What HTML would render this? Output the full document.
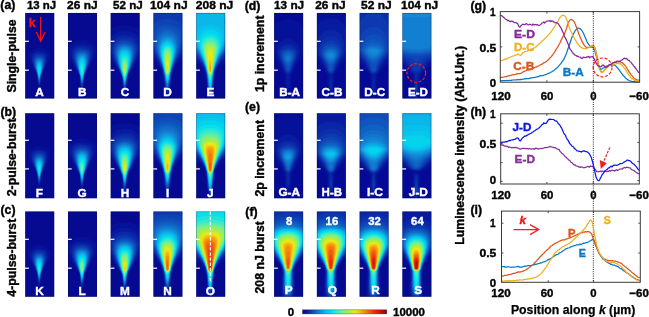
<!DOCTYPE html>
<html><head><meta charset="utf-8"><title>Figure</title><style>html,body{margin:0;padding:0;background:#fff}svg{display:block}</style></head><body>
<svg width="649" height="317" viewBox="0 0 649 317" font-family="'Liberation Sans', sans-serif" font-weight="bold">
<defs><filter id="bl" x="-10%" y="-10%" width="120%" height="120%" color-interpolation-filters="sRGB"><feGaussianBlur stdDeviation="0.7"/></filter>
<clipPath id="c1"><rect x="25.2" y="12.9" width="29.0" height="85.6"/></clipPath><clipPath id="c2"><rect x="68.0" y="12.9" width="29.0" height="85.6"/></clipPath><clipPath id="c3"><rect x="110.7" y="12.9" width="29.0" height="85.6"/></clipPath><clipPath id="c4"><rect x="153.4" y="12.9" width="29.0" height="85.6"/></clipPath><clipPath id="c5"><rect x="196.2" y="12.9" width="29.0" height="85.6"/></clipPath><clipPath id="c6"><rect x="25.2" y="113.3" width="29.0" height="84.9"/></clipPath><clipPath id="c7"><rect x="68.0" y="113.3" width="29.0" height="84.9"/></clipPath><clipPath id="c8"><rect x="110.7" y="113.3" width="29.0" height="84.9"/></clipPath><clipPath id="c9"><rect x="153.4" y="113.3" width="29.0" height="84.9"/></clipPath><clipPath id="c10"><rect x="196.2" y="113.3" width="29.0" height="84.9"/></clipPath><clipPath id="c11"><rect x="25.2" y="211.4" width="29.0" height="85.3"/></clipPath><clipPath id="c12"><rect x="68.0" y="211.4" width="29.0" height="85.3"/></clipPath><clipPath id="c13"><rect x="110.7" y="211.4" width="29.0" height="85.3"/></clipPath><clipPath id="c14"><rect x="153.4" y="211.4" width="29.0" height="85.3"/></clipPath><clipPath id="c15"><rect x="196.2" y="211.4" width="29.0" height="85.3"/></clipPath><clipPath id="c16"><rect x="274.1" y="12.9" width="29.0" height="85.6"/></clipPath><clipPath id="c17"><rect x="316.9" y="12.9" width="29.0" height="85.6"/></clipPath><clipPath id="c18"><rect x="359.6" y="12.9" width="29.0" height="85.6"/></clipPath><clipPath id="c19"><rect x="402.4" y="12.9" width="29.0" height="85.6"/></clipPath><clipPath id="c20"><rect x="274.1" y="113.3" width="29.0" height="84.9"/></clipPath><clipPath id="c21"><rect x="316.9" y="113.3" width="29.0" height="84.9"/></clipPath><clipPath id="c22"><rect x="359.6" y="113.3" width="29.0" height="84.9"/></clipPath><clipPath id="c23"><rect x="402.4" y="113.3" width="29.0" height="84.9"/></clipPath><clipPath id="c24"><rect x="274.1" y="211.4" width="29.0" height="85.3"/></clipPath><clipPath id="c25"><rect x="316.9" y="211.4" width="29.0" height="85.3"/></clipPath><clipPath id="c26"><rect x="359.6" y="211.4" width="29.0" height="85.3"/></clipPath><clipPath id="c27"><rect x="402.4" y="211.4" width="29.0" height="85.3"/></clipPath>
<linearGradient id="cb" x1="0" x2="1" y1="0" y2="0"><stop offset="0.000" stop-color="#080876"/><stop offset="0.050" stop-color="#08189e"/><stop offset="0.100" stop-color="#0c3bb1"/><stop offset="0.150" stop-color="#105fc3"/><stop offset="0.200" stop-color="#1383d5"/><stop offset="0.250" stop-color="#0dabe5"/><stop offset="0.300" stop-color="#06cbed"/><stop offset="0.350" stop-color="#09e2ea"/><stop offset="0.400" stop-color="#33e9ce"/><stop offset="0.450" stop-color="#64eea0"/><stop offset="0.500" stop-color="#8def70"/><stop offset="0.550" stop-color="#adee41"/><stop offset="0.600" stop-color="#d7ec24"/><stop offset="0.650" stop-color="#f2d912"/><stop offset="0.700" stop-color="#f7ac0e"/><stop offset="0.750" stop-color="#f48010"/><stop offset="0.800" stop-color="#f05613"/><stop offset="0.850" stop-color="#eb2e14"/><stop offset="0.900" stop-color="#d81811"/><stop offset="0.950" stop-color="#b00c0e"/><stop offset="1.000" stop-color="#7a050a"/></linearGradient>
</defs>
<rect width="649" height="317" fill="#fff"/>
<g clip-path="url(#c1)"><g filter="url(#bl)">
<rect x="22.2" y="9.9" width="35.0" height="91.7" fill="#060a91"/>
<path fill="#06119a" fill-rule="evenodd" d="M39.2,90.2L38.5,88.9L37.6,84.9L37.2,78.6L36.2,73.9L32.5,66.9L29.8,60.9L28.9,57.9L28.5,54.9L28.6,53.9L29.2,52.2L31.2,50.3L36.2,48.1L39.2,47.7L42.2,48.1L47.2,50.3L49.2,52.2L49.8,53.9L49.9,54.9L49.5,57.9L48.6,60.9L45.9,66.9L42.2,73.9L41.2,78.6L40.8,84.9L39.9,88.9Z"/>
<path fill="#081ba0" fill-rule="evenodd" d="M39.2,87.4L37.7,82.9L37.2,75.8L36.2,72.8L31.9,62.9L30.9,57.9L31.2,54.9L32.4,52.9L35.2,51.4L39.2,50.9L43.2,51.4L46.0,52.9L47.2,54.9L47.5,57.9L46.5,62.9L42.2,72.8L41.2,75.8L40.7,82.9Z"/>
<path fill="#0a25a5" fill-rule="evenodd" d="M39.2,85.7L37.9,81.9L37.2,75.1L32.9,63.9L32.4,61.9L32.0,58.9L32.5,55.9L33.8,53.9L36.2,52.6L39.2,52.3L42.2,52.6L44.6,53.9L45.9,55.9L46.4,58.9L46.0,61.9L45.5,63.9L41.2,75.1L40.5,81.9Z"/>
<path fill="#0b2faa" fill-rule="evenodd" d="M39.2,84.8L38.0,80.9L37.2,74.5L33.7,64.9L32.8,59.9L33.4,56.9L34.6,54.9L36.2,53.9L39.2,53.4L42.2,53.9L43.8,54.9L45.0,56.9L45.6,59.9L44.7,64.9L41.2,74.5L40.4,80.9Z"/>
<path fill="#0c39b0" fill-rule="evenodd" d="M39.2,84.0L38.2,80.9L37.2,74.1L34.6,66.9L33.4,60.9L33.9,57.9L35.2,55.9L37.2,54.7L39.2,54.4L41.2,54.7L43.2,55.9L44.5,57.9L45.0,60.9L43.8,66.9L41.2,74.1L40.2,80.9Z"/>
<path fill="#0d43b5" fill-rule="evenodd" d="M39.2,83.3L38.4,80.9L37.2,73.7L34.7,65.9L33.9,60.9L34.3,58.9L35.2,57.3L37.2,55.8L39.2,55.4L41.2,55.8L43.2,57.3L44.1,58.9L44.5,60.9L43.7,65.9L41.2,73.7L40.0,80.9Z"/>
<path fill="#0e4dba" fill-rule="evenodd" d="M39.2,82.7L38.4,79.9L37.2,73.3L34.9,65.9L34.4,61.9L34.6,59.9L35.7,57.9L37.2,56.8L39.2,56.4L41.2,56.8L42.7,57.9L43.8,59.9L44.0,61.9L43.5,65.9L41.2,73.3L40.0,79.9Z"/>
<path fill="#0f57bf" fill-rule="evenodd" d="M39.2,82.1L37.2,72.9L35.4,66.9L34.8,61.9L35.1,59.9L36.2,58.3L37.2,57.6L39.2,57.2L41.2,57.6L42.2,58.3L43.3,59.9L43.6,61.9L43.0,66.9L41.2,72.9Z"/>
<path fill="#1061c4" fill-rule="evenodd" d="M39.2,81.5L37.3,72.9L35.6,66.9L35.1,62.9L35.3,60.9L36.2,59.2L37.2,58.3L39.2,57.9L41.2,58.3L42.2,59.2L43.1,60.9L43.3,62.9L42.8,66.9L41.1,72.9Z"/>
<path fill="#116bc9" fill-rule="evenodd" d="M39.2,81.0L35.8,66.9L35.5,62.9L35.8,60.9L36.3,59.9L37.2,59.1L39.2,58.5L41.2,59.1L42.1,59.9L42.6,60.9L42.9,62.9L42.6,66.9Z"/>
<path fill="#1275ce" fill-rule="evenodd" d="M39.2,80.4L36.0,66.9L35.8,63.9L36.3,60.9L37.2,59.8L39.2,59.2L41.2,59.8L42.1,60.9L42.6,63.9L42.4,66.9Z"/>
<path fill="#137fd3" fill-rule="evenodd" d="M39.2,79.8L36.4,67.9L36.0,64.9L36.2,62.5L36.9,60.9L38.2,59.9L39.2,59.8L40.2,59.9L41.5,60.9L42.2,62.5L42.4,64.9L42.0,67.9Z"/>
<path fill="#1489d7" fill-rule="evenodd" d="M39.2,79.3L36.5,67.9L36.3,64.9L36.5,62.9L37.2,61.3L38.2,60.5L39.2,60.4L40.2,60.5L41.2,61.3L41.9,62.9L42.1,64.9L41.9,67.9Z"/>
<path fill="#1294dc" fill-rule="evenodd" d="M39.2,78.8L37.1,69.9L36.5,65.9L36.7,63.9L37.2,62.1L38.2,61.2L39.2,61.0L40.2,61.2L41.2,62.1L41.7,63.9L41.9,65.9L41.3,69.9Z"/>
<path fill="#10a0e0" fill-rule="evenodd" d="M39.2,78.4L37.0,68.9L36.7,65.9L37.3,62.9L38.2,61.8L39.2,61.6L40.2,61.8L41.1,62.9L41.7,65.9L41.4,68.9Z"/>
<path fill="#0dabe5" fill-rule="evenodd" d="M39.2,78.0L38.1,73.9L36.9,66.9L37.3,63.9L38.2,62.5L39.2,62.2L40.2,62.5L41.1,63.9L41.5,66.9L40.3,73.9Z"/>
<path fill="#0bb7e9" fill-rule="evenodd" d="M39.2,77.6L38.2,73.8L37.1,66.9L37.2,65.6L37.8,63.9L38.2,63.3L39.2,62.9L40.2,63.3L40.6,63.9L41.2,65.6L41.3,66.9L40.2,73.8Z"/>
<path fill="#09c0ec" fill-rule="evenodd" d="M39.2,77.2L38.1,72.9L37.3,66.9L37.5,65.9L38.2,64.1L39.2,63.6L40.2,64.1L40.9,65.9L41.1,66.9L40.3,72.9Z"/>
<path fill="#07c7ed" fill-rule="evenodd" d="M39.2,76.8L38.2,72.8L37.6,67.9L37.8,65.9L38.1,64.9L39.2,64.3L40.3,64.9L40.6,65.9L40.8,67.9L40.2,72.8Z"/>
<path fill="#06cbed" fill-rule="evenodd" d="M39.2,76.3L38.2,72.1L37.8,67.9L38.2,65.6L39.2,65.0L40.2,65.6L40.6,67.9L40.2,72.1Z"/>
<path fill="#04d3ee" fill-rule="evenodd" d="M39.2,76.3L38.2,72.1L37.8,67.9L38.2,65.6L39.2,65.0L40.2,65.6L40.6,67.9L40.2,72.1Z"/>
<path fill="#04e1ed" fill-rule="evenodd" d="M39.2,74.9L38.4,68.9L38.4,67.9L39.2,66.6L40.0,67.9L40.0,68.9Z"/>
</g></g>
<rect x="25.6" y="13.2" width="28.3" height="84.9" fill="none" stroke="#00103a" stroke-opacity="0.4" stroke-width="0.7"/>
<rect x="24.9" y="40.7" width="4" height="1.2" fill="#fff"/>
<rect x="24.9" y="69.6" width="4" height="1.2" fill="#fff"/>
<g clip-path="url(#c2)"><g filter="url(#bl)">
<rect x="65.0" y="9.9" width="35.0" height="91.7" fill="#060a91"/>
<path fill="#06119a" fill-rule="evenodd" d="M82.0,92.9L81.4,91.9L80.5,88.9L80.0,82.3L79.0,75.5L69.7,57.9L68.2,53.9L67.7,50.9L68.2,46.9L68.7,45.9L70.0,44.5L72.0,43.3L77.0,41.1L79.0,40.5L82.0,40.3L85.0,40.5L87.0,41.1L92.0,43.3L94.0,44.5L95.2,45.9L95.7,46.9L96.2,50.9L95.7,53.9L94.2,57.9L85.0,75.5L84.0,82.3L83.4,88.9L82.5,91.9Z"/>
<path fill="#081ba0" fill-rule="evenodd" d="M82.0,90.4L81.3,88.9L80.6,85.9L80.0,77.9L79.0,74.4L72.2,59.9L70.7,54.9L70.5,52.9L70.7,50.9L71.4,48.9L73.0,46.7L75.0,45.5L77.0,44.8L82.0,44.3L87.0,44.8L89.0,45.5L91.0,46.7L92.5,48.9L93.2,50.9L93.4,52.9L93.2,54.9L91.7,59.9L85.0,74.4L84.0,77.9L83.3,85.9L82.6,88.9Z"/>
<path fill="#0a25a5" fill-rule="evenodd" d="M82.0,88.7L80.6,83.9L80.0,76.8L79.0,73.7L73.5,60.9L72.3,56.9L72.0,53.9L72.6,50.9L75.0,47.8L78.0,46.4L82.0,46.0L86.0,46.4L89.0,47.8L91.3,50.9L91.9,53.9L91.6,56.9L90.4,60.9L85.0,73.7L84.0,76.8L83.3,83.9Z"/>
<path fill="#0b2faa" fill-rule="evenodd" d="M82.0,87.3L80.6,82.9L80.0,76.2L74.5,61.9L73.4,57.9L73.0,54.9L73.6,51.9L74.2,50.9L76.0,49.1L79.0,47.7L82.0,47.4L85.0,47.7L88.0,49.1L89.7,50.9L90.3,51.9L90.9,54.9L90.5,57.9L89.4,61.9L84.0,76.2L83.3,82.9Z"/>
<path fill="#0c39b0" fill-rule="evenodd" d="M82.0,86.2L80.8,82.9L80.0,75.7L75.3,62.9L74.2,58.9L73.8,55.9L74.3,52.9L76.0,50.7L79.0,49.1L82.0,48.7L85.0,49.1L88.0,50.7L89.6,52.9L90.1,55.9L89.7,58.9L88.6,62.9L84.0,75.7L83.1,82.9Z"/>
<path fill="#0d43b5" fill-rule="evenodd" d="M82.0,85.4L80.8,81.9L80.0,75.3L76.6,65.9L75.4,61.9L74.8,58.9L74.5,55.9L74.9,53.9L75.3,52.9L77.0,51.2L79.0,50.2L82.0,49.8L85.0,50.2L87.0,51.2L88.6,52.9L89.0,53.9L89.4,55.9L89.1,58.9L88.5,61.9L87.3,65.9L84.0,75.3L83.1,81.9Z"/>
<path fill="#0e4dba" fill-rule="evenodd" d="M82.0,84.7L81.0,81.6L80.0,74.9L77.5,67.9L75.8,61.9L75.1,56.9L75.7,53.9L77.0,52.2L79.0,51.1L82.0,50.7L85.0,51.1L87.0,52.2L88.2,53.9L88.8,56.9L88.1,61.9L86.4,67.9L84.0,74.9L83.0,81.6Z"/>
<path fill="#0f57bf" fill-rule="evenodd" d="M82.0,84.1L81.0,80.9L80.0,74.6L76.6,63.9L75.7,57.9L76.0,54.9L77.0,53.3L79.0,52.0L82.0,51.4L85.0,52.0L87.0,53.3L87.9,54.9L88.2,57.9L87.3,63.9L84.0,74.6L82.9,80.9Z"/>
<path fill="#1061c4" fill-rule="evenodd" d="M82.0,83.5L81.1,80.9L80.0,74.3L77.3,65.9L76.5,61.9L76.2,58.9L76.4,55.9L77.4,53.9L79.0,52.7L82.0,52.2L85.0,52.7L86.5,53.9L87.5,55.9L87.7,58.9L87.4,61.9L86.6,65.9L84.0,74.3L82.8,80.9Z"/>
<path fill="#116bc9" fill-rule="evenodd" d="M82.0,83.0L81.3,80.9L80.0,73.9L77.5,65.9L76.8,61.9L76.6,58.9L77.0,55.9L78.0,54.3L80.0,53.1L82.0,52.9L84.0,53.1L86.0,54.3L86.9,55.9L87.3,58.9L87.1,61.9L86.4,65.9L84.0,73.9L82.6,80.9Z"/>
<path fill="#1275ce" fill-rule="evenodd" d="M82.0,82.5L80.0,73.9L77.8,65.9L77.0,59.9L77.3,56.9L78.0,55.4L79.0,54.4L79.8,53.9L82.0,53.5L84.1,53.9L85.0,54.4L86.0,55.4L86.6,56.9L86.9,59.9L86.1,65.9L83.9,73.9Z"/>
<path fill="#137fd3" fill-rule="evenodd" d="M82.0,82.0L78.2,66.9L77.3,60.9L77.6,57.9L78.4,55.9L80.0,54.6L82.0,54.2L84.0,54.6L85.5,55.9L86.3,57.9L86.6,60.9L85.7,66.9Z"/>
<path fill="#1489d7" fill-rule="evenodd" d="M82.0,81.5L78.4,66.9L77.7,60.9L78.0,58.4L79.0,56.2L80.0,55.4L82.0,54.9L84.0,55.4L85.0,56.2L86.0,58.4L86.2,60.9L85.5,66.9Z"/>
<path fill="#1294dc" fill-rule="evenodd" d="M82.0,81.0L78.5,66.9L78.0,61.9L78.3,58.9L79.0,57.3L80.0,56.2L82.0,55.7L84.0,56.2L85.0,57.3L85.6,58.9L85.9,61.9L85.4,66.9Z"/>
<path fill="#10a0e0" fill-rule="evenodd" d="M82.0,80.5L78.7,66.9L78.3,61.9L78.5,59.9L79.3,57.9L80.4,56.9L82.0,56.4L83.5,56.9L84.6,57.9L85.4,59.9L85.6,61.9L85.2,66.9Z"/>
<path fill="#0dabe5" fill-rule="evenodd" d="M82.0,80.0L79.1,67.9L78.6,62.9L78.7,60.9L79.4,58.9L80.2,57.9L81.0,57.4L82.0,57.2L83.0,57.4L83.7,57.9L84.5,58.9L85.2,60.9L85.3,62.9L84.8,67.9Z"/>
<path fill="#0bb7e9" fill-rule="evenodd" d="M82.0,79.5L79.4,68.9L78.8,63.9L79.0,61.7L79.5,59.9L80.0,59.0L81.0,58.2L82.0,58.0L83.0,58.2L84.0,59.0L84.4,59.9L85.0,61.7L85.1,63.9L84.5,68.9Z"/>
<path fill="#09c0ec" fill-rule="evenodd" d="M82.0,79.0L79.9,70.9L79.1,64.9L79.3,61.9L80.0,60.0L81.0,59.1L82.0,58.8L83.0,59.1L84.0,60.0L84.6,61.9L84.8,64.9L84.0,70.9Z"/>
<path fill="#07c7ed" fill-rule="evenodd" d="M82.0,78.6L81.0,75.2L79.9,69.9L79.3,64.9L80.0,61.1L81.0,59.9L82.0,59.7L83.0,59.9L84.0,61.1L84.6,64.9L84.0,69.9L83.0,75.2Z"/>
<path fill="#06cbed" fill-rule="evenodd" d="M82.0,78.2L81.0,74.8L79.8,68.9L79.5,65.9L80.0,62.4L81.0,60.8L82.0,60.5L83.0,60.8L84.0,62.4L84.4,65.9L84.1,68.9L83.0,74.8Z"/>
<path fill="#04d3ee" fill-rule="evenodd" d="M82.0,78.1L81.0,74.8L79.8,68.9L79.6,65.9L80.0,62.5L81.0,60.9L82.0,60.5L83.0,60.9L84.0,62.5L84.3,65.9L84.1,68.9L83.0,74.8Z"/>
<path fill="#04e1ed" fill-rule="evenodd" d="M82.0,77.3L81.0,73.8L80.0,66.9L80.5,63.9L81.0,62.9L82.0,62.4L83.0,62.9L83.4,63.9L83.9,66.9L83.0,73.8Z"/>
<path fill="#1ee5dc" fill-rule="evenodd" d="M82.0,76.3L81.0,72.6L80.5,67.9L81.0,65.0L82.0,64.3L83.0,65.0L83.4,67.9L83.0,72.6Z"/>
<path fill="#38eacb" fill-rule="evenodd" d="M82.0,74.9L81.0,68.9L81.1,67.9L82.0,66.3L82.8,67.9L82.9,68.9Z"/>
</g></g>
<rect x="68.3" y="13.2" width="28.3" height="84.9" fill="none" stroke="#00103a" stroke-opacity="0.4" stroke-width="0.7"/>
<rect x="67.7" y="40.7" width="4" height="1.2" fill="#fff"/>
<rect x="67.7" y="69.6" width="4" height="1.2" fill="#fff"/>
<g clip-path="url(#c3)"><g filter="url(#bl)">
<rect x="107.7" y="9.9" width="35.0" height="91.7" fill="#060a91"/>
<path fill="#06119a" fill-rule="evenodd" d="M124.7,97.4L123.7,95.3L123.1,92.9L122.7,87.6L122.1,83.9L121.7,77.6L120.7,75.0L111.1,58.9L108.0,52.9L107.7,52.2L107.7,44.9L107.7,31.2L107.9,30.9L110.7,28.4L114.7,26.7L119.7,25.6L124.7,25.4L129.7,25.6L133.7,26.4L137.7,27.9L140.7,30.0L142.7,33.0L142.7,43.9L142.7,49.8L141.4,52.9L138.3,58.9L128.7,75.0L127.7,77.6L127.3,83.9L126.7,87.6L126.3,92.9L125.7,95.3Z"/>
<path fill="#081ba0" fill-rule="evenodd" d="M124.7,94.5L123.3,89.9L122.7,83.4L121.7,76.3L111.1,54.9L109.4,49.9L108.9,45.9L109.9,39.9L110.8,37.9L112.7,35.5L114.7,33.9L117.7,32.3L120.7,31.5L124.7,31.2L128.7,31.5L131.7,32.3L134.7,33.9L136.7,35.5L138.6,37.9L139.5,39.9L140.5,45.9L140.0,49.9L138.3,54.9L127.7,76.3L126.7,83.4L126.1,89.9Z"/>
<path fill="#0a25a5" fill-rule="evenodd" d="M124.7,92.6L123.5,88.9L122.7,81.0L121.7,75.6L113.0,56.9L111.4,51.9L110.8,46.9L111.1,44.9L112.7,40.9L113.7,39.3L115.0,37.9L116.7,36.7L119.7,35.5L124.7,34.9L129.7,35.5L132.7,36.7L134.4,37.9L135.7,39.3L136.7,40.9L138.3,44.9L138.6,46.9L138.0,51.9L136.4,56.9L127.7,75.6L126.7,81.0L125.9,88.9Z"/>
<path fill="#0b2faa" fill-rule="evenodd" d="M124.7,91.2L123.6,87.9L122.7,79.0L121.7,75.1L117.0,64.9L114.2,57.9L112.4,51.9L112.1,47.9L112.4,45.9L113.3,43.9L115.4,40.9L116.7,39.6L118.7,38.4L120.7,37.7L124.7,37.3L128.7,37.7L130.7,38.4L132.7,39.6L134.0,40.9L136.1,43.9L137.0,45.9L137.3,47.9L137.0,51.9L135.2,57.9L132.4,64.9L127.7,75.1L126.7,79.0L125.8,87.9Z"/>
<path fill="#0c39b0" fill-rule="evenodd" d="M124.7,90.1L123.5,85.9L122.7,77.9L121.7,74.7L118.2,66.9L115.1,58.9L113.7,53.9L113.2,49.9L113.2,47.9L113.8,45.9L115.0,43.9L116.7,42.1L119.7,40.1L121.7,39.5L124.7,39.2L127.7,39.5L129.7,40.1L132.7,42.1L134.4,43.9L135.6,45.9L136.2,47.9L136.2,49.9L135.7,53.9L134.3,58.9L131.2,66.9L127.7,74.7L126.7,77.9L125.9,85.9Z"/>
<path fill="#0d43b5" fill-rule="evenodd" d="M124.7,89.1L123.5,84.9L122.7,77.5L121.7,74.3L118.1,65.9L115.3,57.9L114.3,53.9L114.0,50.9L114.1,48.9L114.5,46.9L115.7,44.9L116.7,43.9L118.7,42.4L120.7,41.5L122.7,41.0L124.7,40.9L126.7,41.0L128.7,41.5L130.7,42.4L132.7,43.9L133.7,44.9L134.9,46.9L135.3,48.9L135.4,50.9L135.1,53.9L134.1,57.9L131.3,65.9L127.7,74.3L126.7,77.5L125.9,84.9Z"/>
<path fill="#0e4dba" fill-rule="evenodd" d="M124.7,88.2L123.5,83.9L122.7,77.0L116.4,59.9L115.3,55.9L114.7,51.9L115.2,47.9L116.2,45.9L117.2,44.9L118.7,43.8L120.7,42.9L124.7,42.3L128.7,42.9L130.7,43.8L132.2,44.9L133.2,45.9L134.2,47.9L134.7,51.9L134.1,55.9L133.0,59.9L126.7,77.0L125.9,83.9Z"/>
<path fill="#0f57bf" fill-rule="evenodd" d="M124.7,87.4L123.6,83.9L122.7,76.7L117.0,60.9L115.7,55.9L115.4,51.9L116.1,47.9L117.7,45.7L120.7,44.0L124.7,43.4L128.7,44.0L131.7,45.7L133.3,47.9L134.0,51.9L133.7,55.9L132.4,60.9L126.7,76.7L125.8,83.9Z"/>
<path fill="#1061c4" fill-rule="evenodd" d="M124.7,86.6L123.7,83.5L122.7,76.3L119.2,66.9L117.4,60.9L116.2,55.9L115.9,52.9L116.6,48.9L117.7,46.9L118.8,45.9L120.7,44.9L122.7,44.4L124.7,44.2L126.7,44.4L128.7,44.9L130.6,45.9L131.7,46.9L132.8,48.9L133.5,52.9L133.2,55.9L132.0,60.9L130.2,66.9L126.7,76.3L125.7,83.5Z"/>
<path fill="#116bc9" fill-rule="evenodd" d="M124.7,85.9L123.7,82.8L122.7,76.0L119.4,66.9L117.4,59.9L116.4,53.9L117.0,49.9L117.7,48.3L118.7,47.0L119.7,46.3L121.7,45.4L124.7,45.1L127.7,45.4L129.7,46.3L130.7,47.0L131.7,48.3L132.4,49.9L133.0,53.9L132.0,59.9L130.0,66.9L126.7,76.0L125.7,82.8Z"/>
<path fill="#1275ce" fill-rule="evenodd" d="M124.7,85.3L123.7,82.1L122.7,75.7L119.9,67.9L118.2,61.9L117.1,56.9L116.9,53.9L117.3,50.9L118.9,47.9L120.2,46.9L121.7,46.2L124.7,45.8L127.7,46.2L129.2,46.9L130.5,47.9L132.1,50.9L132.5,53.9L132.3,56.9L131.2,61.9L129.5,67.9L126.7,75.7L125.7,82.1Z"/>
<path fill="#137fd3" fill-rule="evenodd" d="M124.7,84.7L123.7,81.5L122.7,75.5L120.1,67.9L118.5,61.9L117.3,54.9L117.7,51.7L119.1,48.9L120.1,47.9L121.7,47.0L124.7,46.5L127.7,47.0L129.3,47.9L130.3,48.9L131.7,51.7L132.1,54.9L130.9,61.9L129.3,67.9L126.7,75.5L125.7,81.5Z"/>
<path fill="#1489d7" fill-rule="evenodd" d="M124.7,84.1L123.7,80.8L122.7,75.2L119.2,63.9L118.1,58.9L117.8,54.9L118.2,51.9L119.7,49.2L121.7,47.8L124.7,47.3L127.7,47.8L129.7,49.2L131.2,51.9L131.6,54.9L131.3,58.9L130.2,63.9L126.7,75.2L125.7,80.8Z"/>
<path fill="#1294dc" fill-rule="evenodd" d="M124.7,83.6L123.7,80.2L122.7,74.9L119.6,64.9L118.6,59.9L118.1,55.9L118.5,52.9L119.7,50.3L121.7,48.6L124.7,48.0L127.7,48.6L129.7,50.3L130.9,52.9L131.3,55.9L130.8,59.9L129.8,64.9L126.7,74.9L125.7,80.2Z"/>
<path fill="#10a0e0" fill-rule="evenodd" d="M124.7,83.1L122.8,74.9L120.0,65.9L118.8,59.9L118.5,55.9L119.0,52.9L120.1,50.9L121.7,49.5L122.7,49.0L124.7,48.8L126.7,49.0L127.7,49.5L129.3,50.9L130.4,52.9L130.9,55.9L130.6,59.9L129.4,65.9L126.6,74.9Z"/>
<path fill="#0dabe5" fill-rule="evenodd" d="M124.7,82.6L122.8,74.9L120.2,65.9L119.2,60.9L118.9,56.9L119.2,53.9L119.7,52.5L120.7,51.1L122.7,49.8L124.7,49.5L126.7,49.8L128.7,51.1L129.7,52.5L130.2,53.9L130.5,56.9L130.2,60.9L129.2,65.9L126.6,74.9Z"/>
<path fill="#0bb7e9" fill-rule="evenodd" d="M124.7,82.2L120.3,65.9L119.5,60.9L119.2,56.9L119.7,53.9L120.7,52.0L122.7,50.5L124.7,50.2L126.7,50.5L128.7,52.0L129.7,53.9L130.2,56.9L129.9,60.9L129.1,65.9Z"/>
<path fill="#09c0ec" fill-rule="evenodd" d="M124.7,81.7L120.5,65.9L119.5,57.9L119.8,54.9L120.7,52.9L121.7,51.9L122.7,51.3L124.7,50.9L126.7,51.3L127.7,51.9L128.7,52.9L129.6,54.9L129.9,57.9L128.9,65.9Z"/>
<path fill="#07c7ed" fill-rule="evenodd" d="M124.7,81.2L120.8,66.9L119.8,58.9L120.1,55.9L120.7,53.9L121.7,52.7L122.7,52.0L124.7,51.6L126.7,52.0L127.7,52.7L128.7,53.9L129.3,55.9L129.6,58.9L128.6,66.9Z"/>
<path fill="#06cbed" fill-rule="evenodd" d="M124.7,80.8L121.0,66.9L120.1,58.9L120.5,55.9L121.4,53.9L122.7,52.7L124.7,52.3L126.7,52.7L128.0,53.9L128.9,55.9L129.3,58.9L128.4,66.9Z"/>
<path fill="#04d3ee" fill-rule="evenodd" d="M124.7,80.7L121.0,66.9L120.2,58.9L120.5,55.9L121.4,53.9L122.7,52.8L124.7,52.3L126.7,52.8L128.0,53.9L128.9,55.9L129.2,58.9L128.4,66.9Z"/>
<path fill="#04e1ed" fill-rule="evenodd" d="M124.7,79.7L121.4,67.9L120.7,60.9L121.0,57.9L121.7,55.6L122.7,54.4L124.7,53.8L126.7,54.4L127.7,55.6L128.4,57.9L128.7,60.9L128.0,67.9Z"/>
<path fill="#1ee5dc" fill-rule="evenodd" d="M124.7,78.7L122.6,71.9L121.7,67.9L121.3,61.9L121.6,58.9L122.3,56.9L123.7,55.6L124.7,55.4L125.7,55.6L127.1,56.9L127.8,58.9L128.1,61.9L127.7,67.9L126.8,71.9Z"/>
<path fill="#38eacb" fill-rule="evenodd" d="M124.7,77.8L122.8,71.9L121.7,64.9L121.8,61.9L122.5,58.9L123.7,57.4L124.7,57.1L125.7,57.4L126.9,58.9L127.6,61.9L127.7,64.9L126.6,71.9Z"/>
<path fill="#55edaf" fill-rule="evenodd" d="M124.7,76.9L123.0,71.9L122.1,65.9L122.7,61.1L123.7,59.4L124.7,59.1L125.7,59.4L126.7,61.1L127.3,65.9L126.4,71.9Z"/>
<path fill="#73ef91" fill-rule="evenodd" d="M124.7,75.9L123.7,73.9L123.2,71.9L122.5,66.9L122.7,64.2L123.1,62.9L123.7,61.6L124.7,61.1L125.7,61.6L126.3,62.9L126.7,64.2L126.9,66.9L126.2,71.9L125.7,73.9Z"/>
<path fill="#8aef74" fill-rule="evenodd" d="M124.7,75.0L123.6,72.9L122.9,66.9L123.7,63.7L124.7,63.1L125.7,63.7L126.5,66.9L125.8,72.9Z"/>
<path fill="#9def58" fill-rule="evenodd" d="M124.7,74.1L123.7,72.3L123.3,67.9L123.7,65.5L124.7,64.8L125.7,65.5L126.1,67.9L125.7,72.3Z"/>
<path fill="#b1ee3d" fill-rule="evenodd" d="M124.7,73.2L124.1,71.9L123.8,68.9L123.9,67.9L124.7,66.5L125.5,67.9L125.6,68.9L125.3,71.9Z"/>
</g></g>
<rect x="111.0" y="13.2" width="28.3" height="84.9" fill="none" stroke="#00103a" stroke-opacity="0.4" stroke-width="0.7"/>
<rect x="110.4" y="40.7" width="4" height="1.2" fill="#fff"/>
<rect x="110.4" y="69.6" width="4" height="1.2" fill="#fff"/>
<g clip-path="url(#c4)"><g filter="url(#bl)">
<rect x="150.4" y="9.9" width="35.0" height="91.7" fill="#060a91"/>
<path fill="#06119a" fill-rule="evenodd" d="M167.4,97.2L166.2,95.9L164.9,91.9L163.8,86.9L162.4,76.5L161.4,71.4L160.4,68.7L158.4,65.3L155.4,61.9L152.4,59.8L150.4,59.2L150.4,9.9L185.4,9.8L185.4,59.1L182.4,59.8L179.4,61.9L176.4,65.3L174.4,68.7L173.4,71.4L172.4,76.5L171.1,86.9L170.0,91.9L168.7,95.9Z"/>
<path fill="#081ba0" fill-rule="evenodd" d="M167.4,94.7L166.2,92.9L165.0,88.9L162.4,71.9L161.4,68.7L159.4,64.5L156.4,59.9L153.4,56.2L150.4,53.5L150.4,9.9L185.4,9.9L185.4,52.8L182.4,55.2L178.4,59.9L175.4,64.5L173.4,68.7L172.4,71.9L169.9,88.9L168.7,92.9Z"/>
<path fill="#0a25a5" fill-rule="evenodd" d="M167.4,93.0L166.4,91.7L165.8,89.9L164.9,85.9L163.4,74.6L162.4,70.1L161.4,67.3L159.4,63.1L156.4,57.9L153.4,53.5L150.4,49.9L150.4,9.9L185.4,9.9L185.4,48.8L182.4,52.2L178.4,57.9L175.4,63.1L173.4,67.3L172.4,70.1L171.4,74.6L170.0,85.9L169.1,89.9L168.4,91.7Z"/>
<path fill="#0b2faa" fill-rule="evenodd" d="M167.4,91.8L166.4,90.4L165.9,88.9L165.0,83.9L163.4,73.1L162.4,69.0L161.4,66.3L157.4,58.1L150.4,46.5L150.4,9.9L185.4,9.9L185.4,45.1L182.4,49.5L178.4,56.3L175.4,61.9L173.4,66.3L172.4,69.0L171.4,73.1L169.9,83.9L169.0,88.9L168.4,90.4Z"/>
<path fill="#0c39b0" fill-rule="evenodd" d="M167.4,90.8L166.4,89.3L166.0,87.9L164.0,74.9L162.4,68.2L159.4,60.8L150.4,42.4L150.4,9.9L185.4,9.9L185.4,40.5L175.4,60.8L172.4,68.2L170.9,74.9L168.9,87.9L168.4,89.3Z"/>
<path fill="#0d43b5" fill-rule="evenodd" d="M167.4,89.9L166.4,88.3L166.1,86.9L164.4,75.9L162.4,67.4L160.4,62.2L153.9,46.9L151.0,36.9L150.5,33.9L150.4,31.9L150.4,29.6L151.4,26.9L153.0,24.9L155.4,22.6L157.4,21.2L160.4,19.8L163.4,19.0L167.4,18.6L170.4,18.8L173.4,19.5L176.4,20.7L178.5,21.9L181.4,24.4L183.4,26.9L184.3,28.9L184.6,30.9L183.9,36.9L181.0,46.9L174.4,62.2L172.4,67.4L170.5,75.9L168.8,86.9L168.4,88.3Z"/>
<path fill="#0e4dba" fill-rule="evenodd" d="M167.4,89.1L166.4,87.3L166.1,85.9L164.4,74.8L162.4,66.8L156.9,52.9L154.9,46.9L153.8,40.9L153.5,36.9L153.9,33.9L154.4,31.7L155.4,29.8L157.1,27.9L159.4,26.3L161.4,25.4L164.4,24.5L167.4,24.2L170.4,24.5L173.4,25.4L175.4,26.3L177.8,27.9L179.4,29.8L180.4,31.7L181.0,33.9L181.4,36.9L181.1,40.9L180.0,46.9L178.0,52.9L172.4,66.8L170.4,74.8L168.8,85.9L168.4,87.3Z"/>
<path fill="#0f57bf" fill-rule="evenodd" d="M167.4,88.3L166.4,86.4L166.1,84.9L164.6,74.9L163.4,69.6L161.4,63.2L157.8,53.9L156.0,47.9L155.3,40.9L155.4,37.9L155.9,35.9L156.7,33.9L158.4,31.3L160.4,29.6L162.4,28.6L165.4,27.7L167.4,27.6L169.4,27.7L172.4,28.6L174.4,29.6L176.4,31.3L178.2,33.9L179.0,35.9L179.5,37.9L179.6,40.9L178.9,47.9L177.1,53.9L173.4,63.2L171.4,69.6L170.3,74.9L168.8,84.9L168.4,86.4Z"/>
<path fill="#1061c4" fill-rule="evenodd" d="M167.4,87.5L166.4,85.5L166.1,83.9L164.7,74.9L163.4,69.0L157.2,49.9L156.6,46.9L156.4,43.9L156.7,39.9L157.1,37.9L158.0,35.9L159.4,33.9L162.4,31.4L164.4,30.6L167.4,30.1L170.4,30.6L172.4,31.4L175.5,33.9L176.9,35.9L177.8,37.9L178.2,39.9L178.5,43.9L178.3,46.9L177.7,49.9L171.4,69.0L170.2,74.9L168.8,83.9L168.4,85.5Z"/>
<path fill="#116bc9" fill-rule="evenodd" d="M167.4,86.8L166.3,83.9L164.8,74.9L163.4,68.5L158.7,53.9L157.7,49.9L157.2,45.9L158.0,39.9L159.4,36.7L161.4,34.5L163.4,33.3L165.4,32.5L167.4,32.3L169.4,32.5L171.4,33.3L173.4,34.5L175.4,36.7L176.9,39.9L177.7,45.9L177.2,49.9L176.2,53.9L171.4,68.5L170.1,74.9L168.6,83.9Z"/>
<path fill="#1275ce" fill-rule="evenodd" d="M167.4,86.0L166.3,82.9L165.0,74.9L163.4,68.0L158.8,52.9L157.9,46.9L158.1,43.9L158.8,40.9L160.4,37.7L161.4,36.6L163.4,35.1L165.4,34.4L167.4,34.1L169.4,34.4L171.4,35.1L173.4,36.6L174.4,37.7L176.1,40.9L176.8,43.9L177.0,46.9L176.1,52.9L171.4,68.0L169.9,74.9L168.6,82.9Z"/>
<path fill="#137fd3" fill-rule="evenodd" d="M167.4,85.3L166.4,83.0L165.1,74.9L163.4,67.5L159.2,52.9L158.5,46.9L159.2,42.9L159.9,40.9L161.1,38.9L163.4,36.8L165.4,35.9L167.4,35.6L169.4,35.9L171.4,36.8L173.8,38.9L175.0,40.9L175.7,42.9L176.4,46.9L175.7,52.9L171.4,67.5L169.8,74.9L168.4,83.0Z"/>
<path fill="#1489d7" fill-rule="evenodd" d="M167.4,84.6L166.4,82.3L165.4,75.9L163.4,67.0L160.0,54.9L159.2,50.9L159.0,47.9L159.6,43.9L161.4,40.1L162.6,38.9L164.4,37.6L167.4,36.9L170.4,37.6L172.3,38.9L173.4,40.1L175.3,43.9L175.9,47.9L175.7,50.9L174.9,54.9L171.4,67.0L169.5,75.9L168.4,82.3Z"/>
<path fill="#1294dc" fill-rule="evenodd" d="M167.4,84.0L166.4,81.6L165.4,75.5L163.4,66.6L160.2,54.9L159.7,51.9L159.5,47.9L159.7,45.9L160.4,43.9L162.4,40.4L164.4,38.9L167.4,38.1L170.4,38.9L172.4,40.4L174.5,43.9L175.2,45.9L175.4,47.9L175.2,51.9L174.7,54.9L171.4,66.6L169.4,75.5L168.4,81.6Z"/>
<path fill="#10a0e0" fill-rule="evenodd" d="M167.4,83.3L166.4,80.9L165.5,74.9L163.4,66.1L160.7,55.9L160.0,51.9L159.9,48.9L160.0,46.9L160.6,44.9L162.4,41.8L164.4,40.0L165.4,39.5L167.4,39.1L169.4,39.5L170.4,40.0L172.4,41.8L174.3,44.9L174.9,46.9L175.0,48.9L174.9,51.9L174.2,55.9L171.4,66.1L169.4,74.9L168.4,80.9Z"/>
<path fill="#0dabe5" fill-rule="evenodd" d="M167.4,82.7L166.4,80.2L165.5,74.9L161.0,55.9L160.3,49.9L160.8,45.9L162.4,43.0L164.4,41.1L165.4,40.5L167.4,40.1L169.4,40.5L170.4,41.1L172.4,43.0L174.1,45.9L174.6,49.9L173.9,55.9L169.4,74.9L168.4,80.2Z"/>
<path fill="#0bb7e9" fill-rule="evenodd" d="M167.4,82.1L166.4,79.6L165.6,74.9L165.0,72.9L163.4,65.1L161.2,55.9L160.6,50.9L161.0,46.9L162.4,44.0L164.4,42.1L165.4,41.5L167.4,41.0L169.4,41.5L170.4,42.1L172.4,44.0L173.9,46.9L174.3,50.9L173.7,55.9L171.4,65.1L169.9,72.9L169.3,74.9L168.4,79.6Z"/>
<path fill="#09c0ec" fill-rule="evenodd" d="M167.4,81.5L166.4,78.9L161.8,57.9L161.1,53.9L160.9,50.9L161.2,47.9L162.5,44.9L164.4,42.9L165.4,42.4L167.4,41.9L169.4,42.4L170.4,42.9L172.4,44.9L173.7,47.9L174.0,50.9L173.8,53.9L173.1,57.9L168.4,78.9Z"/>
<path fill="#07c7ed" fill-rule="evenodd" d="M167.4,81.0L166.4,78.3L165.8,74.9L164.9,71.9L161.8,56.9L161.2,51.9L161.6,47.9L162.4,45.9L164.4,43.7L165.4,43.1L167.4,42.6L169.4,43.1L170.4,43.7L172.4,45.9L173.3,47.9L173.7,51.9L173.1,56.9L170.0,71.9L169.1,74.9L168.4,78.3Z"/>
<path fill="#06cbed" fill-rule="evenodd" d="M167.4,80.4L165.0,71.9L162.0,56.9L161.5,51.9L162.0,47.9L163.0,45.9L164.4,44.4L165.4,43.8L167.4,43.3L169.4,43.8L170.4,44.4L171.9,45.9L172.9,47.9L173.4,51.9L172.9,56.9L169.9,71.9Z"/>
<path fill="#04d3ee" fill-rule="evenodd" d="M167.4,80.4L165.0,71.9L162.0,56.9L161.5,51.9L162.1,47.9L163.1,45.9L164.4,44.4L165.4,43.8L167.4,43.4L169.4,43.8L170.4,44.4L171.8,45.9L172.8,47.9L173.4,51.9L172.9,56.9L169.9,71.9Z"/>
<path fill="#04e1ed" fill-rule="evenodd" d="M167.4,79.2L165.1,71.9L162.4,56.9L162.1,52.9L162.4,49.6L163.4,47.0L165.4,45.2L167.4,44.6L169.4,45.2L171.4,47.0L172.4,49.6L172.8,52.9L172.5,56.9L169.8,71.9Z"/>
<path fill="#1ee5dc" fill-rule="evenodd" d="M167.4,78.0L165.3,71.9L163.0,58.9L162.6,53.9L162.8,50.9L164.0,47.9L165.4,46.4L167.4,45.8L169.4,46.4L170.9,47.9L172.1,50.9L172.3,53.9L171.9,58.9L169.6,71.9Z"/>
<path fill="#38eacb" fill-rule="evenodd" d="M167.4,76.8L165.4,71.9L163.4,58.9L163.0,54.9L163.2,51.9L164.3,48.9L165.4,47.6L167.4,46.8L169.4,47.6L170.6,48.9L171.7,51.9L171.9,54.9L171.5,58.9L169.5,71.9Z"/>
<path fill="#55edaf" fill-rule="evenodd" d="M167.4,75.7L166.4,74.2L165.6,71.9L163.5,55.9L163.8,52.9L164.4,50.7L165.4,49.2L166.4,48.5L167.4,48.3L168.4,48.5L169.4,49.2L170.4,50.7L171.1,52.9L171.4,55.9L169.3,71.9L168.4,74.2Z"/>
<path fill="#73ef91" fill-rule="evenodd" d="M167.4,74.8L166.4,73.7L165.8,71.9L164.5,61.9L164.1,56.9L164.3,53.9L165.0,51.9L166.4,50.2L167.4,49.9L168.4,50.2L169.9,51.9L170.6,53.9L170.8,56.9L170.4,61.9L169.1,71.9L168.4,73.7Z"/>
<path fill="#8aef74" fill-rule="evenodd" d="M167.4,74.3L166.4,73.3L166.0,71.9L165.1,64.9L164.6,57.9L164.9,54.9L165.4,53.2L166.4,51.9L167.4,51.6L168.4,51.9L169.4,53.2L170.0,54.9L170.3,57.9L169.8,64.9L168.9,71.9L168.4,73.3Z"/>
<path fill="#9def58" fill-rule="evenodd" d="M167.4,73.8L166.4,72.8L166.1,71.9L165.4,65.9L165.2,59.9L165.5,55.9L166.4,53.8L167.4,53.3L168.4,53.8L169.4,55.9L169.7,59.9L169.5,65.9L168.8,71.9L168.4,72.8Z"/>
<path fill="#b1ee3d" fill-rule="evenodd" d="M167.4,73.4L166.3,71.9L165.6,61.9L166.2,56.9L166.4,56.0L167.4,55.2L168.4,56.0L168.7,56.9L169.3,61.9L168.6,71.9Z"/>
<path fill="#caed2d" fill-rule="evenodd" d="M167.4,73.0L166.6,71.9L166.4,71.3L166.1,64.9L166.4,59.3L167.4,57.7L168.4,59.3L168.8,64.9L168.4,71.3L168.3,71.9Z"/>
<path fill="#e3ec1c" fill-rule="evenodd" d="M167.4,72.5L167.0,71.9L166.8,70.9L166.4,66.9L166.4,64.3L167.4,60.8L168.4,64.3L168.5,66.9L168.1,70.9L167.9,71.9Z"/>
<path fill="#f1de13" fill-rule="evenodd" d="M167.4,72.0L166.9,67.9L167.4,64.1L168.0,67.9Z"/>
</g></g>
<rect x="153.8" y="13.2" width="28.3" height="84.9" fill="none" stroke="#00103a" stroke-opacity="0.4" stroke-width="0.7"/>
<rect x="153.1" y="40.7" width="4" height="1.2" fill="#fff"/>
<rect x="153.1" y="69.6" width="4" height="1.2" fill="#fff"/>
<g clip-path="url(#c5)"><g filter="url(#bl)">
<rect x="193.2" y="9.9" width="35.0" height="91.7" fill="#060a91"/>
<path fill="#06119a" fill-rule="evenodd" d="M210.2,100.9L210.0,98.9L208.8,97.9L207.7,94.9L206.6,88.9L205.2,76.1L204.2,71.2L203.2,68.8L201.2,66.1L199.2,64.6L197.2,63.9L193.2,63.7L193.0,9.9L228.2,9.7L228.2,63.7L223.2,63.9L221.2,64.6L219.2,66.1L217.2,68.8L216.2,71.2L215.2,76.1L213.8,88.9L212.7,94.9L211.6,97.9L210.4,98.9Z"/>
<path fill="#081ba0" fill-rule="evenodd" d="M210.2,97.4L208.9,95.9L207.6,90.9L206.2,78.1L205.2,71.9L204.2,68.9L202.2,65.4L199.2,61.9L196.2,60.1L193.2,59.4L193.0,9.9L228.2,9.7L228.2,59.3L224.2,60.1L221.2,61.9L218.2,65.4L216.2,68.9L215.2,71.9L214.2,78.1L212.8,90.9L211.5,95.9Z"/>
<path fill="#0a25a5" fill-rule="evenodd" d="M210.2,96.3L209.1,94.9L207.8,89.9L206.2,74.9L205.2,70.4L204.2,67.8L202.2,64.2L199.2,60.4L196.2,57.9L193.2,56.7L193.0,9.9L228.2,9.7L228.2,56.4L225.2,57.4L222.2,59.4L219.2,62.7L216.2,67.8L215.2,70.4L214.2,74.9L212.6,89.9L211.3,94.9Z"/>
<path fill="#0b2faa" fill-rule="evenodd" d="M210.2,95.3L209.2,93.9L208.3,90.9L207.6,86.9L207.2,81.2L206.2,73.4L205.2,69.5L204.2,67.0L202.2,63.3L199.2,59.2L196.2,56.4L193.2,54.6L193.1,9.9L228.2,9.8L228.2,54.3L225.2,55.7L222.2,58.1L219.2,61.7L216.2,67.0L215.2,69.5L214.2,73.4L213.2,81.2L212.8,86.9L212.1,90.9L211.2,93.9Z"/>
<path fill="#0c39b0" fill-rule="evenodd" d="M210.2,94.4L209.2,93.0L208.4,89.9L206.6,74.9L205.2,68.7L203.2,64.2L200.2,59.4L197.2,56.0L193.2,53.0L193.1,9.9L228.2,9.8L228.2,52.5L225.2,54.3L222.2,57.0L219.2,60.9L216.2,66.3L215.2,68.7L214.2,72.4L213.2,79.0L212.6,86.9L211.8,90.9L211.2,93.0Z"/>
<path fill="#0d43b5" fill-rule="evenodd" d="M210.2,93.6L209.2,92.2L208.5,89.9L207.2,77.3L206.2,71.5L205.2,68.2L203.2,63.6L200.2,58.6L197.2,54.9L193.2,51.6L193.1,9.9L228.2,9.8L228.2,51.0L225.2,53.0L222.2,56.0L219.2,60.1L216.2,65.7L214.2,71.5L213.6,74.9L211.9,89.9L211.2,92.2Z"/>
<path fill="#0e4dba" fill-rule="evenodd" d="M210.2,92.9L209.2,91.5L208.5,88.9L207.2,75.9L206.2,70.8L205.2,67.6L203.2,63.0L200.2,57.8L197.2,53.9L193.2,50.3L193.1,9.9L228.2,9.8L228.2,49.7L225.2,51.9L222.2,55.1L219.2,59.4L216.2,65.1L214.2,70.8L213.2,75.9L211.7,89.9L211.2,91.5Z"/>
<path fill="#0f57bf" fill-rule="evenodd" d="M210.2,92.4L209.2,90.9L208.7,88.9L207.2,74.9L206.2,70.3L204.2,64.6L202.2,60.5L199.2,55.6L196.2,51.9L193.2,49.1L193.1,9.9L228.2,9.8L228.2,48.4L225.2,50.9L222.2,54.3L219.2,58.7L216.2,64.6L214.2,70.3L213.2,74.9L211.7,88.9L211.2,90.9Z"/>
<path fill="#1061c4" fill-rule="evenodd" d="M210.2,91.9L209.2,90.3L208.6,87.9L207.2,74.3L206.2,69.8L204.2,64.1L202.2,59.9L199.2,54.9L196.2,50.9L193.2,48.0L193.1,9.9L228.2,9.8L228.2,47.2L225.2,49.9L222.2,53.5L219.2,58.1L216.2,64.1L214.2,69.8L213.2,74.3L211.8,87.9L211.2,90.3Z"/>
<path fill="#116bc9" fill-rule="evenodd" d="M210.2,91.4L209.2,89.7L208.8,87.9L207.2,73.7L206.2,69.3L204.2,63.6L202.2,59.3L199.2,54.1L196.2,50.0L193.2,46.8L193.1,9.9L228.2,9.8L228.2,45.9L225.2,48.9L222.2,52.7L219.2,57.5L216.2,63.6L214.2,69.3L213.2,73.7L211.6,87.9L211.2,89.7Z"/>
<path fill="#1275ce" fill-rule="evenodd" d="M210.2,90.9L209.2,89.1L208.9,87.9L207.5,74.9L206.2,68.9L205.2,65.8L203.2,60.9L200.2,55.1L197.2,50.4L193.2,45.5L193.1,9.9L228.2,9.8L228.2,44.5L224.2,49.1L221.2,53.4L218.2,58.8L216.2,63.2L214.2,68.9L213.2,73.3L211.5,87.9L211.2,89.1Z"/>
<path fill="#137fd3" fill-rule="evenodd" d="M210.2,90.5L209.1,87.9L207.6,74.9L206.2,68.6L205.2,65.4L203.2,60.4L200.2,54.4L197.2,49.6L193.2,44.2L193.1,9.9L228.2,9.8L228.2,43.1L225.2,46.7L221.2,52.7L218.2,58.3L216.2,62.7L214.2,68.6L213.2,72.9L212.2,79.3L211.3,87.9Z"/>
<path fill="#1489d7" fill-rule="evenodd" d="M210.2,90.0L209.2,87.9L207.7,74.9L206.2,68.2L205.2,65.0L203.2,59.9L200.2,53.8L195.2,45.5L193.2,42.7L193.2,9.9L228.2,9.9L228.2,41.6L226.2,44.0L221.2,52.0L218.2,57.7L216.2,62.3L214.2,68.2L213.2,72.5L212.2,78.4L211.4,86.9L211.2,88.0Z"/>
<path fill="#1294dc" fill-rule="evenodd" d="M210.2,89.6L209.2,87.3L207.8,74.9L206.2,67.8L205.2,64.6L203.2,59.4L200.2,53.1L195.2,44.1L193.2,41.1L193.2,9.9L228.2,9.9L228.2,39.9L225.2,44.1L220.2,53.1L217.2,59.4L215.2,64.6L214.2,67.8L212.6,74.9L211.2,87.3Z"/>
<path fill="#10a0e0" fill-rule="evenodd" d="M210.2,89.1L209.2,86.5L207.9,74.9L205.2,64.2L201.2,54.5L195.2,42.4L193.2,39.1L193.2,9.9L228.2,9.9L228.2,37.8L225.2,42.4L220.2,52.5L217.2,59.0L215.2,64.2L212.5,74.9L211.2,86.5Z"/>
<path fill="#0dabe5" fill-rule="evenodd" d="M210.2,88.7L209.2,85.5L208.0,74.9L205.2,63.8L202.2,56.1L193.2,36.4L193.2,9.9L228.2,9.9L228.2,34.7L224.5,41.9L222.6,46.9L217.2,58.5L215.2,63.8L212.4,74.9L211.2,85.5Z"/>
<path fill="#0bb7e9" fill-rule="evenodd" d="M210.2,88.2L209.2,84.5L208.1,74.9L205.2,63.4L202.2,55.6L198.3,46.9L193.3,30.9L193.2,27.9L194.2,26.2L196.4,23.9L196.7,22.9L193.4,9.9L227.0,9.9L223.7,22.9L224.0,23.9L226.2,26.2L227.2,27.9L227.3,28.9L227.1,30.9L222.1,46.9L218.2,55.6L215.2,63.4L212.3,74.9L211.2,84.5Z"/>
<path fill="#09c0ec" fill-rule="evenodd" d="M210.2,87.7L209.2,83.4L208.2,75.0L206.2,66.5L204.2,60.2L198.8,46.9L197.1,39.9L196.6,35.9L197.0,30.9L198.2,28.9L199.2,28.0L201.2,26.9L204.2,25.8L207.2,25.1L210.2,24.9L213.2,25.1L216.2,25.8L219.2,26.9L221.2,28.0L222.2,28.9L223.4,30.9L223.8,35.9L223.3,39.9L221.6,46.9L216.2,60.2L214.2,66.5L212.2,75.0L211.2,83.4Z"/>
<path fill="#07c7ed" fill-rule="evenodd" d="M210.2,87.1L209.2,82.2L208.3,74.9L206.2,66.2L204.2,59.7L199.3,46.9L198.2,40.9L198.0,37.9L198.2,35.9L198.8,33.9L199.7,31.9L201.2,30.3L203.2,29.1L205.2,28.4L210.2,27.8L215.2,28.4L217.2,29.1L219.2,30.3L220.7,31.9L221.6,33.9L222.2,35.9L222.4,37.9L222.2,40.9L221.1,46.9L216.2,59.7L214.2,66.2L212.1,74.9L211.2,82.2Z"/>
<path fill="#06cbed" fill-rule="evenodd" d="M210.2,86.4L208.3,74.9L207.2,69.9L205.2,62.3L199.7,46.9L198.9,39.9L199.1,37.9L199.7,35.9L201.0,33.9L202.2,32.5L205.2,30.7L207.2,30.1L210.2,29.8L213.2,30.1L215.2,30.7L218.2,32.5L219.4,33.9L220.7,35.9L221.3,37.9L221.5,39.9L220.7,46.9L215.2,62.3L213.2,69.9L212.1,74.9Z"/>
<path fill="#04d3ee" fill-rule="evenodd" d="M210.2,86.4L208.3,74.9L206.2,65.8L204.2,59.3L199.7,46.9L199.0,39.9L199.2,37.9L199.8,35.9L202.2,32.7L205.2,30.8L207.2,30.2L210.2,30.0L213.2,30.2L215.2,30.8L218.2,32.7L220.6,35.9L221.2,37.9L221.4,39.9L220.7,46.9L216.2,59.3L214.2,65.8L212.1,74.9Z"/>
<path fill="#04e1ed" fill-rule="evenodd" d="M210.2,84.4L208.5,74.9L207.9,72.9L206.2,65.0L201.0,48.9L200.3,44.9L200.8,39.9L202.2,36.9L203.2,35.9L205.2,34.6L208.2,33.6L210.2,33.5L212.2,33.6L215.2,34.6L217.2,35.9L218.2,36.9L219.6,39.9L220.1,44.9L219.4,48.9L214.2,65.0L212.5,72.9L211.9,74.9Z"/>
<path fill="#1ee5dc" fill-rule="evenodd" d="M210.2,82.1L206.4,64.9L201.6,48.9L201.2,45.9L201.4,43.9L202.2,40.9L203.2,38.9L204.2,37.8L206.2,36.6L208.2,35.9L210.2,35.7L212.2,35.9L214.2,36.6L216.2,37.8L217.2,38.9L218.2,40.9L219.0,43.9L219.2,45.9L218.8,48.9L214.0,64.9Z"/>
<path fill="#38eacb" fill-rule="evenodd" d="M210.2,80.2L208.1,72.9L206.6,64.9L203.0,51.9L202.0,46.9L202.2,44.9L202.8,42.9L204.5,39.9L205.6,38.9L207.2,38.1L210.2,37.5L213.2,38.1L214.8,38.9L215.9,39.9L217.6,42.9L218.2,44.9L218.4,46.9L217.4,51.9L213.8,64.9L212.3,72.9Z"/>
<path fill="#55edaf" fill-rule="evenodd" d="M210.2,78.4L208.2,72.5L206.6,63.9L203.6,51.9L202.9,47.9L203.4,44.9L205.2,41.9L207.2,40.2L210.2,39.5L213.2,40.2L215.2,41.9L217.0,44.9L217.5,47.9L216.8,51.9L213.8,63.9L212.2,72.5Z"/>
<path fill="#73ef91" fill-rule="evenodd" d="M210.2,76.8L208.2,71.9L206.9,63.9L204.3,51.9L203.9,47.9L204.2,46.1L204.8,44.9L206.2,43.2L208.2,42.0L210.2,41.7L212.2,42.0L214.2,43.2L215.6,44.9L216.2,46.1L216.5,47.9L216.1,51.9L213.5,63.9L212.2,71.9Z"/>
<path fill="#8aef74" fill-rule="evenodd" d="M210.2,75.6L209.2,74.2L208.4,71.9L205.2,53.9L204.8,48.9L205.1,46.9L206.2,45.1L208.2,43.8L210.2,43.4L212.2,43.8L214.2,45.1L215.3,46.9L215.6,48.9L215.2,53.9L212.0,71.9L211.2,74.2Z"/>
<path fill="#9def58" fill-rule="evenodd" d="M210.2,74.8L209.2,73.8L208.5,71.9L206.1,55.9L205.7,50.9L205.7,48.9L206.4,46.9L208.2,45.3L210.2,44.9L212.2,45.3L214.0,46.9L214.7,48.9L214.7,50.9L214.3,55.9L211.9,71.9L211.2,73.8Z"/>
<path fill="#b1ee3d" fill-rule="evenodd" d="M210.2,74.3L209.2,73.3L208.7,71.9L206.8,56.9L206.5,51.9L206.7,49.9L207.3,47.9L208.3,46.9L210.2,46.4L212.1,46.9L213.1,47.9L213.7,49.9L213.9,51.9L213.6,56.9L211.7,71.9L211.2,73.3Z"/>
<path fill="#caed2d" fill-rule="evenodd" d="M211.2,72.9L210.2,73.8L209.2,72.9L208.9,71.9L208.2,66.9L207.3,55.9L207.3,52.9L208.0,49.9L209.2,48.3L210.2,48.1L211.2,48.3L212.2,49.4L212.7,50.9L213.1,53.9L212.2,66.9Z"/>
<path fill="#e3ec1c" fill-rule="evenodd" d="M210.2,73.5L209.2,72.4L209.0,71.9L208.4,65.9L208.0,56.9L208.5,52.9L209.2,51.3L210.2,50.7L211.2,51.3L211.9,52.9L212.4,56.9L212.0,65.9L211.4,71.9L211.2,72.4Z"/>
<path fill="#f1de13" fill-rule="evenodd" d="M210.2,73.1L209.2,71.9L208.7,65.9L209.0,56.9L209.2,55.7L210.2,54.5L211.2,55.7L211.4,56.9L211.7,65.9L211.2,71.9Z"/>
<path fill="#f4c310" fill-rule="evenodd" d="M210.2,72.7L209.6,71.9L209.2,70.1L209.0,66.9L209.2,63.5L210.2,59.6L211.2,63.5L211.4,66.9L211.2,70.1L210.8,71.9Z"/>
<path fill="#f7a80e" fill-rule="evenodd" d="M210.2,72.1L209.4,67.9L209.6,65.9L210.2,64.1L210.8,65.9L211.0,67.9Z"/>
<path fill="#f58d10" fill-rule="evenodd" d="M210.2,70.5L210.0,67.9L210.2,66.6L210.4,67.9Z"/>
</g></g>
<rect x="196.5" y="13.2" width="28.3" height="84.9" fill="none" stroke="#00103a" stroke-opacity="0.4" stroke-width="0.7"/>
<rect x="195.9" y="40.7" width="4" height="1.2" fill="#fff"/>
<rect x="195.9" y="69.6" width="4" height="1.2" fill="#fff"/>
<g clip-path="url(#c6)"><g filter="url(#bl)">
<rect x="22.2" y="110.3" width="35.0" height="91.7" fill="#060a91"/>
<path fill="#06119a" fill-rule="evenodd" d="M39.2,189.1L38.4,187.3L37.6,184.3L37.2,177.7L36.2,172.7L31.8,164.3L29.5,159.3L28.7,156.3L28.3,153.3L28.7,151.3L29.2,150.6L31.2,148.8L35.2,146.7L37.2,146.2L39.2,146.1L41.2,146.2L43.2,146.7L47.2,148.8L49.2,150.6L49.7,151.3L50.1,153.3L49.7,156.3L48.9,159.3L46.6,164.3L42.2,172.7L41.2,177.7L40.8,184.3L40.0,187.3Z"/>
<path fill="#081ba0" fill-rule="evenodd" d="M39.2,186.3L37.6,181.3L37.2,174.7L36.2,171.7L31.7,161.3L30.9,158.3L30.7,156.3L31.0,153.3L32.4,151.3L35.2,149.9L39.2,149.4L43.2,149.9L46.0,151.3L47.4,153.3L47.7,156.3L47.5,158.3L46.7,161.3L42.2,171.7L41.2,174.7L40.8,181.3Z"/>
<path fill="#0a25a5" fill-rule="evenodd" d="M39.2,184.7L38.0,181.3L37.2,173.9L32.7,162.3L32.0,159.3L31.8,157.3L32.3,154.3L33.7,152.3L36.2,151.1L39.2,150.7L42.2,151.1L44.7,152.3L46.1,154.3L46.6,157.3L46.4,159.3L45.7,162.3L41.2,173.9L40.4,181.3Z"/>
<path fill="#0b2faa" fill-rule="evenodd" d="M39.2,183.7L38.0,180.3L37.2,173.3L33.8,164.3L32.8,160.3L32.6,158.3L33.2,155.3L34.5,153.3L36.2,152.3L39.2,151.8L42.2,152.3L43.9,153.3L45.2,155.3L45.8,158.3L45.6,160.3L44.6,164.3L41.2,173.3L40.4,180.3Z"/>
<path fill="#0c39b0" fill-rule="evenodd" d="M39.2,183.0L38.1,179.3L37.2,172.9L34.5,165.3L33.7,162.3L33.2,159.3L33.7,156.3L35.0,154.3L37.2,153.0L39.2,152.8L41.2,153.0L43.4,154.3L44.7,156.3L45.2,159.3L44.7,162.3L43.9,165.3L41.2,172.9L40.3,179.3Z"/>
<path fill="#0d43b5" fill-rule="evenodd" d="M39.2,182.3L38.2,179.3L37.2,172.5L34.5,164.3L33.7,159.3L34.1,157.3L35.2,155.4L37.2,154.0L39.2,153.7L41.2,154.0L43.2,155.4L44.3,157.3L44.7,159.3L43.9,164.3L41.2,172.5L40.2,179.3Z"/>
<path fill="#0e4dba" fill-rule="evenodd" d="M39.2,181.7L38.4,179.3L37.2,172.2L34.7,164.3L34.2,160.3L34.4,158.3L35.4,156.3L37.2,155.0L39.2,154.6L41.2,155.0L43.0,156.3L44.0,158.3L44.2,160.3L43.7,164.3L41.2,172.2L40.0,179.3Z"/>
<path fill="#0f57bf" fill-rule="evenodd" d="M39.2,181.1L38.6,179.3L37.2,171.8L35.0,164.3L34.6,160.3L34.9,158.3L36.2,156.5L37.2,155.8L39.2,155.5L41.2,155.8L42.2,156.5L43.5,158.3L43.8,160.3L43.4,164.3L41.2,171.8L39.8,179.3Z"/>
<path fill="#1061c4" fill-rule="evenodd" d="M39.2,180.6L37.2,171.5L35.4,165.3L34.9,161.3L35.2,159.0L36.2,157.3L37.2,156.6L39.2,156.2L41.2,156.6L42.2,157.3L43.2,159.0L43.5,161.3L43.0,165.3L41.2,171.5Z"/>
<path fill="#116bc9" fill-rule="evenodd" d="M39.2,180.1L35.6,165.3L35.2,161.3L35.6,159.3L36.2,158.1L37.2,157.3L39.2,156.8L41.2,157.3L42.2,158.1L42.8,159.3L43.2,161.3L42.8,165.3Z"/>
<path fill="#1275ce" fill-rule="evenodd" d="M39.2,179.6L36.0,166.3L35.5,162.3L35.7,160.3L36.2,159.0L37.2,157.9L39.2,157.4L41.2,157.9L42.2,159.0L42.7,160.3L42.9,162.3L42.4,166.3Z"/>
<path fill="#137fd3" fill-rule="evenodd" d="M39.2,179.0L36.2,166.3L35.8,163.3L35.9,161.3L36.6,159.3L37.7,158.3L39.2,158.0L40.7,158.3L41.8,159.3L42.5,161.3L42.6,163.3L42.2,166.3Z"/>
<path fill="#1489d7" fill-rule="evenodd" d="M39.2,178.5L36.3,166.3L36.0,163.3L36.2,161.3L37.2,159.3L38.2,158.7L39.2,158.5L40.2,158.7L41.2,159.3L42.2,161.3L42.4,163.3L42.1,166.3Z"/>
<path fill="#1294dc" fill-rule="evenodd" d="M39.2,178.0L36.9,168.3L36.3,164.3L36.4,162.3L37.0,160.3L38.2,159.2L39.2,159.1L40.2,159.2L41.4,160.3L42.0,162.3L42.1,164.3L41.5,168.3Z"/>
<path fill="#10a0e0" fill-rule="evenodd" d="M39.2,177.6L37.0,168.3L36.5,164.3L36.7,162.3L37.2,160.7L38.2,159.8L39.2,159.6L40.2,159.8L41.2,160.7L41.7,162.3L41.9,164.3L41.4,168.3Z"/>
<path fill="#0dabe5" fill-rule="evenodd" d="M39.2,177.2L37.2,168.3L36.7,164.3L37.4,161.3L38.2,160.4L39.2,160.2L40.2,160.4L41.0,161.3L41.7,164.3L41.2,168.3Z"/>
<path fill="#0bb7e9" fill-rule="evenodd" d="M39.2,176.8L38.1,172.3L36.9,165.3L37.4,162.3L38.2,161.1L39.2,160.8L40.2,161.1L41.0,162.3L41.5,165.3L40.3,172.3Z"/>
<path fill="#09c0ec" fill-rule="evenodd" d="M39.2,176.4L38.1,172.3L37.1,165.3L37.2,163.8L37.8,162.3L38.2,161.8L39.2,161.4L40.2,161.8L40.6,162.3L41.2,163.8L41.3,165.3L40.3,172.3Z"/>
<path fill="#07c7ed" fill-rule="evenodd" d="M39.2,176.0L38.0,171.3L37.3,165.3L37.4,164.3L38.2,162.5L39.2,162.1L40.2,162.5L41.0,164.3L41.1,165.3L40.4,171.3Z"/>
<path fill="#06cbed" fill-rule="evenodd" d="M39.2,175.7L38.2,171.7L37.5,166.3L37.7,164.3L38.1,163.3L39.2,162.7L40.3,163.3L40.7,164.3L40.9,166.3L40.2,171.7Z"/>
<path fill="#04d3ee" fill-rule="evenodd" d="M39.2,175.6L38.1,171.3L37.5,166.3L37.7,164.3L38.1,163.3L39.2,162.7L40.3,163.3L40.7,164.3L40.9,166.3L40.3,171.3Z"/>
<path fill="#04e1ed" fill-rule="evenodd" d="M39.2,174.7L38.2,170.3L37.9,166.3L38.2,164.8L39.2,164.1L40.2,164.8L40.5,166.3L40.2,170.3Z"/>
<path fill="#1ee5dc" fill-rule="evenodd" d="M39.2,173.3L38.6,168.3L38.7,166.3L39.2,165.6L39.7,166.3L39.8,168.3Z"/>
</g></g>
<rect x="25.6" y="113.6" width="28.3" height="84.2" fill="none" stroke="#00103a" stroke-opacity="0.4" stroke-width="0.7"/>
<rect x="24.9" y="139.7" width="4" height="1.2" fill="#fff"/>
<rect x="24.9" y="168.3" width="4" height="1.2" fill="#fff"/>
<g clip-path="url(#c7)"><g filter="url(#bl)">
<rect x="65.0" y="110.3" width="35.0" height="91.7" fill="#060a91"/>
<path fill="#06119a" fill-rule="evenodd" d="M82.0,191.9L81.1,190.3L80.5,188.3L80.0,181.5L79.0,174.2L69.3,156.3L67.8,152.3L67.3,149.3L67.4,147.3L67.8,145.3L68.3,144.3L70.0,142.7L77.0,138.9L79.0,138.4L82.0,138.1L85.0,138.4L87.0,138.9L94.0,142.7L95.6,144.3L96.1,145.3L96.5,147.3L96.6,149.3L96.1,152.3L94.6,156.3L85.0,174.2L84.0,181.5L83.4,188.3L82.8,190.3Z"/>
<path fill="#081ba0" fill-rule="evenodd" d="M82.0,189.4L80.6,185.3L80.0,177.1L79.0,173.2L72.3,159.3L70.5,154.3L70.1,151.3L70.3,149.3L70.9,147.3L71.4,146.3L73.0,144.7L75.0,143.6L77.0,143.0L82.0,142.6L87.0,143.0L89.0,143.6L91.0,144.7L92.5,146.3L93.0,147.3L93.6,149.3L93.8,151.3L93.4,154.3L91.6,159.3L85.0,173.2L84.0,177.1L83.3,185.3Z"/>
<path fill="#0a25a5" fill-rule="evenodd" d="M82.0,187.8L80.4,182.3L80.0,175.7L79.0,172.6L73.5,160.3L72.2,156.3L71.5,152.3L72.2,149.3L73.3,147.3L74.2,146.3L77.0,144.8L79.0,144.4L82.0,144.2L85.0,144.4L87.0,144.8L89.7,146.3L90.6,147.3L91.7,149.3L92.4,152.3L91.7,156.3L90.4,160.3L85.0,172.6L84.0,175.7L83.5,182.3Z"/>
<path fill="#0b2faa" fill-rule="evenodd" d="M82.0,186.5L80.7,182.3L80.0,175.1L74.4,161.3L73.2,157.3L72.5,153.3L73.1,150.3L74.0,148.9L75.5,147.3L78.0,146.0L82.0,145.5L86.0,146.0L88.4,147.3L90.0,148.9L90.8,150.3L91.4,153.3L90.7,157.3L89.5,161.3L84.0,175.1L83.2,182.3Z"/>
<path fill="#0c39b0" fill-rule="evenodd" d="M82.0,185.3L80.7,181.3L80.0,174.6L74.6,160.3L73.4,154.3L73.8,151.3L75.0,149.5L76.0,148.5L79.0,147.0L82.0,146.6L85.0,147.0L88.0,148.5L89.0,149.5L90.1,151.3L90.5,154.3L89.3,160.3L84.0,174.6L83.2,181.3Z"/>
<path fill="#0d43b5" fill-rule="evenodd" d="M82.0,184.4L80.9,181.3L80.0,174.2L75.3,161.3L74.3,157.3L74.0,154.3L74.3,152.3L74.7,151.3L76.0,149.8L77.0,149.0L79.0,148.1L82.0,147.7L85.0,148.1L87.0,149.0L88.0,149.8L89.2,151.3L89.6,152.3L89.9,154.3L89.6,157.3L88.6,161.3L84.0,174.2L83.0,181.3Z"/>
<path fill="#0e4dba" fill-rule="evenodd" d="M82.0,183.8L81.0,180.8L80.0,173.9L75.6,161.3L74.6,155.3L75.1,152.3L76.6,150.3L79.0,149.0L82.0,148.6L85.0,149.0L87.3,150.3L88.8,152.3L89.3,155.3L88.3,161.3L84.0,173.9L83.0,180.8Z"/>
<path fill="#0f57bf" fill-rule="evenodd" d="M82.0,183.2L81.0,180.1L80.0,173.5L76.2,162.3L75.3,158.3L75.2,155.3L75.4,153.3L76.0,152.1L77.0,151.0L79.0,149.8L82.0,149.4L85.0,149.8L87.0,151.0L88.0,152.1L88.5,153.3L88.7,155.3L88.6,158.3L87.7,162.3L84.0,173.5L83.0,180.1Z"/>
<path fill="#1061c4" fill-rule="evenodd" d="M82.0,182.7L81.0,179.3L80.0,173.2L76.5,162.3L75.6,156.3L76.0,153.7L77.0,151.9L79.0,150.6L82.0,150.1L85.0,150.6L87.0,151.9L88.0,153.7L88.3,156.3L87.4,162.3L84.0,173.2L83.0,179.3Z"/>
<path fill="#116bc9" fill-rule="evenodd" d="M82.0,182.1L81.1,179.3L80.0,173.0L77.2,164.3L76.3,160.3L76.0,157.3L76.3,154.3L77.5,152.3L79.0,151.3L82.0,150.7L85.0,151.3L86.4,152.3L87.6,154.3L87.9,157.3L87.6,160.3L86.7,164.3L84.0,173.0L82.8,179.3Z"/>
<path fill="#1275ce" fill-rule="evenodd" d="M82.0,181.7L81.2,179.3L80.0,172.7L77.4,164.3L76.6,160.3L76.4,157.3L76.9,154.3L78.0,152.7L80.0,151.5L82.0,151.3L84.0,151.5L86.0,152.7L87.0,154.3L87.5,157.3L87.3,160.3L86.5,164.3L84.0,172.7L82.7,179.3Z"/>
<path fill="#137fd3" fill-rule="evenodd" d="M82.0,181.2L80.2,173.3L77.6,164.3L76.8,158.3L77.1,155.3L78.0,153.5L80.0,152.2L82.0,151.9L84.0,152.2L86.0,153.5L86.8,155.3L87.1,158.3L86.3,164.3L83.7,173.3Z"/>
<path fill="#1489d7" fill-rule="evenodd" d="M82.0,180.7L80.3,173.3L77.8,164.3L77.1,158.3L77.3,156.3L78.1,154.3L79.0,153.4L80.0,152.8L82.0,152.5L84.0,152.8L85.0,153.4L85.8,154.3L86.6,156.3L86.8,158.3L86.1,164.3L83.6,173.3Z"/>
<path fill="#1294dc" fill-rule="evenodd" d="M82.0,180.3L78.2,165.3L77.4,159.3L77.8,156.3L78.8,154.3L80.0,153.5L82.0,153.1L84.0,153.5L85.1,154.3L86.1,156.3L86.5,159.3L85.7,165.3Z"/>
<path fill="#10a0e0" fill-rule="evenodd" d="M82.0,179.8L78.5,166.3L77.7,160.3L77.9,157.3L78.8,155.3L80.0,154.2L82.0,153.7L84.0,154.2L85.1,155.3L86.0,157.3L86.2,160.3L85.4,166.3Z"/>
<path fill="#0dabe5" fill-rule="evenodd" d="M82.0,179.4L78.7,166.3L78.0,160.3L78.1,158.3L79.0,156.0L80.0,154.9L82.0,154.3L84.0,154.9L85.0,156.0L85.8,158.3L85.9,160.3L85.2,166.3Z"/>
<path fill="#0bb7e9" fill-rule="evenodd" d="M82.0,178.9L78.8,166.3L78.2,161.3L78.3,159.3L79.0,157.0L80.0,155.7L81.0,155.2L82.0,155.0L83.0,155.2L84.0,155.7L85.0,157.0L85.6,159.3L85.7,161.3L85.1,166.3Z"/>
<path fill="#09c0ec" fill-rule="evenodd" d="M82.0,178.5L78.9,166.3L78.5,161.3L78.7,159.3L79.4,157.3L80.2,156.3L82.0,155.7L83.7,156.3L84.5,157.3L85.2,159.3L85.4,161.3L85.0,166.3Z"/>
<path fill="#07c7ed" fill-rule="evenodd" d="M82.0,178.0L79.3,167.3L78.7,162.3L78.8,160.3L79.4,158.3L80.0,157.3L81.0,156.6L82.0,156.4L83.0,156.6L83.9,157.3L84.5,158.3L85.1,160.3L85.2,162.3L84.6,167.3Z"/>
<path fill="#06cbed" fill-rule="evenodd" d="M82.0,177.6L79.8,169.3L78.9,163.3L79.1,160.3L79.9,158.3L81.0,157.3L82.0,157.1L83.0,157.3L84.0,158.3L84.8,160.3L85.0,163.3L84.1,169.3Z"/>
<path fill="#04d3ee" fill-rule="evenodd" d="M82.0,177.6L79.8,169.3L79.0,163.3L79.2,160.3L79.9,158.3L81.0,157.4L82.0,157.1L83.0,157.4L84.0,158.3L84.7,160.3L84.9,163.3L84.1,169.3Z"/>
<path fill="#04e1ed" fill-rule="evenodd" d="M82.0,176.7L80.1,169.3L79.4,164.3L80.0,160.3L81.0,158.9L82.0,158.7L83.0,158.9L84.0,160.3L84.5,164.3L83.8,169.3Z"/>
<path fill="#1ee5dc" fill-rule="evenodd" d="M82.0,175.9L80.7,171.3L79.8,165.3L80.0,163.0L80.6,161.3L81.0,160.6L82.0,160.2L83.0,160.6L83.3,161.3L84.0,163.0L84.1,165.3L83.2,171.3Z"/>
<path fill="#38eacb" fill-rule="evenodd" d="M82.0,175.0L81.0,171.9L80.2,166.3L80.6,163.3L81.0,162.5L82.0,161.9L83.0,162.5L83.3,163.3L83.7,166.3L83.0,171.9Z"/>
<path fill="#55edaf" fill-rule="evenodd" d="M82.0,173.9L81.0,170.7L80.7,166.3L81.0,164.4L82.0,163.6L83.0,164.4L83.2,166.3L83.0,170.7Z"/>
<path fill="#73ef91" fill-rule="evenodd" d="M82.0,172.6L81.2,168.3L81.4,166.3L82.0,165.3L82.5,166.3L82.7,168.3Z"/>
</g></g>
<rect x="68.3" y="113.6" width="28.3" height="84.2" fill="none" stroke="#00103a" stroke-opacity="0.4" stroke-width="0.7"/>
<rect x="67.7" y="139.7" width="4" height="1.2" fill="#fff"/>
<rect x="67.7" y="168.3" width="4" height="1.2" fill="#fff"/>
<g clip-path="url(#c8)"><g filter="url(#bl)">
<rect x="107.7" y="110.3" width="35.0" height="91.7" fill="#060a91"/>
<path fill="#06119a" fill-rule="evenodd" d="M124.7,196.2L123.7,194.3L123.0,191.3L122.0,182.3L121.7,176.2L119.7,172.0L110.2,156.3L107.7,151.4L107.7,143.3L107.7,128.8L110.7,126.4L114.7,124.8L119.7,123.8L124.7,123.5L129.7,123.8L134.7,124.8L138.7,126.4L141.2,128.3L142.7,130.2L142.7,142.3L142.7,149.2L142.3,150.3L139.2,156.3L129.7,172.0L127.7,176.2L127.4,182.3L126.4,191.3L125.7,194.3Z"/>
<path fill="#081ba0" fill-rule="evenodd" d="M124.7,193.4L123.3,189.3L121.7,175.0L111.1,154.3L109.0,148.3L108.4,144.3L109.1,139.3L109.7,137.3L110.8,135.3L112.7,133.2L114.7,131.6L117.7,130.1L120.7,129.4L124.7,129.1L128.7,129.4L131.7,130.1L134.7,131.6L136.7,133.2L138.6,135.3L139.7,137.3L140.3,139.3L141.0,144.3L140.4,148.3L138.3,154.3L127.7,175.0L126.1,189.3Z"/>
<path fill="#0a25a5" fill-rule="evenodd" d="M124.7,191.5L123.8,189.3L123.4,187.3L122.7,180.0L121.7,174.3L116.2,163.3L112.2,154.3L111.0,150.3L110.3,145.3L110.6,143.3L112.0,139.3L113.3,137.3L114.7,135.8L116.7,134.5L118.7,133.6L121.7,132.9L124.7,132.7L127.7,132.9L130.7,133.6L132.7,134.5L134.7,135.8L136.1,137.3L137.4,139.3L138.8,143.3L139.1,145.3L138.4,150.3L137.2,154.3L133.2,163.3L127.7,174.3L126.7,180.0L126.0,187.3L125.6,189.3Z"/>
<path fill="#0b2faa" fill-rule="evenodd" d="M124.7,190.1L123.5,186.3L122.7,178.1L121.7,173.9L117.2,164.3L113.4,155.3L112.0,150.3L111.6,146.3L111.9,144.3L112.7,142.4L114.6,139.3L115.7,138.1L117.7,136.7L119.7,135.8L121.7,135.3L124.7,135.1L127.7,135.3L129.7,135.8L131.7,136.7L133.7,138.1L134.8,139.3L136.7,142.4L137.5,144.3L137.8,146.3L137.4,150.3L136.0,155.3L132.2,164.3L127.7,173.9L126.7,178.1L125.9,186.3Z"/>
<path fill="#0c39b0" fill-rule="evenodd" d="M124.7,189.1L123.7,186.3L123.4,184.3L122.7,176.9L121.7,173.5L117.1,163.3L114.1,155.3L113.0,151.3L112.7,147.3L112.9,145.3L113.7,143.4L116.7,139.7L119.7,137.8L121.7,137.3L124.7,137.0L127.7,137.3L129.7,137.8L132.7,139.7L135.7,143.4L136.5,145.3L136.7,147.3L136.4,151.3L135.3,155.3L132.3,163.3L127.7,173.5L126.7,176.9L126.0,184.3L125.7,186.3Z"/>
<path fill="#0d43b5" fill-rule="evenodd" d="M124.7,188.1L123.4,183.3L122.7,176.3L121.7,173.1L118.2,165.3L115.2,157.3L113.9,152.3L113.5,148.3L113.7,146.3L114.4,144.3L116.7,141.6L118.7,140.1L120.7,139.2L124.7,138.6L128.7,139.2L130.7,140.1L132.7,141.6L135.0,144.3L135.7,146.3L135.9,148.3L135.5,152.3L134.2,157.3L131.2,165.3L127.7,173.1L126.7,176.3L126.0,183.3Z"/>
<path fill="#0e4dba" fill-rule="evenodd" d="M124.7,187.2L123.5,183.3L122.7,175.9L116.0,158.3L114.6,153.3L114.2,149.3L114.4,147.3L115.0,145.3L116.7,143.0L118.7,141.6L120.7,140.7L124.7,140.1L128.7,140.7L130.7,141.6L132.7,143.0L134.4,145.3L135.0,147.3L135.2,149.3L134.8,153.3L133.4,158.3L126.7,175.9L125.9,183.3Z"/>
<path fill="#0f57bf" fill-rule="evenodd" d="M124.7,186.4L123.5,182.3L122.7,175.5L119.1,166.3L116.3,158.3L115.3,154.3L114.9,150.3L115.5,146.3L116.7,144.3L117.7,143.4L120.7,141.8L124.7,141.2L128.7,141.8L131.7,143.4L132.7,144.3L133.9,146.3L134.5,150.3L134.1,154.3L133.1,158.3L130.3,166.3L126.7,175.5L125.9,182.3Z"/>
<path fill="#1061c4" fill-rule="evenodd" d="M124.7,185.6L123.7,182.5L122.7,175.1L119.3,166.3L117.3,160.3L115.9,155.3L115.4,151.3L115.9,147.3L116.7,145.6L117.7,144.5L120.7,142.7L124.7,142.1L128.7,142.7L131.7,144.5L132.7,145.6L133.5,147.3L134.0,151.3L133.5,155.3L132.1,160.3L130.1,166.3L126.7,175.1L125.7,182.5Z"/>
<path fill="#116bc9" fill-rule="evenodd" d="M124.7,184.9L123.7,181.9L122.7,174.8L119.1,165.3L117.0,158.3L116.1,154.3L115.9,151.3L116.7,147.3L117.9,145.3L120.7,143.6L122.7,143.1L124.7,142.9L126.7,143.1L128.7,143.6L131.5,145.3L132.7,147.3L133.5,151.3L133.3,154.3L132.4,158.3L130.3,165.3L126.7,174.8L125.7,181.9Z"/>
<path fill="#1275ce" fill-rule="evenodd" d="M124.7,184.2L123.7,181.2L122.7,174.6L119.3,165.3L117.3,158.3L116.4,152.3L117.0,148.3L117.7,146.8L118.7,145.6L119.7,144.8L121.7,144.0L124.7,143.6L127.7,144.0L129.7,144.8L130.7,145.6L131.7,146.8L132.4,148.3L133.0,152.3L132.1,158.3L130.1,165.3L126.7,174.6L125.7,181.2Z"/>
<path fill="#137fd3" fill-rule="evenodd" d="M124.7,183.7L123.7,180.6L122.7,174.3L120.1,167.3L118.1,160.3L117.0,155.3L116.8,152.3L117.3,149.3L118.2,147.3L119.0,146.3L120.3,145.3L121.7,144.7L124.7,144.3L127.7,144.7L129.1,145.3L130.4,146.3L131.2,147.3L132.1,149.3L132.6,152.3L132.4,155.3L131.3,160.3L129.3,167.3L126.7,174.3L125.7,180.6Z"/>
<path fill="#1489d7" fill-rule="evenodd" d="M124.7,183.1L123.7,179.9L122.8,174.3L120.3,167.3L118.3,160.3L117.5,156.3L117.2,153.3L117.5,150.3L119.0,147.3L120.0,146.3L121.7,145.4L124.7,145.0L127.7,145.4L129.4,146.3L130.4,147.3L131.9,150.3L132.2,153.3L131.9,156.3L131.1,160.3L129.1,167.3L126.6,174.3L125.7,179.9Z"/>
<path fill="#1294dc" fill-rule="evenodd" d="M124.7,182.6L123.7,179.3L122.8,174.3L119.2,163.3L117.9,157.3L117.6,153.3L118.1,150.3L118.7,148.8L119.7,147.5L121.7,146.1L124.7,145.6L127.7,146.1L129.7,147.5L130.7,148.8L131.3,150.3L131.8,153.3L131.5,157.3L130.2,163.3L126.6,174.3L125.7,179.3Z"/>
<path fill="#10a0e0" fill-rule="evenodd" d="M124.7,182.2L123.8,179.3L122.9,174.3L119.4,163.3L118.4,158.3L117.9,154.3L118.3,151.3L119.7,148.4L121.7,146.9L124.7,146.3L127.7,146.9L129.7,148.4L131.1,151.3L131.5,154.3L131.0,158.3L130.0,163.3L126.5,174.3L125.6,179.3Z"/>
<path fill="#0dabe5" fill-rule="evenodd" d="M124.7,181.7L123.0,174.3L119.8,164.3L118.6,158.3L118.3,154.3L118.7,151.4L119.7,149.3L121.7,147.6L124.7,146.9L127.7,147.6L129.7,149.3L130.7,151.4L131.1,154.3L130.8,158.3L129.6,164.3L126.4,174.3Z"/>
<path fill="#0bb7e9" fill-rule="evenodd" d="M124.7,181.2L123.1,174.3L120.2,165.3L119.0,159.3L118.6,155.3L118.9,152.3L119.7,150.3L120.5,149.3L122.7,147.9L124.7,147.6L126.7,147.9L128.9,149.3L129.7,150.3L130.5,152.3L130.8,155.3L130.4,159.3L129.2,165.3L126.3,174.3Z"/>
<path fill="#09c0ec" fill-rule="evenodd" d="M124.7,180.8L123.1,174.3L120.3,165.3L119.2,159.3L118.9,155.3L119.3,152.3L120.7,149.9L122.7,148.6L124.7,148.3L126.7,148.6L128.7,149.9L130.1,152.3L130.5,155.3L130.2,159.3L129.1,165.3L126.3,174.3Z"/>
<path fill="#07c7ed" fill-rule="evenodd" d="M124.7,180.3L123.2,174.3L120.5,165.3L119.6,160.3L119.2,156.3L119.5,153.3L120.7,150.7L122.7,149.3L124.7,148.9L126.7,149.3L128.7,150.7L129.9,153.3L130.2,156.3L129.8,160.3L128.9,165.3L126.2,174.3Z"/>
<path fill="#06cbed" fill-rule="evenodd" d="M124.7,179.9L120.6,165.3L119.8,160.3L119.5,156.3L119.9,153.3L120.7,151.5L121.7,150.5L122.7,149.9L124.7,149.5L126.7,149.9L127.7,150.5L128.7,151.5L129.5,153.3L129.9,156.3L129.6,160.3L128.8,165.3Z"/>
<path fill="#04d3ee" fill-rule="evenodd" d="M124.7,179.9L120.6,165.3L119.8,160.3L119.5,156.3L119.9,153.3L120.7,151.6L121.7,150.5L122.7,150.0L124.7,149.6L126.7,150.0L127.7,150.5L128.7,151.6L129.5,153.3L129.9,156.3L129.6,160.3L128.8,165.3Z"/>
<path fill="#04e1ed" fill-rule="evenodd" d="M124.7,178.9L121.1,166.3L120.3,161.3L120.1,157.3L120.5,154.3L121.5,152.3L122.7,151.3L124.7,150.9L126.7,151.3L127.9,152.3L128.9,154.3L129.3,157.3L129.1,161.3L128.3,166.3Z"/>
<path fill="#1ee5dc" fill-rule="evenodd" d="M124.7,177.9L122.3,170.3L121.3,166.3L120.6,159.3L120.8,156.3L121.7,153.8L122.7,152.8L124.7,152.2L126.7,152.8L127.7,153.8L128.6,156.3L128.8,159.3L128.1,166.3L127.1,170.3Z"/>
<path fill="#38eacb" fill-rule="evenodd" d="M124.7,177.0L122.7,171.2L121.8,167.3L121.3,164.3L121.1,160.3L121.4,157.3L122.1,155.3L122.8,154.3L123.7,153.7L124.7,153.6L125.7,153.7L126.6,154.3L127.3,155.3L128.0,157.3L128.3,160.3L128.1,164.3L127.6,167.3L126.7,171.2Z"/>
<path fill="#55edaf" fill-rule="evenodd" d="M124.7,176.1L122.6,170.3L121.7,165.3L121.6,162.3L121.7,159.4L122.2,157.3L122.7,156.2L123.7,155.3L124.7,155.1L125.7,155.3L126.7,156.2L127.2,157.3L127.7,159.4L127.8,162.3L127.7,165.3L126.8,170.3Z"/>
<path fill="#73ef91" fill-rule="evenodd" d="M124.7,175.2L122.8,170.3L121.9,164.3L122.1,161.3L122.7,158.4L123.7,157.0L124.7,156.7L125.7,157.0L126.7,158.4L127.3,161.3L127.5,164.3L126.6,170.3Z"/>
<path fill="#8aef74" fill-rule="evenodd" d="M124.7,174.3L123.7,172.6L123.0,170.3L122.3,164.3L122.9,160.3L123.7,158.9L124.7,158.5L125.7,158.9L126.5,160.3L127.1,164.3L126.4,170.3L125.7,172.6Z"/>
<path fill="#9def58" fill-rule="evenodd" d="M124.7,173.5L123.4,171.3L122.6,165.3L122.8,163.3L123.5,161.3L123.7,160.8L124.7,160.3L125.7,160.8L125.9,161.3L126.6,163.3L126.8,165.3L126.0,171.3Z"/>
<path fill="#b1ee3d" fill-rule="evenodd" d="M124.7,172.9L123.6,171.3L123.0,166.3L123.2,164.3L123.7,162.7L124.7,162.1L125.7,162.7L126.2,164.3L126.4,166.3L125.8,171.3Z"/>
<path fill="#caed2d" fill-rule="evenodd" d="M124.7,172.3L123.7,170.8L123.4,166.3L123.7,164.3L124.7,163.6L125.7,164.3L126.0,166.3L125.7,170.8Z"/>
<path fill="#e3ec1c" fill-rule="evenodd" d="M124.7,171.6L124.0,170.3L123.8,167.3L123.9,166.3L124.7,165.1L125.5,166.3L125.6,167.3L125.4,170.3Z"/>
</g></g>
<rect x="111.0" y="113.6" width="28.3" height="84.2" fill="none" stroke="#00103a" stroke-opacity="0.4" stroke-width="0.7"/>
<rect x="110.4" y="139.7" width="4" height="1.2" fill="#fff"/>
<rect x="110.4" y="168.3" width="4" height="1.2" fill="#fff"/>
<g clip-path="url(#c9)"><g filter="url(#bl)">
<rect x="150.4" y="110.3" width="35.0" height="91.7" fill="#060a91"/>
<path fill="#06119a" fill-rule="evenodd" d="M167.4,195.9L166.4,195.2L165.9,194.3L165.0,191.3L163.9,185.3L162.4,173.2L161.4,169.1L160.4,166.9L158.4,163.7L155.4,160.4L153.4,159.1L150.4,158.3L150.4,110.3L185.4,110.2L185.4,158.3L182.4,158.7L179.4,160.4L176.4,163.7L174.4,166.9L173.4,169.1L172.4,173.2L171.0,185.3L169.9,191.3L169.0,194.3L168.4,195.2Z"/>
<path fill="#081ba0" fill-rule="evenodd" d="M167.4,193.4L166.4,192.4L165.2,188.3L163.9,180.3L163.4,175.2L162.4,170.0L161.4,167.1L159.4,163.1L156.4,158.6L153.4,155.1L150.4,152.6L150.4,110.3L185.4,110.3L185.4,152.0L182.4,154.1L179.4,157.3L176.4,161.5L173.4,167.1L172.4,170.0L171.4,175.2L171.0,180.3L169.7,188.3L168.4,192.4Z"/>
<path fill="#0a25a5" fill-rule="evenodd" d="M167.4,191.7L166.4,190.7L165.7,188.3L164.9,184.3L163.4,172.7L162.4,168.6L161.4,166.0L159.4,161.9L156.4,156.9L153.4,152.7L150.4,149.3L150.4,110.3L185.4,110.3L185.4,148.3L182.4,151.5L179.4,155.4L176.4,160.1L173.4,166.0L172.4,168.6L171.4,172.7L170.0,184.3L169.2,188.3L168.4,190.7Z"/>
<path fill="#0b2faa" fill-rule="evenodd" d="M167.4,190.5L166.4,189.4L165.8,187.3L163.4,171.5L161.4,165.1L159.4,160.9L156.4,155.5L150.4,146.6L150.4,110.3L185.4,110.3L185.4,145.3L182.4,149.3L178.4,155.5L175.4,160.9L173.4,165.1L171.4,171.5L169.1,187.3L168.4,189.4Z"/>
<path fill="#0c39b0" fill-rule="evenodd" d="M167.4,189.5L166.4,188.3L165.9,186.3L164.2,174.3L162.4,167.0L158.4,158.0L150.4,143.7L150.4,110.3L185.4,110.3L185.4,142.0L176.4,158.0L172.4,167.0L170.7,174.3L169.0,186.3L168.4,188.3Z"/>
<path fill="#0d43b5" fill-rule="evenodd" d="M167.4,188.6L166.4,187.3L165.9,185.3L164.4,174.3L162.4,166.4L160.4,161.4L153.1,146.3L150.4,140.1L150.4,115.4L153.4,113.8L157.8,112.3L159.4,111.3L159.3,110.3L175.6,110.3L175.5,111.3L177.1,112.3L181.4,113.8L185.4,116.0L185.4,138.1L181.8,146.3L175.4,159.2L172.4,166.4L170.5,174.3L169.0,185.3L168.4,187.3Z"/>
<path fill="#0e4dba" fill-rule="evenodd" d="M167.4,187.8L166.4,186.4L166.0,184.3L164.4,173.4L163.4,169.1L161.4,163.1L153.7,145.3L150.4,134.8L150.4,130.3L150.4,125.5L152.0,123.3L154.4,121.1L157.4,119.4L160.4,118.4L163.4,117.8L167.4,117.6L171.4,117.8L174.4,118.4L177.4,119.4L179.4,120.4L181.4,121.9L183.7,124.3L184.8,126.3L185.3,129.3L184.6,134.3L181.2,145.3L173.4,163.1L171.4,169.1L170.4,173.4L168.9,184.3L168.4,186.4Z"/>
<path fill="#0f57bf" fill-rule="evenodd" d="M167.4,187.0L166.4,185.4L166.2,184.3L164.5,173.3L162.4,165.3L156.7,151.3L154.5,145.3L152.9,137.3L152.5,133.3L152.8,130.3L153.5,128.3L154.8,126.3L156.4,124.8L158.4,123.6L161.4,122.4L164.4,121.8L167.4,121.6L170.4,121.8L173.4,122.4L176.4,123.6L178.4,124.8L180.1,126.3L181.4,128.3L182.1,130.3L182.4,133.3L182.0,137.3L180.4,145.3L178.2,151.3L172.4,165.3L170.4,173.3L168.7,184.3L168.4,185.4Z"/>
<path fill="#1061c4" fill-rule="evenodd" d="M167.4,186.2L166.4,184.5L166.2,183.3L164.6,173.3L163.4,168.1L161.4,162.0L157.9,153.3L155.5,146.3L154.9,143.3L154.3,136.3L154.6,133.3L155.1,131.3L156.2,129.3L157.4,127.9L159.4,126.4L161.4,125.5L164.4,124.8L167.4,124.6L170.4,124.8L173.4,125.5L175.4,126.4L177.4,127.9L178.7,129.3L179.8,131.3L180.3,133.3L180.6,136.3L180.0,143.3L179.4,146.3L177.0,153.3L173.4,162.0L171.4,168.1L170.3,173.3L168.7,183.3L168.4,184.5Z"/>
<path fill="#116bc9" fill-rule="evenodd" d="M167.4,185.5L166.4,183.3L164.8,173.3L163.4,167.7L161.4,161.5L157.9,152.3L156.3,147.3L155.8,144.3L155.6,139.3L156.2,134.3L157.0,132.3L158.4,130.2L160.4,128.6L162.4,127.7L164.4,127.2L167.4,126.9L170.4,127.2L172.4,127.7L174.4,128.6L176.4,130.2L177.9,132.3L178.7,134.3L179.3,139.3L179.1,144.3L178.6,147.3L177.0,152.3L173.4,161.5L171.4,167.7L170.1,173.3L168.5,183.3Z"/>
<path fill="#1275ce" fill-rule="evenodd" d="M167.4,184.7L166.4,182.9L164.9,173.3L163.4,167.2L157.9,151.3L156.6,146.3L156.4,143.3L156.6,139.3L157.1,136.3L157.9,134.3L159.2,132.3L160.4,131.1L162.4,129.9L164.4,129.2L167.4,128.9L170.4,129.2L172.4,129.9L174.4,131.1L175.7,132.3L177.0,134.3L177.8,136.3L178.3,139.3L178.5,143.3L178.3,146.3L177.0,151.3L171.4,167.2L170.0,173.3L168.4,182.9Z"/>
<path fill="#137fd3" fill-rule="evenodd" d="M167.4,184.0L166.4,182.1L165.2,174.3L163.4,166.9L158.0,150.3L157.1,146.3L157.0,144.3L157.8,138.3L158.5,136.3L159.6,134.3L161.4,132.5L163.4,131.4L165.4,130.9L167.4,130.7L169.4,130.9L171.4,131.4L173.4,132.5L175.3,134.3L176.4,136.3L177.1,138.3L177.9,144.3L177.8,146.3L176.9,150.3L171.4,166.9L169.7,174.3L168.4,182.1Z"/>
<path fill="#1489d7" fill-rule="evenodd" d="M167.4,183.3L166.4,181.4L165.3,174.3L163.4,166.5L158.8,152.3L157.9,148.3L157.6,145.3L157.8,142.3L158.5,139.3L159.3,137.3L160.4,135.5L161.6,134.3L163.4,133.2L165.4,132.5L167.4,132.3L169.4,132.5L171.4,133.2L173.3,134.3L174.4,135.5L175.6,137.3L176.4,139.3L177.1,142.3L177.3,145.3L177.0,148.3L176.1,152.3L171.4,166.5L169.6,174.3L168.4,181.4Z"/>
<path fill="#1294dc" fill-rule="evenodd" d="M167.4,182.7L166.4,180.7L165.4,174.3L163.4,166.1L158.9,151.3L158.0,145.3L158.4,142.5L159.4,139.3L161.3,136.3L162.4,135.3L164.4,134.3L167.4,133.8L170.4,134.3L172.4,135.3L173.6,136.3L175.5,139.3L176.4,142.5L176.9,145.3L176.0,151.3L171.4,166.1L169.5,174.3L168.4,180.7Z"/>
<path fill="#10a0e0" fill-rule="evenodd" d="M167.4,182.0L166.4,180.0L165.5,174.3L163.4,165.8L159.7,153.3L158.8,149.3L158.5,146.3L159.1,142.3L160.4,139.3L161.4,137.8L162.4,136.8L164.4,135.6L167.4,135.1L170.4,135.6L172.4,136.8L173.4,137.8L174.5,139.3L175.8,142.3L176.4,146.3L176.1,149.3L175.2,153.3L171.4,165.8L169.4,174.3L168.4,180.0Z"/>
<path fill="#0dabe5" fill-rule="evenodd" d="M167.4,181.4L166.4,179.4L165.4,173.5L164.7,171.3L163.4,165.4L159.9,153.3L159.1,149.3L158.9,146.3L159.4,143.2L161.4,139.3L162.4,138.1L164.4,136.8L167.4,136.3L170.4,136.8L172.4,138.1L173.4,139.3L175.4,143.2L176.0,146.3L175.8,149.3L175.0,153.3L171.4,165.4L170.2,171.3L169.4,173.5L168.4,179.4Z"/>
<path fill="#0bb7e9" fill-rule="evenodd" d="M167.4,180.8L166.4,178.8L165.5,173.3L160.1,153.3L159.3,147.3L159.4,145.3L160.0,143.3L161.7,140.3L162.6,139.3L164.4,138.0L167.4,137.3L170.4,138.0L172.3,139.3L173.2,140.3L174.9,143.3L175.5,145.3L175.6,147.3L174.8,153.3L169.4,173.3L168.4,178.8Z"/>
<path fill="#09c0ec" fill-rule="evenodd" d="M167.4,180.2L166.4,178.1L165.6,173.3L164.8,171.3L163.4,164.7L160.6,154.3L159.8,150.3L159.6,147.3L159.8,145.3L160.4,143.5L162.4,140.5L164.4,139.0L167.4,138.3L170.4,139.0L172.4,140.5L174.4,143.5L175.1,145.3L175.3,147.3L175.1,150.3L174.3,154.3L171.4,164.7L170.1,171.3L169.3,173.3L168.4,178.1Z"/>
<path fill="#07c7ed" fill-rule="evenodd" d="M167.4,179.7L166.4,177.5L165.7,173.3L164.9,171.3L163.4,164.4L161.0,155.3L160.2,151.3L160.0,148.3L160.3,145.3L161.8,142.3L164.4,139.9L165.4,139.5L167.4,139.2L169.4,139.5L170.4,139.9L173.1,142.3L174.6,145.3L174.9,148.3L174.7,151.3L173.9,155.3L171.4,164.4L170.0,171.3L169.2,173.3L168.4,177.5Z"/>
<path fill="#06cbed" fill-rule="evenodd" d="M167.4,179.1L166.4,176.8L165.8,173.3L165.0,171.3L163.4,164.0L161.2,155.3L160.5,151.3L160.3,148.3L160.7,145.3L161.4,143.6L162.4,142.3L164.4,140.8L167.4,140.1L170.4,140.8L172.4,142.3L173.4,143.6L174.2,145.3L174.6,148.3L174.4,151.3L173.7,155.3L171.4,164.0L169.9,171.3L169.1,173.3L168.4,176.8Z"/>
<path fill="#04d3ee" fill-rule="evenodd" d="M167.4,179.1L166.4,176.7L165.8,173.3L165.0,171.3L163.4,164.0L161.2,155.3L160.5,151.3L160.3,148.3L160.7,145.3L161.4,143.7L162.4,142.4L164.4,140.8L167.4,140.1L170.4,140.8L172.4,142.4L173.4,143.7L174.2,145.3L174.6,148.3L174.4,151.3L173.7,155.3L171.4,164.0L169.9,171.3L169.1,173.3L168.4,176.7Z"/>
<path fill="#04e1ed" fill-rule="evenodd" d="M167.4,177.9L165.1,171.3L161.4,154.3L160.9,149.3L161.3,146.3L162.4,144.0L164.4,142.3L165.4,141.9L167.4,141.6L169.4,141.9L170.4,142.3L172.4,144.0L173.6,146.3L174.0,149.3L173.5,154.3L169.8,171.3Z"/>
<path fill="#1ee5dc" fill-rule="evenodd" d="M167.4,176.6L165.2,171.3L162.1,156.3L161.4,150.3L161.8,147.3L162.6,145.3L164.4,143.5L165.4,143.1L167.4,142.8L169.4,143.1L170.4,143.5L172.3,145.3L173.1,147.3L173.5,150.3L172.8,156.3L169.7,171.3Z"/>
<path fill="#38eacb" fill-rule="evenodd" d="M167.4,175.5L165.4,171.3L162.4,156.3L162.0,151.3L162.4,147.4L163.4,145.6L165.4,144.1L167.4,143.8L169.4,144.1L171.4,145.6L172.4,147.4L172.9,151.3L172.5,156.3L169.5,171.3Z"/>
<path fill="#55edaf" fill-rule="evenodd" d="M167.4,174.3L166.4,173.2L165.4,171.0L162.8,156.3L162.5,152.3L162.8,149.3L163.5,147.3L164.4,146.1L165.4,145.5L167.4,145.0L169.4,145.5L170.4,146.1L171.4,147.3L172.1,149.3L172.4,152.3L172.1,156.3L169.4,171.0L168.4,173.2Z"/>
<path fill="#73ef91" fill-rule="evenodd" d="M167.4,173.5L166.4,172.8L165.4,170.4L163.4,157.9L163.1,153.3L163.4,150.3L164.4,148.0L165.4,147.1L167.4,146.5L169.4,147.1L170.4,148.0L171.5,150.3L171.8,153.3L171.4,157.9L169.4,170.4L168.4,172.8Z"/>
<path fill="#8aef74" fill-rule="evenodd" d="M168.4,172.4L167.4,173.0L166.4,172.4L165.9,171.3L164.7,164.3L163.7,155.3L163.8,152.3L164.4,150.2L165.4,148.8L166.4,148.2L167.4,148.0L168.4,148.2L169.4,148.8L170.4,150.2L171.1,152.3L171.3,154.3L170.9,159.3L169.3,170.3Z"/>
<path fill="#9def58" fill-rule="evenodd" d="M167.4,172.7L166.4,172.0L165.8,170.3L164.4,159.8L164.2,155.3L164.4,152.9L165.1,151.3L166.4,149.9L167.4,149.7L168.4,149.9L169.8,151.3L170.4,152.9L170.7,155.3L170.4,159.8L169.1,170.3L168.4,172.0Z"/>
<path fill="#b1ee3d" fill-rule="evenodd" d="M167.4,172.3L166.4,171.7L166.0,170.3L165.3,165.3L164.8,157.3L165.0,154.3L165.4,152.8L166.4,151.6L167.4,151.4L168.4,151.6L169.4,152.8L169.9,154.3L170.1,157.3L169.6,165.3L168.9,170.3L168.4,171.7Z"/>
<path fill="#caed2d" fill-rule="evenodd" d="M168.4,171.4L167.4,172.0L166.4,171.3L165.4,164.3L165.4,156.1L166.4,153.6L167.4,153.2L168.4,153.6L168.8,154.3L169.6,157.3L169.4,164.8Z"/>
<path fill="#e3ec1c" fill-rule="evenodd" d="M167.4,171.7L166.8,171.3L166.3,170.3L165.7,163.3L166.2,157.3L166.4,156.3L167.4,155.5L168.4,156.3L168.7,157.3L169.2,163.3L168.6,170.3L168.1,171.3Z"/>
<path fill="#f1de13" fill-rule="evenodd" d="M167.4,171.4L166.4,170.0L166.1,165.3L166.4,160.2L167.4,158.5L168.4,160.2L168.8,165.3L168.4,170.0Z"/>
<path fill="#f4c310" fill-rule="evenodd" d="M167.4,170.9L167.0,170.3L166.4,166.3L166.4,164.2L167.4,161.7L168.4,164.2L168.5,166.3L167.9,170.3Z"/>
<path fill="#f7a80e" fill-rule="evenodd" d="M167.4,170.3L167.0,166.3L167.4,164.3L167.9,166.3Z"/>
</g></g>
<rect x="153.8" y="113.6" width="28.3" height="84.2" fill="none" stroke="#00103a" stroke-opacity="0.4" stroke-width="0.7"/>
<rect x="153.1" y="139.7" width="4" height="1.2" fill="#fff"/>
<rect x="153.1" y="168.3" width="4" height="1.2" fill="#fff"/>
<g clip-path="url(#c10)"><g filter="url(#bl)">
<rect x="193.2" y="110.3" width="35.0" height="91.7" fill="#060a91"/>
<path fill="#06119a" fill-rule="evenodd" d="M210.2,201.3L210.0,201.3L210.0,198.3L209.5,197.3L208.6,196.3L207.7,193.3L206.6,186.3L206.2,179.1L205.2,171.1L204.2,168.2L202.2,165.1L200.2,163.2L198.2,162.5L193.2,162.4L193.0,110.3L228.2,110.1L228.4,128.3L228.2,162.4L222.2,162.5L220.2,163.2L218.2,165.1L216.2,168.2L215.2,171.1L214.2,179.1L213.8,186.3L212.7,193.3L211.8,196.3L210.9,197.3L210.4,198.3L210.4,201.3Z"/>
<path fill="#081ba0" fill-rule="evenodd" d="M211.2,195.5L210.2,196.1L209.2,195.5L208.4,193.3L207.4,188.3L206.2,173.8L205.2,169.2L204.2,166.9L202.2,163.5L199.2,160.0L198.2,159.3L196.2,158.3L193.2,158.0L193.0,129.3L193.2,110.1L228.4,110.3L228.2,158.0L224.2,158.3L222.2,159.3L219.2,162.1L216.2,166.9L215.2,169.2L214.2,173.8L212.8,189.3L211.7,194.3Z"/>
<path fill="#0a25a5" fill-rule="evenodd" d="M210.2,195.0L209.2,194.2L208.9,193.3L207.7,188.3L206.2,172.0L205.2,168.3L202.2,162.5L199.2,158.7L196.2,156.1L193.2,155.0L193.0,110.3L228.2,110.1L228.2,154.9L225.2,155.6L222.2,157.7L219.2,161.1L216.2,166.0L215.2,168.3L214.2,172.0L212.5,189.3L211.2,194.2Z"/>
<path fill="#0b2faa" fill-rule="evenodd" d="M210.2,194.0L209.2,193.1L208.0,188.3L206.5,173.3L206.2,171.0L205.2,167.7L202.2,161.8L199.2,157.7L196.2,154.7L193.2,152.9L193.1,110.3L228.2,110.2L228.2,152.6L225.2,154.0L223.2,155.6L221.2,157.7L218.2,161.8L215.2,167.7L214.2,171.0L213.9,173.3L212.4,188.3L211.2,193.1Z"/>
<path fill="#0c39b0" fill-rule="evenodd" d="M210.2,193.1L209.2,192.1L208.4,189.3L207.8,185.3L206.8,174.3L206.2,170.3L205.2,167.2L203.2,163.0L200.2,158.2L196.2,153.6L193.2,151.3L193.1,110.3L228.2,110.2L228.2,150.9L225.2,152.7L221.2,156.9L218.2,161.2L215.2,167.2L214.2,170.3L213.6,174.3L212.6,185.3L212.0,189.3L211.2,192.1Z"/>
<path fill="#0d43b5" fill-rule="evenodd" d="M211.2,191.3L210.2,192.3L209.2,191.3L208.8,190.3L208.0,185.3L206.9,173.3L206.2,169.8L204.2,164.5L202.2,160.7L199.2,156.2L196.2,152.6L193.2,150.1L193.2,110.2L228.3,110.3L228.2,149.4L225.2,151.7L221.2,156.2L218.2,160.7L215.2,166.8L214.2,169.8L213.2,175.3L212.4,185.3L211.8,189.3Z"/>
<path fill="#0e4dba" fill-rule="evenodd" d="M210.2,191.7L209.2,190.7L208.6,188.3L207.2,174.1L206.2,169.3L205.2,166.4L203.2,162.1L200.2,157.0L196.2,151.8L193.2,148.9L193.1,110.3L228.2,110.2L228.2,148.2L225.2,150.7L221.2,155.6L218.2,160.2L215.2,166.4L214.2,169.3L213.2,174.1L211.8,188.3L211.2,190.7Z"/>
<path fill="#0f57bf" fill-rule="evenodd" d="M210.2,191.1L209.2,190.1L208.7,188.3L207.2,173.3L206.2,169.0L205.2,166.1L203.2,161.7L200.2,156.5L197.2,152.2L193.2,147.9L193.1,110.3L228.2,110.2L228.2,147.1L225.2,149.9L221.2,155.0L218.2,159.8L215.2,166.1L214.2,169.0L213.2,173.3L211.7,188.3L211.2,190.1Z"/>
<path fill="#1061c4" fill-rule="evenodd" d="M210.2,190.6L209.2,189.5L208.6,187.3L207.3,173.3L206.2,168.6L205.2,165.8L203.2,161.3L200.2,156.0L196.2,150.3L193.2,147.0L193.1,110.3L228.2,110.2L228.2,146.1L224.2,150.3L221.2,154.4L218.2,159.4L215.2,165.8L214.2,168.6L213.1,173.3L211.8,187.3L211.2,189.5Z"/>
<path fill="#116bc9" fill-rule="evenodd" d="M210.2,190.1L209.2,189.0L208.8,187.3L207.3,173.3L206.2,168.3L205.2,165.5L203.2,161.0L200.2,155.5L197.2,151.0L193.2,146.1L193.1,110.3L228.2,110.2L228.2,145.1L224.2,149.6L221.2,153.9L218.2,159.0L215.2,165.5L214.2,168.3L213.1,173.3L211.6,187.3L211.2,189.0Z"/>
<path fill="#1275ce" fill-rule="evenodd" d="M210.2,189.6L209.2,188.5L208.9,187.3L207.4,173.3L206.2,168.0L205.2,165.2L203.2,160.6L200.2,155.1L197.2,150.4L193.2,145.2L193.1,110.3L228.2,110.2L228.2,144.0L224.2,149.0L221.2,153.5L218.2,158.7L215.2,165.2L214.2,168.0L213.0,173.3L211.5,187.3L211.2,188.5Z"/>
<path fill="#137fd3" fill-rule="evenodd" d="M210.2,189.2L209.2,187.9L209.0,187.3L207.5,173.3L206.2,167.8L205.2,164.9L203.2,160.3L200.2,154.7L197.2,149.8L193.2,144.2L193.1,110.3L228.2,110.2L228.2,143.0L224.2,148.3L221.2,153.0L218.2,158.3L215.2,164.9L214.2,167.8L212.9,173.3L211.4,187.3L211.2,187.9Z"/>
<path fill="#1489d7" fill-rule="evenodd" d="M210.2,188.7L209.2,187.3L207.6,173.3L206.2,167.5L205.2,164.7L203.2,160.0L200.2,154.3L193.2,143.3L193.2,110.3L228.2,110.3L228.2,141.9L223.2,149.3L220.2,154.3L217.2,160.0L215.2,164.7L214.2,167.5L212.8,173.3L211.2,187.3Z"/>
<path fill="#1294dc" fill-rule="evenodd" d="M210.2,188.3L209.2,186.9L207.6,173.3L206.2,167.3L205.2,164.4L203.2,159.7L200.2,153.9L193.2,142.2L193.2,110.3L228.2,110.3L228.2,140.8L220.2,153.9L217.2,159.7L215.2,164.4L214.2,167.3L212.8,173.3L211.2,186.9Z"/>
<path fill="#10a0e0" fill-rule="evenodd" d="M210.2,187.8L209.2,186.3L207.7,173.3L206.2,167.1L205.2,164.2L201.2,155.4L193.2,141.1L193.2,110.3L228.2,110.3L228.2,139.6L220.2,153.5L217.2,159.4L215.2,164.2L214.2,167.1L212.7,173.3L211.2,186.3Z"/>
<path fill="#0dabe5" fill-rule="evenodd" d="M210.2,187.4L209.2,185.6L207.8,173.3L206.2,166.8L205.2,163.9L201.2,155.0L193.2,139.9L193.2,110.3L228.2,110.3L228.2,138.3L219.2,155.0L215.2,163.9L214.2,166.8L212.6,173.3L211.2,185.6Z"/>
<path fill="#0bb7e9" fill-rule="evenodd" d="M210.2,186.9L209.2,184.8L207.9,173.3L206.2,166.6L205.2,163.7L202.2,156.7L196.8,146.3L193.2,138.6L193.2,110.3L228.2,110.3L228.2,136.7L218.2,156.7L215.2,163.7L214.2,166.6L212.5,173.3L211.2,184.8Z"/>
<path fill="#09c0ec" fill-rule="evenodd" d="M210.2,186.4L209.2,183.9L207.9,173.3L205.2,163.5L202.2,156.4L196.7,145.3L193.2,137.0L193.2,118.5L196.2,116.6L200.2,115.0L204.2,114.2L208.2,113.8L215.2,114.0L220.2,115.0L225.2,117.1L228.2,119.5L228.2,134.7L223.7,145.3L218.2,156.4L215.2,163.5L212.5,173.3L211.2,183.9Z"/>
<path fill="#07c7ed" fill-rule="evenodd" d="M210.2,185.8L209.2,182.9L208.2,174.3L206.2,166.2L203.2,158.3L197.0,145.3L193.2,134.6L193.2,123.9L193.7,123.3L196.2,120.9L199.2,119.2L203.2,118.1L207.2,117.7L215.2,117.8L218.2,118.3L221.2,119.2L223.2,120.2L225.2,121.7L227.2,123.9L228.2,125.7L228.2,130.9L226.7,136.3L223.4,145.3L217.2,158.3L214.2,166.3L212.2,174.3L211.2,182.9Z"/>
<path fill="#06cbed" fill-rule="evenodd" d="M210.2,185.1L209.2,181.8L208.3,174.3L206.3,166.3L203.2,158.0L197.0,144.3L194.5,136.3L193.6,130.3L193.8,128.3L194.6,126.3L197.2,123.6L199.2,122.4L202.2,121.3L205.2,120.6L208.2,120.4L213.2,120.5L216.2,120.8L219.2,121.6L221.2,122.4L223.2,123.6L225.2,125.5L226.3,127.3L226.7,129.3L226.6,132.3L226.1,135.3L223.4,144.3L217.2,158.0L214.1,166.3L212.1,174.3L211.2,181.8Z"/>
<path fill="#04d3ee" fill-rule="evenodd" d="M210.2,185.1L209.2,181.7L208.3,174.3L206.3,166.3L203.2,158.0L197.0,144.3L194.6,136.3L193.8,130.3L194.0,128.3L194.8,126.3L197.2,123.8L199.2,122.6L202.2,121.5L205.2,120.8L208.2,120.6L215.2,120.8L218.2,121.5L221.2,122.6L223.2,123.8L225.2,125.7L226.2,127.5L226.6,130.3L225.8,136.3L223.4,144.3L217.2,158.0L214.1,166.3L212.1,174.3L211.2,181.7Z"/>
<path fill="#04e1ed" fill-rule="evenodd" d="M210.2,183.2L209.2,179.5L208.5,174.3L206.4,166.3L204.4,160.3L198.0,145.3L196.6,139.3L196.1,135.3L196.4,132.3L197.0,130.3L198.2,128.4L199.2,127.5L201.2,126.3L203.2,125.6L208.2,124.9L215.2,125.1L218.2,125.9L220.2,126.8L222.1,128.3L223.2,129.9L224.0,132.3L224.2,134.3L224.0,138.3L222.7,144.3L214.9,163.3L211.9,174.3L211.2,179.5Z"/>
<path fill="#1ee5dc" fill-rule="evenodd" d="M210.2,180.8L209.2,178.0L208.4,173.3L205.6,163.3L198.6,145.3L197.6,138.3L197.6,136.3L198.2,133.8L199.2,131.9L200.6,130.3L202.2,129.2L204.2,128.4L209.2,127.8L215.2,128.2L217.2,128.7L219.2,129.8L220.8,131.3L222.0,133.3L222.6,135.3L222.8,137.3L222.4,142.3L221.8,145.3L214.8,163.3L212.0,173.3L211.2,178.0Z"/>
<path fill="#38eacb" fill-rule="evenodd" d="M210.2,178.9L209.2,176.6L208.6,173.3L207.8,171.3L205.5,162.3L199.2,145.6L198.7,140.3L198.7,138.3L199.2,136.0L200.0,134.3L201.2,132.8L204.2,131.0L206.2,130.4L209.2,130.1L214.2,130.4L216.2,131.0L218.2,132.0L219.6,133.3L220.9,135.3L221.5,137.3L221.7,139.3L221.2,145.6L214.9,162.3L212.6,171.3L211.8,173.3L211.2,176.6Z"/>
<path fill="#55edaf" fill-rule="evenodd" d="M210.2,177.1L209.2,175.2L208.8,173.3L208.2,172.2L205.7,162.3L200.3,147.3L199.6,143.3L200.2,138.3L201.1,136.3L201.9,135.3L203.2,134.2L205.2,133.3L209.2,132.7L214.2,133.0L216.2,133.7L218.2,135.0L219.3,136.3L220.2,138.3L220.8,143.3L220.1,147.3L214.7,162.3L212.2,172.2L211.6,173.3L211.2,175.2Z"/>
<path fill="#73ef91" fill-rule="evenodd" d="M210.2,175.5L209.2,174.1L208.2,171.8L205.9,162.3L200.9,147.3L200.5,144.3L200.7,142.3L201.5,139.3L203.2,136.9L204.2,136.2L206.2,135.3L210.2,134.9L214.2,135.3L216.2,136.2L217.2,136.9L218.9,139.3L219.7,142.3L219.9,144.3L219.5,147.3L214.5,162.3L212.2,171.8L211.2,174.1Z"/>
<path fill="#8aef74" fill-rule="evenodd" d="M211.2,173.3L210.2,174.3L209.2,173.3L208.2,171.5L206.1,162.3L202.0,149.3L201.3,145.3L201.8,142.3L203.4,139.3L204.5,138.3L206.2,137.4L209.2,136.9L213.2,137.1L215.2,137.8L216.2,138.5L217.2,139.6L218.2,141.3L219.1,144.3L219.1,146.3L218.4,149.3L214.3,162.3L212.3,171.3Z"/>
<path fill="#9def58" fill-rule="evenodd" d="M210.2,173.5L209.2,173.0L208.2,171.1L206.5,163.3L203.0,151.3L202.0,146.3L202.5,143.3L204.2,140.8L205.2,139.9L207.2,139.0L210.2,138.7L213.2,139.0L215.2,139.9L216.2,140.8L217.9,143.3L218.4,146.3L217.4,151.3L213.9,163.3L212.2,171.1L211.2,173.0Z"/>
<path fill="#b1ee3d" fill-rule="evenodd" d="M211.2,172.7L210.2,173.1L209.2,172.7L208.4,171.3L206.5,162.3L203.8,152.3L202.8,147.3L203.1,144.3L204.2,142.6L206.2,141.1L209.2,140.4L212.2,140.5L215.2,141.7L216.2,142.6L217.2,144.2L217.7,146.3L217.1,150.3L213.9,162.3L212.2,170.6Z"/>
<path fill="#caed2d" fill-rule="evenodd" d="M211.2,172.4L210.2,172.8L209.2,172.4L208.3,170.3L206.8,162.3L204.2,152.3L203.5,147.3L203.8,145.3L205.1,143.3L207.2,142.1L209.2,141.8L212.2,141.9L214.2,142.5L216.2,144.3L216.9,146.3L216.8,148.3L216.2,152.3L213.6,162.3L212.1,170.3Z"/>
<path fill="#e3ec1c" fill-rule="evenodd" d="M210.2,172.5L209.2,172.1L208.4,170.3L206.8,161.3L204.7,152.3L204.2,147.3L204.8,145.3L206.2,143.9L208.2,143.1L210.2,143.0L212.2,143.1L214.2,143.9L215.6,145.3L216.2,147.3L215.7,152.3L213.6,161.3L212.0,170.3L211.2,172.1Z"/>
<path fill="#f1de13" fill-rule="evenodd" d="M211.2,171.8L210.2,172.2L209.2,171.8L208.6,170.3L205.1,150.3L205.1,147.3L205.5,146.3L206.2,145.3L207.2,144.6L209.2,144.2L212.2,144.3L214.2,145.3L214.9,146.3L215.4,148.3L215.0,153.3L211.8,170.3Z"/>
<path fill="#f4c310" fill-rule="evenodd" d="M211.2,171.5L210.2,171.9L209.2,171.5L208.8,170.3L205.9,152.3L205.9,149.3L206.2,147.3L207.2,146.1L209.2,145.4L211.2,145.4L213.2,146.1L214.2,147.3L214.5,149.3L214.2,154.9L211.6,170.3Z"/>
<path fill="#f7a80e" fill-rule="evenodd" d="M210.2,171.7L209.2,171.2L208.9,170.3L206.6,152.3L206.8,150.3L207.3,148.3L208.2,147.3L210.2,146.9L212.2,147.3L213.1,148.3L213.6,150.3L213.8,152.3L211.5,170.3L211.2,171.2Z"/>
<path fill="#f58d10" fill-rule="evenodd" d="M210.2,171.4L209.2,170.7L209.1,170.3L207.5,154.3L207.6,152.3L208.2,150.3L209.2,149.4L210.2,149.3L211.2,149.4L212.2,150.3L212.8,152.3L212.9,154.3L211.3,170.3L211.2,170.7Z"/>
<path fill="#f37311" fill-rule="evenodd" d="M210.2,171.0L209.4,170.3L209.2,169.8L208.6,157.3L208.7,155.3L209.2,153.3L210.2,152.8L211.2,153.3L211.7,155.3L211.8,157.3L211.2,169.8L211.0,170.3Z"/>
<path fill="#f15a12" fill-rule="evenodd" d="M210.2,170.5L209.2,167.3L209.2,165.3L209.2,164.2L210.2,161.7L211.2,164.2L211.2,165.3L211.2,167.3Z"/>
</g></g>
<rect x="196.5" y="113.6" width="28.3" height="84.2" fill="none" stroke="#00103a" stroke-opacity="0.4" stroke-width="0.7"/>
<rect x="195.9" y="139.7" width="4" height="1.2" fill="#fff"/>
<rect x="195.9" y="168.3" width="4" height="1.2" fill="#fff"/>
<g clip-path="url(#c11)"><g filter="url(#bl)">
<rect x="22.2" y="208.4" width="35.0" height="91.7" fill="#060a91"/>
<path fill="#06119a" fill-rule="evenodd" d="M39.2,288.4L38.3,286.4L37.6,283.4L37.2,277.0L36.2,272.1L29.8,259.4L28.5,255.4L28.2,252.4L28.7,250.4L29.4,249.4L31.2,247.9L35.2,245.7L39.2,245.1L43.2,245.7L47.2,247.9L49.0,249.4L49.7,250.4L50.2,252.4L49.9,255.4L48.6,259.4L42.2,272.1L41.2,277.0L40.8,283.4L40.1,286.4Z"/>
<path fill="#081ba0" fill-rule="evenodd" d="M39.2,285.7L37.8,281.4L37.2,274.0L36.2,271.1L33.5,265.4L31.5,260.4L30.7,257.4L30.5,255.4L30.9,252.4L32.3,250.4L35.2,249.0L39.2,248.6L43.2,249.0L46.1,250.4L47.5,252.4L47.9,255.4L47.7,257.4L46.9,260.4L44.9,265.4L42.2,271.1L41.2,274.0L40.6,281.4Z"/>
<path fill="#0a25a5" fill-rule="evenodd" d="M39.2,284.0L37.9,280.4L37.2,273.2L32.6,261.4L31.8,258.4L31.7,256.4L32.2,253.4L32.7,252.4L33.6,251.4L36.2,250.2L39.2,249.9L42.2,250.2L44.8,251.4L45.7,252.4L46.2,253.4L46.7,256.4L46.6,258.4L45.8,261.4L41.2,273.2L40.5,280.4Z"/>
<path fill="#0b2faa" fill-rule="evenodd" d="M39.2,283.1L38.0,279.4L37.2,272.7L33.7,263.4L32.6,259.4L32.5,257.4L33.0,254.4L34.2,252.5L36.2,251.3L39.2,250.9L42.2,251.3L44.2,252.5L45.4,254.4L45.9,257.4L45.8,259.4L44.7,263.4L41.2,272.7L40.4,279.4Z"/>
<path fill="#0c39b0" fill-rule="evenodd" d="M39.2,282.3L38.0,278.4L37.2,272.3L34.0,263.4L33.1,258.4L33.6,255.4L34.8,253.4L36.2,252.4L39.2,251.8L42.2,252.4L43.6,253.4L44.8,255.4L45.3,258.4L44.4,263.4L41.2,272.3L40.4,278.4Z"/>
<path fill="#0d43b5" fill-rule="evenodd" d="M39.2,281.7L38.4,279.4L37.2,271.9L34.3,263.4L33.7,260.4L33.6,258.4L33.9,256.4L35.2,254.3L37.2,253.0L39.2,252.7L41.2,253.0L43.2,254.3L44.5,256.4L44.8,258.4L44.7,260.4L44.1,263.4L41.2,271.9L40.0,279.4Z"/>
<path fill="#0e4dba" fill-rule="evenodd" d="M39.2,281.1L38.4,278.4L37.2,271.6L34.6,263.4L34.0,259.4L34.2,257.4L35.2,255.4L37.2,253.9L39.2,253.6L41.2,253.9L43.2,255.4L44.2,257.4L44.4,259.4L43.8,263.4L41.2,271.6L40.0,278.4Z"/>
<path fill="#0f57bf" fill-rule="evenodd" d="M39.2,280.5L38.5,278.4L37.2,271.2L34.8,263.4L34.4,259.4L34.8,257.4L36.2,255.4L37.2,254.8L39.2,254.4L41.2,254.8L42.2,255.4L43.6,257.4L44.0,259.4L43.6,263.4L41.2,271.2L39.9,278.4Z"/>
<path fill="#1061c4" fill-rule="evenodd" d="M39.2,280.0L37.3,271.4L35.5,265.4L34.7,260.4L34.9,258.4L36.0,256.4L37.2,255.5L39.2,255.1L41.2,255.5L42.4,256.4L43.5,258.4L43.7,260.4L42.9,265.4L41.1,271.4Z"/>
<path fill="#116bc9" fill-rule="evenodd" d="M39.2,279.5L37.4,271.4L35.7,265.4L35.0,260.4L35.4,258.4L36.2,256.9L37.2,256.2L39.2,255.7L41.2,256.2L42.2,256.9L43.0,258.4L43.4,260.4L42.7,265.4L41.0,271.4Z"/>
<path fill="#1275ce" fill-rule="evenodd" d="M39.2,279.0L35.8,265.4L35.4,261.4L35.5,259.4L36.2,257.7L37.2,256.8L39.2,256.3L41.2,256.8L42.2,257.7L42.9,259.4L43.0,261.4L42.6,265.4Z"/>
<path fill="#137fd3" fill-rule="evenodd" d="M39.2,278.4L36.0,265.4L35.6,261.4L35.9,259.4L36.3,258.4L37.2,257.4L39.2,256.8L41.2,257.4L42.1,258.4L42.5,259.4L42.8,261.4L42.4,265.4Z"/>
<path fill="#1489d7" fill-rule="evenodd" d="M39.2,277.9L36.2,265.4L35.9,262.4L36.2,259.5L36.9,258.4L38.2,257.5L39.2,257.4L40.2,257.5L41.5,258.4L42.2,259.5L42.5,262.4L42.2,265.4Z"/>
<path fill="#1294dc" fill-rule="evenodd" d="M39.2,277.4L36.5,266.4L36.1,262.4L36.3,260.4L37.2,258.7L38.2,258.1L39.2,257.9L40.2,258.1L41.2,258.7L42.1,260.4L42.3,262.4L41.9,266.4Z"/>
<path fill="#10a0e0" fill-rule="evenodd" d="M39.2,277.0L36.9,267.4L36.3,263.4L36.4,261.4L37.2,259.4L38.2,258.6L39.2,258.4L40.2,258.6L41.2,259.4L42.0,261.4L42.1,263.4L41.5,267.4Z"/>
<path fill="#0dabe5" fill-rule="evenodd" d="M39.2,276.6L37.0,267.4L36.5,263.4L37.2,260.1L38.2,259.1L39.2,259.0L40.2,259.1L41.2,260.1L41.9,263.4L41.4,267.4Z"/>
<path fill="#0bb7e9" fill-rule="evenodd" d="M39.2,276.2L37.7,270.4L36.7,264.4L37.2,260.9L38.2,259.7L39.2,259.5L40.2,259.7L41.2,260.9L41.7,264.4L40.7,270.4Z"/>
<path fill="#09c0ec" fill-rule="evenodd" d="M39.2,275.8L37.8,270.4L36.9,264.4L37.4,261.4L38.2,260.3L39.2,260.0L40.2,260.3L41.0,261.4L41.5,264.4L40.6,270.4Z"/>
<path fill="#07c7ed" fill-rule="evenodd" d="M39.2,275.4L37.9,270.4L37.0,264.4L37.2,262.9L37.9,261.4L38.2,261.0L39.2,260.6L40.2,261.0L40.5,261.4L41.2,262.9L41.4,264.4L40.5,270.4Z"/>
<path fill="#06cbed" fill-rule="evenodd" d="M39.2,275.0L38.0,270.4L37.2,264.4L37.4,263.4L38.2,261.6L39.2,261.2L40.2,261.6L41.0,263.4L41.2,264.4L40.4,270.4Z"/>
<path fill="#04d3ee" fill-rule="evenodd" d="M39.2,275.0L38.0,270.4L37.2,264.4L38.2,261.7L39.2,261.3L40.2,261.7L41.2,264.4L40.4,270.4Z"/>
<path fill="#04e1ed" fill-rule="evenodd" d="M39.2,274.1L38.2,270.4L37.7,265.4L38.2,263.1L39.2,262.5L40.2,263.1L40.7,265.4L40.2,270.4Z"/>
<path fill="#1ee5dc" fill-rule="evenodd" d="M39.2,273.0L38.2,268.7L38.1,266.4L38.2,264.8L39.2,263.8L40.2,264.8L40.3,266.4L40.2,268.7Z"/>
<path fill="#38eacb" fill-rule="evenodd" d="M39.2,271.5L38.8,268.4L38.9,266.4L39.2,265.4L39.5,266.4L39.6,268.4Z"/>
</g></g>
<rect x="25.6" y="211.8" width="28.3" height="84.6" fill="none" stroke="#00103a" stroke-opacity="0.4" stroke-width="0.7"/>
<rect x="24.9" y="238.7" width="4" height="1.2" fill="#fff"/>
<rect x="24.9" y="267.6" width="4" height="1.2" fill="#fff"/>
<g clip-path="url(#c12)"><g filter="url(#bl)">
<rect x="65.0" y="208.4" width="35.0" height="91.7" fill="#060a91"/>
<path fill="#06119a" fill-rule="evenodd" d="M82.0,291.2L81.0,289.4L80.5,287.4L80.0,280.8L79.0,273.5L71.6,260.4L68.6,254.4L67.3,250.4L67.1,247.4L67.6,244.4L68.1,243.4L70.0,241.7L76.0,238.0L79.0,237.1L82.0,236.9L85.0,237.1L88.0,238.0L94.0,241.7L95.8,243.4L96.3,244.4L96.8,247.4L96.6,250.4L95.3,254.4L92.3,260.4L85.0,273.5L84.0,280.8L83.4,287.4L82.9,289.4Z"/>
<path fill="#081ba0" fill-rule="evenodd" d="M82.0,288.8L81.3,287.4L80.6,284.4L80.0,276.6L79.0,272.5L74.3,263.4L71.7,257.4L70.3,253.4L69.9,250.4L70.7,246.4L72.0,244.4L73.0,243.6L75.0,242.6L77.0,242.1L82.0,241.6L87.0,242.1L89.0,242.6L91.0,243.6L92.0,244.4L93.2,246.4L94.0,250.4L93.6,253.4L92.2,257.4L89.6,263.4L85.0,272.5L84.0,276.6L83.3,284.4L82.6,287.4Z"/>
<path fill="#0a25a5" fill-rule="evenodd" d="M82.0,287.3L80.6,282.4L80.0,275.1L79.0,272.0L73.3,259.4L71.7,254.4L71.3,251.4L71.9,248.4L73.0,246.5L74.0,245.3L77.0,243.8L82.0,243.2L87.0,243.8L90.0,245.3L91.0,246.5L92.0,248.4L92.6,251.4L92.2,254.4L90.6,259.4L85.0,272.0L84.0,275.1L83.3,282.4Z"/>
<path fill="#0b2faa" fill-rule="evenodd" d="M82.0,286.0L80.6,281.4L80.0,274.4L74.2,260.4L72.7,255.4L72.3,252.4L72.9,249.4L75.1,246.4L78.0,244.9L82.0,244.4L86.0,244.9L88.8,246.4L91.0,249.4L91.6,252.4L91.2,255.4L89.7,260.4L84.0,274.4L83.3,281.4Z"/>
<path fill="#0c39b0" fill-rule="evenodd" d="M82.0,284.8L80.6,280.4L80.0,274.0L74.4,259.4L73.3,255.4L73.1,252.4L74.0,249.5L76.0,247.3L77.0,246.6L79.0,245.8L82.0,245.5L85.0,245.8L87.0,246.6L88.0,247.3L90.0,249.5L90.8,252.4L90.6,255.4L89.5,259.4L84.0,274.0L83.3,280.4Z"/>
<path fill="#0d43b5" fill-rule="evenodd" d="M82.0,283.9L80.8,280.4L80.0,273.6L75.4,261.4L74.3,257.4L73.7,253.4L74.4,250.4L76.0,248.5L79.0,246.9L82.0,246.6L85.0,246.9L88.0,248.5L89.5,250.4L90.2,253.4L89.6,257.4L88.5,261.4L84.0,273.6L83.1,280.4Z"/>
<path fill="#0e4dba" fill-rule="evenodd" d="M82.0,283.2L81.0,280.3L80.0,273.2L75.7,261.4L74.7,257.4L74.3,254.4L74.8,251.4L76.2,249.4L79.0,247.9L82.0,247.5L85.0,247.9L87.7,249.4L89.1,251.4L89.6,254.4L89.2,257.4L88.2,261.4L84.0,273.2L83.0,280.3Z"/>
<path fill="#0f57bf" fill-rule="evenodd" d="M82.0,282.7L81.0,279.6L80.0,273.0L77.2,265.4L75.7,260.4L75.1,257.4L74.8,254.4L75.5,251.4L77.0,249.7L79.0,248.7L82.0,248.2L85.0,248.7L87.0,249.7L88.4,251.4L89.1,254.4L88.8,257.4L88.2,260.4L86.7,265.4L84.0,273.0L83.0,279.6Z"/>
<path fill="#1061c4" fill-rule="evenodd" d="M82.0,282.1L81.1,279.4L80.0,272.7L76.2,261.4L75.3,255.4L75.7,252.4L77.0,250.5L79.0,249.4L82.0,248.9L85.0,249.4L87.0,250.5L88.2,252.4L88.6,255.4L87.7,261.4L84.0,272.7L82.8,279.4Z"/>
<path fill="#116bc9" fill-rule="evenodd" d="M82.0,281.7L81.2,279.4L80.0,272.4L77.5,265.4L76.5,261.4L75.7,255.4L76.0,253.4L77.0,251.4L79.0,250.0L82.0,249.5L85.0,250.0L86.9,251.4L87.9,253.4L88.2,255.4L87.4,261.4L86.4,265.4L83.9,272.4L82.7,279.4Z"/>
<path fill="#1275ce" fill-rule="evenodd" d="M82.0,281.2L81.1,278.4L80.0,272.4L77.2,263.4L76.3,259.4L76.1,256.4L76.5,253.4L77.8,251.4L80.0,250.3L82.0,250.1L84.0,250.3L86.1,251.4L87.4,253.4L87.8,256.4L87.6,259.4L86.7,263.4L83.9,272.4L82.8,278.4Z"/>
<path fill="#137fd3" fill-rule="evenodd" d="M82.0,280.7L80.1,272.4L77.4,263.4L76.4,257.4L76.7,254.4L77.6,252.4L79.0,251.3L82.0,250.6L85.0,251.3L86.3,252.4L87.2,254.4L87.5,257.4L86.5,263.4L83.8,272.4Z"/>
<path fill="#1489d7" fill-rule="evenodd" d="M82.0,280.3L80.2,272.4L77.5,263.4L76.8,257.4L77.2,254.4L78.0,252.8L80.0,251.5L82.0,251.2L84.0,251.5L86.0,252.8L86.7,254.4L87.1,257.4L86.4,263.4L83.7,272.4Z"/>
<path fill="#1294dc" fill-rule="evenodd" d="M82.0,279.9L80.2,272.4L77.7,263.4L77.1,258.4L77.3,255.4L78.2,253.4L80.0,252.1L82.0,251.7L84.0,252.1L85.7,253.4L86.6,255.4L86.8,258.4L86.2,263.4L83.7,272.4Z"/>
<path fill="#10a0e0" fill-rule="evenodd" d="M82.0,279.4L78.1,264.4L77.4,258.4L77.8,255.4L78.9,253.4L80.0,252.7L82.0,252.3L84.0,252.7L85.0,253.4L86.1,255.4L86.5,258.4L85.8,264.4Z"/>
<path fill="#0dabe5" fill-rule="evenodd" d="M82.0,279.0L78.4,265.4L77.6,259.4L77.9,256.4L78.8,254.4L80.0,253.3L82.0,252.8L84.0,253.3L85.1,254.4L86.0,256.4L86.3,259.4L85.5,265.4Z"/>
<path fill="#0bb7e9" fill-rule="evenodd" d="M82.0,278.6L78.6,265.4L77.9,259.4L78.1,257.4L79.0,255.0L80.0,254.0L82.0,253.4L84.0,254.0L85.0,255.0L85.8,257.4L86.0,259.4L85.3,265.4Z"/>
<path fill="#09c0ec" fill-rule="evenodd" d="M82.0,278.1L78.7,265.4L78.1,260.4L78.2,258.4L79.0,255.9L80.0,254.7L81.0,254.2L82.0,254.0L83.0,254.2L84.0,254.7L85.0,255.9L85.7,258.4L85.8,260.4L85.2,265.4Z"/>
<path fill="#07c7ed" fill-rule="evenodd" d="M82.0,277.7L78.8,265.4L78.4,260.4L78.5,258.4L79.2,256.4L80.0,255.4L81.0,254.8L82.0,254.7L83.0,254.8L84.0,255.4L84.7,256.4L85.4,258.4L85.5,260.4L85.1,265.4Z"/>
<path fill="#06cbed" fill-rule="evenodd" d="M82.0,277.2L79.2,266.4L78.6,261.4L78.7,259.4L79.2,257.4L80.0,256.1L81.0,255.5L82.0,255.3L83.0,255.5L84.0,256.1L84.7,257.4L85.2,259.4L85.3,261.4L84.7,266.4Z"/>
<path fill="#04d3ee" fill-rule="evenodd" d="M82.0,277.2L79.2,266.4L78.6,261.4L78.7,259.4L79.2,257.4L80.0,256.2L81.0,255.5L82.0,255.4L83.0,255.5L84.0,256.2L84.7,257.4L85.2,259.4L85.3,261.4L84.7,266.4Z"/>
<path fill="#04e1ed" fill-rule="evenodd" d="M82.0,276.3L79.8,268.4L79.0,262.4L79.4,259.4L80.0,257.9L81.0,256.9L82.0,256.7L83.0,256.9L84.0,257.9L84.5,259.4L84.9,262.4L84.1,268.4Z"/>
<path fill="#1ee5dc" fill-rule="evenodd" d="M82.0,275.5L80.2,269.4L79.4,263.4L80.0,259.8L81.0,258.4L82.0,258.1L83.0,258.4L84.0,259.8L84.5,263.4L83.7,269.4Z"/>
<path fill="#38eacb" fill-rule="evenodd" d="M82.0,274.7L80.6,270.4L79.8,264.4L80.2,261.4L81.0,260.0L82.0,259.6L83.0,260.0L83.7,261.4L84.1,264.4L83.3,270.4Z"/>
<path fill="#55edaf" fill-rule="evenodd" d="M82.0,273.8L80.8,270.4L80.2,265.4L80.7,262.4L81.0,261.7L82.0,261.1L83.0,261.7L83.2,262.4L83.7,265.4L83.1,270.4Z"/>
<path fill="#73ef91" fill-rule="evenodd" d="M82.0,272.8L81.0,270.2L80.6,265.4L81.0,263.4L82.0,262.6L83.0,263.4L83.3,265.4L83.0,270.2Z"/>
<path fill="#8aef74" fill-rule="evenodd" d="M82.0,271.7L81.2,269.4L81.0,266.4L81.2,265.4L82.0,264.2L82.7,265.4L82.9,266.4L82.7,269.4Z"/>
</g></g>
<rect x="68.3" y="211.8" width="28.3" height="84.6" fill="none" stroke="#00103a" stroke-opacity="0.4" stroke-width="0.7"/>
<rect x="67.7" y="238.7" width="4" height="1.2" fill="#fff"/>
<rect x="67.7" y="267.6" width="4" height="1.2" fill="#fff"/>
<g clip-path="url(#c13)"><g filter="url(#bl)">
<rect x="107.7" y="208.4" width="35.0" height="91.7" fill="#060a91"/>
<path fill="#06119a" fill-rule="evenodd" d="M124.7,295.5L123.7,293.6L123.2,291.4L122.1,282.4L121.7,275.6L119.7,271.3L111.1,257.4L107.9,251.4L107.7,243.4L107.7,227.5L110.7,225.3L114.7,223.7L119.7,222.7L124.7,222.5L129.7,222.7L134.7,223.7L138.7,225.3L141.7,227.5L142.7,228.7L142.7,242.4L142.7,248.8L142.0,250.4L138.3,257.4L129.7,271.3L127.7,275.6L127.3,282.4L126.2,291.4L125.7,293.6Z"/>
<path fill="#081ba0" fill-rule="evenodd" d="M124.7,292.8L123.3,288.4L121.7,274.3L110.9,253.4L109.0,248.4L108.3,245.4L108.2,243.4L108.8,238.4L109.4,236.4L110.7,234.0L112.7,231.8L115.7,229.7L117.7,228.9L120.7,228.2L124.7,227.9L128.7,228.2L131.7,228.9L133.7,229.7L136.7,231.8L138.7,234.0L140.0,236.4L140.6,238.4L141.2,243.4L141.1,245.4L140.4,248.4L138.5,253.4L127.7,274.3L126.1,288.4Z"/>
<path fill="#0a25a5" fill-rule="evenodd" d="M124.7,290.9L123.7,288.4L123.3,286.4L122.7,279.4L121.7,273.7L116.0,262.4L112.0,253.4L110.5,248.4L110.1,244.4L110.3,242.4L111.7,238.4L112.8,236.4L114.7,234.5L116.7,233.2L119.7,232.1L124.7,231.5L129.7,232.1L132.7,233.2L134.7,234.5L136.6,236.4L137.7,238.4L139.1,242.4L139.3,244.4L138.9,248.4L137.4,253.4L133.4,262.4L127.7,273.7L126.7,279.4L126.1,286.4L125.7,288.4Z"/>
<path fill="#0b2faa" fill-rule="evenodd" d="M124.7,289.6L123.4,285.4L122.7,277.5L121.7,273.2L117.0,263.4L113.2,254.4L112.0,250.4L111.3,245.4L111.7,243.4L112.4,241.4L114.1,238.4L115.7,236.7L117.7,235.4L119.7,234.6L121.7,234.1L124.7,233.9L127.7,234.1L129.7,234.6L131.7,235.4L133.7,236.7L135.3,238.4L137.0,241.4L137.7,243.4L138.1,245.4L137.4,250.4L136.2,254.4L132.4,263.4L127.7,273.2L126.7,277.5L126.0,285.4Z"/>
<path fill="#0c39b0" fill-rule="evenodd" d="M124.7,288.5L123.7,285.4L122.7,276.3L121.7,272.8L118.2,265.4L114.2,255.4L113.0,251.4L112.4,246.4L112.6,244.4L113.4,242.4L116.7,238.3L118.7,237.0L120.7,236.2L124.7,235.8L128.7,236.2L130.7,237.0L132.7,238.3L136.0,242.4L136.8,244.4L137.0,246.4L136.4,251.4L135.2,255.4L131.2,265.4L127.7,272.8L126.7,276.3L125.7,285.4Z"/>
<path fill="#0d43b5" fill-rule="evenodd" d="M124.7,287.5L123.5,283.4L122.7,275.7L121.7,272.5L118.1,264.4L115.0,256.4L113.6,251.4L113.2,247.4L113.4,245.4L114.1,243.4L116.7,240.3L118.7,238.8L120.7,237.9L124.7,237.4L128.7,237.9L130.7,238.8L132.7,240.3L135.3,243.4L136.0,245.4L136.2,247.4L135.8,251.4L134.4,256.4L131.3,264.4L127.7,272.5L126.7,275.7L125.9,283.4Z"/>
<path fill="#0e4dba" fill-rule="evenodd" d="M124.7,286.7L123.5,282.4L122.7,275.2L121.7,272.2L118.3,264.4L115.4,256.4L114.3,252.4L113.9,248.4L114.1,246.4L114.6,244.4L116.7,241.7L118.7,240.3L120.7,239.4L122.7,238.9L124.7,238.7L126.7,238.9L128.7,239.4L130.7,240.3L132.7,241.7L134.8,244.4L135.3,246.4L135.5,248.4L135.1,252.4L134.0,256.4L131.1,264.4L127.7,272.2L126.7,275.2L125.9,282.4Z"/>
<path fill="#0f57bf" fill-rule="evenodd" d="M124.7,285.9L123.6,282.4L122.7,274.8L118.2,263.4L116.1,257.4L115.0,253.4L114.6,249.4L115.1,245.4L116.7,243.0L119.7,241.0L122.7,240.1L124.7,240.0L126.7,240.1L129.7,241.0L132.7,243.0L134.3,245.4L134.8,249.4L134.4,253.4L133.3,257.4L131.2,263.4L126.7,274.8L125.8,282.4Z"/>
<path fill="#1061c4" fill-rule="evenodd" d="M124.7,285.1L123.7,282.0L122.7,274.5L119.1,265.4L117.0,259.4L115.4,253.4L115.1,250.4L115.5,246.4L116.5,244.4L117.4,243.4L118.7,242.4L120.7,241.5L124.7,240.9L128.7,241.5L130.7,242.4L132.0,243.4L132.9,244.4L133.9,246.4L134.3,250.4L134.0,253.4L132.4,259.4L130.3,265.4L126.7,274.5L125.7,282.0Z"/>
<path fill="#116bc9" fill-rule="evenodd" d="M124.7,284.4L123.7,281.3L122.7,274.2L119.3,265.4L116.5,256.4L115.8,253.4L115.6,250.4L116.3,246.4L117.7,244.2L118.7,243.3L120.7,242.3L124.7,241.7L128.7,242.3L130.7,243.3L131.7,244.2L133.1,246.4L133.8,250.4L133.6,253.4L132.9,256.4L130.1,265.4L126.7,274.2L125.7,281.3Z"/>
<path fill="#1275ce" fill-rule="evenodd" d="M124.7,283.7L123.7,280.7L122.7,273.9L119.1,264.4L117.3,258.4L116.4,254.4L116.1,251.4L116.6,247.4L117.7,245.2L118.7,244.2L120.7,243.1L122.7,242.6L124.7,242.5L126.7,242.6L128.7,243.1L130.7,244.2L131.7,245.2L132.8,247.4L133.3,251.4L133.0,254.4L132.1,258.4L130.3,264.4L126.7,273.9L125.7,280.7Z"/>
<path fill="#137fd3" fill-rule="evenodd" d="M124.7,283.2L123.7,280.0L122.7,273.7L119.3,264.4L117.6,258.4L116.7,254.4L116.5,251.4L116.7,249.4L117.2,247.4L118.7,245.1L119.7,244.3L121.7,243.5L124.7,243.1L127.7,243.5L129.7,244.3L130.7,245.1L132.2,247.4L132.7,249.4L132.9,251.4L132.7,254.4L131.8,258.4L130.1,264.4L126.7,273.7L125.7,280.0Z"/>
<path fill="#1489d7" fill-rule="evenodd" d="M124.7,282.6L123.7,279.4L122.7,273.4L120.1,266.4L118.3,260.4L117.2,255.4L116.9,252.4L117.0,250.4L117.4,248.4L118.7,246.0L121.0,244.4L122.7,243.9L124.7,243.7L126.7,243.9L128.4,244.4L130.7,246.0L132.0,248.4L132.4,250.4L132.5,252.4L132.2,255.4L131.1,260.4L129.3,266.4L126.7,273.4L125.7,279.4Z"/>
<path fill="#1294dc" fill-rule="evenodd" d="M124.7,282.1L123.7,278.9L122.8,273.4L120.2,266.4L118.3,259.4L117.5,255.4L117.2,252.4L117.7,249.2L119.2,246.4L120.4,245.4L121.7,244.8L124.7,244.4L127.7,244.8L129.0,245.4L130.2,246.4L131.7,249.2L132.2,252.4L131.9,255.4L131.1,259.4L129.2,266.4L126.6,273.4L125.7,278.9Z"/>
<path fill="#10a0e0" fill-rule="evenodd" d="M124.7,281.7L123.7,278.4L122.8,273.4L121.3,269.4L119.2,262.4L118.1,257.4L117.6,253.4L117.7,251.4L118.1,249.4L119.7,246.8L121.7,245.5L124.7,245.0L127.7,245.5L129.7,246.8L131.3,249.4L131.7,251.4L131.8,253.4L131.3,257.4L130.2,262.4L128.1,269.4L126.6,273.4L125.7,278.4Z"/>
<path fill="#0dabe5" fill-rule="evenodd" d="M124.7,281.2L123.9,278.4L122.9,273.4L121.4,269.4L119.4,262.4L118.3,257.4L117.9,253.4L118.3,250.4L119.7,247.7L121.7,246.1L124.7,245.6L127.7,246.1L129.7,247.7L131.1,250.4L131.5,253.4L131.1,257.4L130.0,262.4L128.0,269.4L126.5,273.4L125.5,278.4Z"/>
<path fill="#0bb7e9" fill-rule="evenodd" d="M124.7,280.7L123.0,273.4L120.0,264.4L118.5,257.4L118.2,253.4L118.7,250.5L119.8,248.4L121.7,246.8L124.7,246.2L127.7,246.8L129.6,248.4L130.7,250.5L131.2,253.4L130.9,257.4L129.4,264.4L126.4,273.4Z"/>
<path fill="#09c0ec" fill-rule="evenodd" d="M124.7,280.3L123.0,273.4L120.1,264.4L118.9,258.4L118.5,254.4L118.9,251.4L119.7,249.4L121.7,247.5L122.7,247.1L124.7,246.8L126.7,247.1L127.7,247.5L129.7,249.4L130.5,251.4L130.9,254.4L130.5,258.4L129.3,264.4L126.4,273.4Z"/>
<path fill="#07c7ed" fill-rule="evenodd" d="M124.7,279.9L123.1,273.4L120.2,264.4L119.1,258.4L118.8,254.4L119.3,251.4L120.7,249.0L122.7,247.7L124.7,247.4L126.7,247.7L128.7,249.0L130.1,251.4L130.6,254.4L130.3,258.4L129.2,264.4L126.3,273.4Z"/>
<path fill="#06cbed" fill-rule="evenodd" d="M124.7,279.4L123.2,273.4L120.4,264.4L119.5,259.4L119.1,255.4L119.4,252.4L120.7,249.8L122.7,248.4L124.7,248.0L126.7,248.4L128.7,249.8L130.0,252.4L130.3,255.4L129.9,259.4L129.0,264.4L126.2,273.4Z"/>
<path fill="#04d3ee" fill-rule="evenodd" d="M124.7,279.4L123.2,273.4L120.4,264.4L119.5,259.4L119.1,255.4L119.4,252.4L120.7,249.8L122.7,248.4L124.7,248.1L126.7,248.4L128.7,249.8L130.0,252.4L130.3,255.4L129.9,259.4L129.0,264.4L126.2,273.4Z"/>
<path fill="#04e1ed" fill-rule="evenodd" d="M124.7,278.5L120.9,265.4L120.0,260.4L119.7,256.4L120.0,253.4L120.8,251.4L121.7,250.3L122.7,249.7L124.7,249.3L126.7,249.7L127.7,250.3L128.6,251.4L129.4,253.4L129.7,256.4L129.4,260.4L128.5,265.4Z"/>
<path fill="#1ee5dc" fill-rule="evenodd" d="M124.7,277.5L122.4,270.4L121.1,265.4L120.2,257.4L120.5,254.4L121.3,252.4L122.7,251.0L124.7,250.5L126.7,251.0L128.1,252.4L128.9,254.4L129.2,257.4L128.3,265.4L127.0,270.4Z"/>
<path fill="#38eacb" fill-rule="evenodd" d="M124.7,276.6L122.5,270.4L121.5,266.4L121.0,263.4L120.7,258.4L121.0,255.4L121.7,253.5L122.7,252.4L124.7,251.8L126.7,252.4L127.7,253.5L128.4,255.4L128.7,258.4L128.4,263.4L127.9,266.4L126.9,270.4Z"/>
<path fill="#55edaf" fill-rule="evenodd" d="M124.7,275.6L122.4,269.4L121.4,264.4L121.2,260.4L121.3,257.4L121.8,255.4L122.7,253.9L123.7,253.2L124.7,253.1L125.7,253.2L126.7,253.9L127.6,255.4L128.1,257.4L128.2,260.4L128.0,264.4L127.0,269.4Z"/>
<path fill="#73ef91" fill-rule="evenodd" d="M124.7,274.7L122.6,269.4L121.8,265.4L121.6,262.4L121.7,259.0L122.3,256.4L122.7,255.6L123.7,254.7L124.7,254.5L125.7,254.7L126.7,255.6L127.1,256.4L127.7,259.0L127.8,262.4L127.6,265.4L126.8,269.4Z"/>
<path fill="#8aef74" fill-rule="evenodd" d="M124.7,273.9L123.7,272.2L122.7,269.4L121.9,263.4L122.1,260.4L122.7,257.7L123.7,256.3L124.7,256.0L125.7,256.3L126.7,257.7L127.3,260.4L127.5,263.4L126.7,269.4L125.7,272.2Z"/>
<path fill="#9def58" fill-rule="evenodd" d="M124.7,273.2L123.7,271.8L123.2,270.4L122.3,264.4L122.7,260.0L123.7,258.1L124.7,257.7L125.7,258.1L126.7,260.0L127.1,264.4L126.2,270.4L125.7,271.8Z"/>
<path fill="#b1ee3d" fill-rule="evenodd" d="M124.7,272.5L123.7,271.4L123.4,270.4L122.5,264.4L122.7,262.6L123.4,260.4L123.7,259.9L124.7,259.4L125.7,259.9L126.0,260.4L126.7,262.6L126.9,264.4L126.0,270.4L125.7,271.4Z"/>
<path fill="#caed2d" fill-rule="evenodd" d="M124.7,272.0L123.5,270.4L122.9,265.4L123.1,263.4L123.7,261.6L124.7,261.0L125.7,261.6L126.3,263.4L126.5,265.4L125.9,270.4Z"/>
<path fill="#e3ec1c" fill-rule="evenodd" d="M124.7,271.5L123.7,270.4L123.3,265.4L123.7,263.2L124.7,262.5L125.7,263.2L126.1,265.4L125.7,270.4Z"/>
<path fill="#f1de13" fill-rule="evenodd" d="M124.7,271.0L123.7,269.4L123.6,266.4L123.7,265.0L124.7,263.8L125.7,265.0L125.8,266.4L125.7,269.4Z"/>
<path fill="#f4c310" fill-rule="evenodd" d="M124.7,270.4L124.3,268.4L124.7,265.6L125.1,268.4Z"/>
</g></g>
<rect x="111.0" y="211.8" width="28.3" height="84.6" fill="none" stroke="#00103a" stroke-opacity="0.4" stroke-width="0.7"/>
<rect x="110.4" y="238.7" width="4" height="1.2" fill="#fff"/>
<rect x="110.4" y="267.6" width="4" height="1.2" fill="#fff"/>
<g clip-path="url(#c14)"><g filter="url(#bl)">
<rect x="150.4" y="208.4" width="35.0" height="91.7" fill="#060a91"/>
<path fill="#06119a" fill-rule="evenodd" d="M168.4,294.5L167.4,295.2L166.4,294.5L165.0,290.4L163.9,284.4L162.4,271.9L161.4,268.2L160.4,266.0L158.4,262.8L155.4,259.5L153.4,258.3L150.4,257.6L150.4,208.3L185.5,208.4L185.4,257.6L182.4,257.9L179.4,259.5L176.4,262.8L174.4,266.0L173.4,268.2L172.4,271.9L171.1,283.4L170.1,289.4L169.0,293.4Z"/>
<path fill="#081ba0" fill-rule="evenodd" d="M167.4,292.7L166.4,291.7L165.2,287.4L164.0,279.4L163.4,273.8L162.4,269.2L161.4,266.3L159.4,262.4L156.4,257.9L153.4,254.3L150.4,251.7L150.4,208.4L185.4,208.4L185.4,251.1L182.4,253.3L179.4,256.6L175.4,262.4L173.4,266.3L172.4,269.2L171.4,273.8L170.9,279.4L169.7,287.4L168.4,291.7Z"/>
<path fill="#0a25a5" fill-rule="evenodd" d="M167.4,291.0L166.4,290.0L165.6,287.4L164.9,283.4L163.4,271.9L162.4,268.0L161.4,265.3L159.4,261.3L156.4,256.3L153.4,252.2L150.4,248.7L150.4,208.4L185.4,208.4L185.4,247.7L182.4,250.9L178.4,256.3L175.4,261.3L173.4,265.3L172.4,268.0L171.4,271.9L170.0,283.4L169.3,287.4L168.4,290.0Z"/>
<path fill="#0b2faa" fill-rule="evenodd" d="M167.4,289.8L166.4,288.7L165.8,286.4L163.4,270.9L161.4,264.6L159.4,260.4L156.4,255.1L150.4,246.3L150.4,208.4L185.4,208.4L185.4,245.1L181.4,250.5L178.4,255.1L175.4,260.4L173.4,264.6L171.4,270.9L169.1,286.4L168.4,288.7Z"/>
<path fill="#0c39b0" fill-rule="evenodd" d="M167.4,288.8L166.4,287.6L165.8,285.4L164.2,273.4L162.4,266.5L158.4,257.7L150.4,244.1L150.4,208.4L185.4,208.4L185.4,242.5L177.4,255.9L174.4,261.7L172.4,266.5L170.7,273.4L169.1,285.4L168.4,287.6Z"/>
<path fill="#0d43b5" fill-rule="evenodd" d="M167.4,287.9L166.4,286.6L166.1,285.4L165.1,279.4L164.4,273.4L162.4,266.0L159.4,259.0L150.4,241.6L150.4,216.7L153.4,215.7L158.4,214.8L166.4,214.4L174.4,214.6L180.4,215.5L185.4,217.1L185.4,239.6L175.4,259.0L172.4,266.0L170.5,273.4L169.8,279.4L168.8,285.4L168.4,286.6Z"/>
<path fill="#0e4dba" fill-rule="evenodd" d="M167.4,287.1L166.4,285.7L166.1,284.4L164.4,272.8L162.4,265.5L159.4,258.4L153.1,245.4L150.4,238.6L150.4,223.1L153.4,220.9L156.7,219.4L161.4,218.4L166.4,218.0L172.4,218.2L178.2,219.4L182.4,221.5L185.4,224.2L185.4,235.8L181.8,245.4L175.4,258.4L172.4,265.5L170.4,272.8L168.8,284.4L168.4,285.7Z"/>
<path fill="#0f57bf" fill-rule="evenodd" d="M167.4,286.3L166.4,284.8L166.1,283.4L164.5,272.4L163.8,270.4L163.4,268.3L161.4,262.4L155.1,248.4L153.1,243.4L151.1,236.4L150.5,231.4L150.7,229.4L151.3,227.4L152.8,225.4L154.4,224.0L157.4,222.5L160.4,221.6L163.4,221.0L167.4,220.8L171.4,221.0L174.4,221.6L177.4,222.5L180.4,224.0L182.1,225.4L183.6,227.4L184.2,229.4L184.4,231.4L183.8,236.4L181.8,243.4L179.8,248.4L173.4,262.4L171.4,268.3L171.1,270.4L170.4,272.4L168.8,283.4L168.4,284.8Z"/>
<path fill="#1061c4" fill-rule="evenodd" d="M167.4,285.5L166.3,283.4L164.6,272.4L163.4,267.9L161.4,262.0L154.1,244.4L152.6,238.4L152.2,234.4L152.4,231.4L153.0,229.4L154.2,227.4L155.4,226.2L157.4,224.9L160.4,223.8L163.4,223.2L167.4,223.0L171.4,223.2L174.4,223.8L177.4,224.9L179.4,226.2L180.7,227.4L181.9,229.4L182.5,231.4L182.7,234.4L182.3,238.4L180.8,244.4L173.4,262.0L171.4,267.9L170.3,272.4L168.6,283.4Z"/>
<path fill="#116bc9" fill-rule="evenodd" d="M167.4,284.8L166.4,283.1L164.7,272.4L162.4,264.3L154.9,245.4L154.0,241.4L153.4,236.4L153.6,233.4L154.1,231.4L155.1,229.4L156.4,227.9L158.4,226.5L161.4,225.4L164.4,224.8L167.4,224.7L170.4,224.8L173.4,225.4L176.4,226.5L178.4,227.9L179.8,229.4L180.8,231.4L181.3,233.4L181.5,236.4L180.9,241.4L180.0,245.4L172.4,264.3L170.2,272.4L168.4,283.1Z"/>
<path fill="#1275ce" fill-rule="evenodd" d="M167.4,284.0L166.4,282.3L165.0,273.4L163.4,267.1L161.4,261.2L157.1,250.4L155.4,245.4L154.8,242.4L154.3,237.4L154.6,234.4L155.2,232.4L156.3,230.4L157.4,229.1L159.4,227.8L161.4,226.9L164.4,226.3L167.4,226.1L170.4,226.3L173.4,226.9L175.4,227.8L177.4,229.1L178.6,230.4L179.7,232.4L180.3,234.4L180.6,237.4L180.1,242.4L179.5,245.4L177.8,250.4L173.4,261.2L171.4,267.1L169.9,273.4L168.4,282.3Z"/>
<path fill="#137fd3" fill-rule="evenodd" d="M167.4,283.3L166.4,281.5L165.1,273.4L163.4,266.8L156.1,246.4L155.3,242.4L155.1,238.4L155.4,235.4L156.1,233.4L157.3,231.4L158.4,230.2L160.4,228.8L162.4,228.0L167.4,227.4L172.4,228.0L174.4,228.8L176.4,230.2L177.6,231.4L178.8,233.4L179.5,235.4L179.8,238.4L179.6,242.4L178.8,246.4L171.4,266.8L169.8,273.4L168.4,281.5Z"/>
<path fill="#1489d7" fill-rule="evenodd" d="M167.4,282.6L166.4,280.8L165.2,273.4L163.4,266.5L156.7,247.4L156.0,244.4L155.8,240.4L155.9,237.4L156.4,235.4L157.3,233.4L158.4,231.9L160.4,230.3L162.4,229.3L164.4,228.8L167.4,228.6L170.4,228.8L172.4,229.3L174.4,230.3L176.4,231.9L177.6,233.4L178.5,235.4L179.0,237.4L179.1,240.4L178.9,244.4L178.2,247.4L171.4,266.5L169.7,273.4L168.4,280.8Z"/>
<path fill="#1294dc" fill-rule="evenodd" d="M167.4,282.0L166.4,280.1L165.3,273.4L163.4,266.2L157.0,247.4L156.3,242.4L156.7,237.4L157.3,235.4L158.5,233.4L160.4,231.6L162.4,230.6L164.4,230.0L167.4,229.7L170.4,230.0L172.4,230.6L174.4,231.6L176.4,233.4L177.6,235.4L178.2,237.4L178.6,242.4L177.9,247.4L171.4,266.2L169.6,273.4L168.4,280.1Z"/>
<path fill="#10a0e0" fill-rule="evenodd" d="M167.4,281.3L166.4,279.5L165.5,273.4L163.4,265.9L157.9,249.4L156.9,245.4L156.7,242.4L157.4,237.4L158.2,235.4L159.4,233.8L162.4,231.7L164.4,231.1L167.4,230.8L170.4,231.1L172.4,231.7L175.4,233.8L176.7,235.4L177.5,237.4L178.2,242.4L178.0,245.4L177.0,249.4L171.4,265.9L169.4,273.4L168.4,279.5Z"/>
<path fill="#0dabe5" fill-rule="evenodd" d="M167.4,280.7L166.4,278.8L165.6,273.4L164.5,270.4L163.4,265.6L158.1,249.4L157.3,245.4L157.1,243.4L157.8,238.4L158.4,236.6L159.4,235.1L160.4,234.0L162.4,232.7L164.4,232.0L167.4,231.7L170.4,232.0L172.4,232.7L174.4,234.0L175.4,235.1L176.4,236.6L177.1,238.4L177.8,243.4L177.6,245.4L176.8,249.4L171.4,265.6L170.4,270.4L169.3,273.4L168.4,278.8Z"/>
<path fill="#0bb7e9" fill-rule="evenodd" d="M167.4,280.1L166.4,278.2L165.6,273.4L164.6,270.4L163.4,265.4L158.7,250.4L157.7,246.4L157.5,243.4L158.4,238.4L160.2,235.4L161.4,234.3L163.4,233.2L165.4,232.7L167.4,232.6L169.4,232.7L171.4,233.2L173.4,234.3L174.7,235.4L176.5,238.4L177.4,243.4L177.2,246.4L176.2,250.4L171.4,265.4L170.3,270.4L169.3,273.4L168.4,278.2Z"/>
<path fill="#09c0ec" fill-rule="evenodd" d="M167.4,279.5L166.4,277.6L165.7,273.4L164.6,270.4L163.4,265.1L159.1,251.4L158.2,247.4L157.8,244.4L158.0,242.4L158.7,239.4L159.4,237.6L160.4,236.2L161.4,235.2L163.4,234.1L165.4,233.6L167.4,233.4L169.4,233.6L171.4,234.1L173.4,235.2L174.4,236.2L175.4,237.6L176.2,239.4L176.9,242.4L177.1,244.4L176.7,247.4L175.8,251.4L171.4,265.1L170.3,270.4L169.2,273.4L168.4,277.6Z"/>
<path fill="#07c7ed" fill-rule="evenodd" d="M167.4,279.0L166.4,276.9L165.8,273.4L164.7,270.4L163.4,264.8L159.1,250.4L158.3,246.4L158.2,244.4L158.9,240.4L160.4,237.2L161.4,236.1L163.4,234.9L165.4,234.3L167.4,234.2L169.4,234.3L171.4,234.9L173.4,236.1L174.4,237.2L176.0,240.4L176.7,244.4L176.6,246.4L175.8,250.4L171.4,264.8L170.2,270.4L169.1,273.4L168.4,276.9Z"/>
<path fill="#06cbed" fill-rule="evenodd" d="M167.4,278.4L166.4,276.3L165.9,273.4L164.8,270.4L163.4,264.6L159.8,252.4L158.8,248.4L158.5,245.4L159.0,241.4L159.8,239.4L161.1,237.4L163.4,235.7L165.4,235.0L167.4,234.9L169.4,235.0L171.4,235.7L173.8,237.4L175.1,239.4L175.9,241.4L176.4,245.4L176.1,248.4L175.1,252.4L171.4,264.6L170.1,270.4L169.0,273.4L168.4,276.3Z"/>
<path fill="#04d3ee" fill-rule="evenodd" d="M167.4,278.4L166.4,276.2L165.9,273.4L164.8,270.4L163.4,264.5L159.8,252.4L158.9,248.4L158.5,245.4L159.1,241.4L159.8,239.4L161.2,237.4L163.4,235.7L165.4,235.1L167.4,234.9L169.4,235.1L171.4,235.7L173.7,237.4L175.1,239.4L175.8,241.4L176.4,245.4L176.0,248.4L175.1,252.4L171.4,264.5L170.1,270.4L169.0,273.4L168.4,276.2Z"/>
<path fill="#04e1ed" fill-rule="evenodd" d="M167.4,277.2L164.9,270.4L163.6,264.4L160.1,252.4L159.3,248.4L159.1,245.4L159.6,242.4L161.4,238.9L162.4,237.9L164.4,236.8L167.4,236.3L170.4,236.8L172.4,237.9L173.4,238.9L175.3,242.4L175.8,245.4L175.6,248.4L174.8,252.4L171.3,264.4L170.0,270.4Z"/>
<path fill="#1ee5dc" fill-rule="evenodd" d="M167.4,275.9L165.0,270.4L163.7,264.4L160.3,251.4L159.6,246.4L159.8,244.4L160.4,242.4L162.4,239.4L164.4,238.1L167.4,237.6L170.4,238.1L172.4,239.4L174.5,242.4L175.1,244.4L175.3,246.4L174.6,251.4L171.2,264.4L169.9,270.4Z"/>
<path fill="#38eacb" fill-rule="evenodd" d="M167.4,274.7L165.1,270.4L160.4,250.5L160.1,246.4L160.8,243.4L161.4,242.0L162.4,240.8L164.4,239.4L167.4,238.8L170.4,239.4L172.4,240.8L173.4,242.0L174.1,243.4L174.8,246.4L174.4,250.5L169.8,270.4Z"/>
<path fill="#55edaf" fill-rule="evenodd" d="M167.4,273.6L166.4,272.6L165.2,270.4L161.4,253.7L160.7,247.4L161.2,244.4L162.4,242.3L164.4,240.8L167.4,240.2L170.4,240.8L172.4,242.3L173.7,244.4L174.2,247.4L173.4,253.7L169.7,270.4L168.4,272.6Z"/>
<path fill="#73ef91" fill-rule="evenodd" d="M167.4,272.9L166.4,272.2L165.4,270.4L162.0,254.4L161.3,248.4L161.8,245.4L162.9,243.4L164.4,242.2L165.4,241.7L167.4,241.5L169.4,241.7L170.4,242.2L172.0,243.4L173.1,245.4L173.6,248.4L172.9,254.4L169.5,270.4L168.4,272.2Z"/>
<path fill="#8aef74" fill-rule="evenodd" d="M168.4,272.0L167.4,272.4L166.4,272.0L165.5,270.4L162.5,255.4L161.9,250.4L162.3,246.4L163.4,244.4L165.4,243.0L167.4,242.7L169.4,243.0L171.5,244.4L172.6,246.4L173.0,249.4L172.6,254.4L169.6,269.4L169.4,270.4Z"/>
<path fill="#9def58" fill-rule="evenodd" d="M168.4,271.7L167.4,272.1L166.4,271.7L165.6,270.4L163.0,256.4L162.5,251.4L162.7,248.4L163.4,246.0L164.4,244.8L165.4,244.2L167.4,243.8L169.4,244.2L171.0,245.4L172.0,247.4L172.4,250.4L172.0,255.4L169.5,269.4L169.3,270.4Z"/>
<path fill="#b1ee3d" fill-rule="evenodd" d="M168.4,271.5L167.4,271.9L166.4,271.5L165.8,270.4L163.5,257.4L163.0,252.4L163.4,248.4L164.4,246.4L165.4,245.5L167.4,245.0L169.4,245.5L170.5,246.4L171.5,248.4L171.9,251.4L171.5,256.4L169.4,269.4Z"/>
<path fill="#caed2d" fill-rule="evenodd" d="M167.4,271.7L166.4,271.2L165.7,269.4L164.0,258.4L163.5,253.4L163.8,250.4L164.4,248.2L165.4,247.0L166.4,246.4L167.4,246.3L168.4,246.4L169.4,247.0L170.4,248.2L171.1,250.4L171.4,253.4L170.9,258.4L169.2,269.4L168.4,271.2Z"/>
<path fill="#e3ec1c" fill-rule="evenodd" d="M167.4,271.4L166.4,270.9L165.8,269.4L164.4,259.4L164.0,254.4L164.3,251.4L165.0,249.4L165.4,248.7L166.4,248.0L167.4,247.8L168.4,248.0L169.4,248.7L169.9,249.4L170.6,251.4L170.9,254.4L170.5,259.4L169.1,269.4L168.4,270.9Z"/>
<path fill="#f1de13" fill-rule="evenodd" d="M168.4,270.7L167.4,271.2L166.4,270.7L166.0,269.4L164.5,256.4L164.6,253.4L165.1,251.4L165.4,250.7L166.4,249.7L167.4,249.4L168.4,249.7L169.4,250.7L170.1,252.4L170.3,254.4L170.3,257.4L169.5,265.4L168.9,269.4Z"/>
<path fill="#f4c310" fill-rule="evenodd" d="M168.4,270.4L167.4,271.0L166.4,270.4L165.5,264.4L165.1,259.4L165.1,255.4L165.4,253.1L166.4,251.5L167.4,251.2L168.4,251.5L169.1,252.4L169.5,253.4L169.8,255.4L169.4,264.4Z"/>
<path fill="#f7a80e" fill-rule="evenodd" d="M167.4,270.7L166.8,270.4L166.3,269.4L165.5,259.4L165.6,256.4L166.1,254.4L166.4,253.7L167.4,253.2L168.4,253.7L168.8,254.4L169.3,256.4L169.4,259.4L168.6,269.4L168.1,270.4Z"/>
<path fill="#f58d10" fill-rule="evenodd" d="M167.4,270.5L166.4,269.3L166.0,262.4L166.4,256.7L167.4,255.7L168.4,256.7L168.9,262.4L168.4,269.3Z"/>
<path fill="#f37311" fill-rule="evenodd" d="M167.4,270.0L166.9,269.4L166.4,267.6L166.3,264.4L166.4,261.0L167.4,258.8L168.4,261.0L168.6,264.4L168.4,267.6L168.0,269.4Z"/>
<path fill="#f15a12" fill-rule="evenodd" d="M167.4,269.5L166.7,265.4L167.4,262.1L168.2,265.4Z"/>
</g></g>
<rect x="153.8" y="211.8" width="28.3" height="84.6" fill="none" stroke="#00103a" stroke-opacity="0.4" stroke-width="0.7"/>
<rect x="153.1" y="238.7" width="4" height="1.2" fill="#fff"/>
<rect x="153.1" y="267.6" width="4" height="1.2" fill="#fff"/>
<g clip-path="url(#c15)"><g filter="url(#bl)">
<rect x="193.2" y="208.4" width="35.0" height="91.7" fill="#060a91"/>
<path fill="#06119a" fill-rule="evenodd" d="M210.2,299.4L210.0,299.4L210.0,297.4L208.5,295.4L207.7,292.4L206.6,284.4L206.2,277.4L205.2,270.2L204.2,267.4L202.2,264.4L200.2,262.8L198.2,262.3L193.2,262.3L193.0,208.4L193.2,208.2L228.2,208.2L228.4,208.4L228.5,229.4L228.2,262.3L222.2,262.3L220.2,262.8L218.2,264.4L216.2,267.4L215.2,270.2L214.2,277.4L213.8,284.4L212.7,292.4L211.9,295.4L210.4,297.4L210.4,299.4Z"/>
<path fill="#081ba0" fill-rule="evenodd" d="M210.2,295.4L209.0,294.4L207.8,289.4L206.2,272.7L205.2,268.5L204.2,266.2L202.2,263.0L199.2,259.8L198.2,259.1L196.2,258.4L193.2,258.3L193.0,208.4L193.2,208.2L228.2,208.2L228.4,208.4L228.5,229.4L228.2,258.3L224.2,258.4L222.2,259.1L221.2,259.8L218.2,263.0L216.2,266.2L215.2,268.5L214.2,272.7L212.6,289.4L211.4,294.4Z"/>
<path fill="#0a25a5" fill-rule="evenodd" d="M211.2,293.5L210.2,294.3L209.2,293.5L208.6,291.4L207.6,286.4L207.2,280.0L206.2,271.2L205.2,267.7L204.2,265.5L202.2,262.1L199.2,258.4L196.2,256.2L193.2,255.5L192.9,230.4L193.0,208.4L193.2,208.2L228.2,208.2L228.4,208.4L228.2,255.5L225.2,255.9L222.2,257.5L219.2,260.7L216.2,265.5L215.2,267.7L214.2,271.2L213.2,280.0L212.8,286.4Z"/>
<path fill="#0b2faa" fill-rule="evenodd" d="M210.2,293.3L209.2,292.3L208.4,289.4L207.7,285.4L207.2,277.6L206.5,272.4L206.2,270.4L205.2,267.2L202.2,261.4L199.2,257.5L196.2,254.8L193.2,253.5L193.0,208.4L193.2,208.2L228.2,208.2L228.4,208.4L228.4,229.4L228.2,253.3L225.2,254.2L223.2,255.5L221.2,257.5L218.2,261.4L215.2,267.2L214.2,270.4L213.9,272.4L213.2,277.6L212.7,285.4L212.0,289.4L211.2,292.3Z"/>
<path fill="#0c39b0" fill-rule="evenodd" d="M210.2,292.4L209.2,291.4L208.4,288.4L207.8,284.4L207.2,275.8L206.2,269.8L205.2,266.7L202.2,260.9L199.2,256.7L196.2,253.7L193.2,251.9L193.0,208.4L193.2,208.2L228.2,208.2L228.4,208.4L228.4,229.4L228.2,251.6L225.2,253.0L223.2,254.6L221.2,256.7L218.2,260.9L215.2,266.7L214.2,269.8L213.2,275.8L212.6,284.4L212.0,288.4L211.2,291.4Z"/>
<path fill="#0d43b5" fill-rule="evenodd" d="M210.2,291.6L209.2,290.7L208.6,288.4L207.9,283.4L207.2,274.4L206.2,269.3L205.2,266.3L203.2,262.2L200.2,257.4L196.2,252.8L193.2,250.7L193.0,208.4L228.2,208.2L228.4,229.4L228.2,250.2L225.2,252.0L221.2,256.1L218.2,260.4L215.2,266.3L214.2,269.3L213.2,274.4L212.5,283.4L211.8,288.4L211.2,290.7Z"/>
<path fill="#0e4dba" fill-rule="evenodd" d="M210.2,291.0L209.2,290.0L208.5,287.4L207.2,273.3L206.2,268.9L205.2,266.0L202.2,260.0L199.2,255.5L196.2,252.1L193.2,249.6L193.0,208.4L228.2,208.2L228.4,229.4L228.2,249.1L225.2,251.1L221.2,255.5L218.2,260.0L215.2,266.0L214.2,268.9L213.2,273.3L211.9,287.4L211.2,290.0Z"/>
<path fill="#0f57bf" fill-rule="evenodd" d="M210.2,290.4L209.2,289.4L208.7,287.4L207.2,272.7L206.2,268.5L205.2,265.7L203.2,261.4L200.2,256.4L196.2,251.4L193.2,248.7L193.0,208.4L228.2,208.2L228.4,229.4L228.2,248.1L225.2,250.4L221.2,255.0L218.2,259.6L215.2,265.7L214.2,268.5L213.2,272.7L211.7,287.4L211.2,289.4Z"/>
<path fill="#1061c4" fill-rule="evenodd" d="M210.2,289.9L209.2,288.8L208.8,287.4L207.2,272.4L205.2,265.4L202.2,259.3L199.2,254.5L196.2,250.8L193.2,247.9L193.1,208.4L228.2,208.3L228.4,229.4L228.2,247.2L225.2,249.7L221.2,254.5L218.2,259.3L215.2,265.4L213.2,272.4L211.6,287.4L211.2,288.8Z"/>
<path fill="#116bc9" fill-rule="evenodd" d="M210.2,289.4L209.2,288.3L209.0,287.4L207.3,272.4L206.2,268.0L205.2,265.2L203.2,260.8L200.2,255.6L197.2,251.4L193.2,247.2L193.1,208.4L228.2,208.3L228.2,246.4L224.2,250.2L221.2,254.1L218.2,258.9L215.2,265.2L214.2,268.0L213.1,272.4L211.4,287.4L211.2,288.3Z"/>
<path fill="#1275ce" fill-rule="evenodd" d="M210.2,288.9L209.2,287.8L208.9,286.4L207.4,272.4L206.2,267.7L205.2,264.9L203.2,260.5L200.2,255.2L197.2,250.9L193.2,246.5L193.1,208.4L228.2,208.3L228.2,245.6L225.2,248.5L221.2,253.7L218.2,258.6L215.2,264.9L214.2,267.7L213.0,272.4L211.5,286.4L211.2,287.8Z"/>
<path fill="#137fd3" fill-rule="evenodd" d="M210.2,288.5L209.2,287.3L209.0,286.4L207.4,272.4L206.2,267.4L205.2,264.7L202.2,258.3L199.2,253.3L196.2,249.2L193.2,245.9L193.1,208.4L228.2,208.3L228.2,244.9L224.2,249.2L221.2,253.3L218.2,258.3L215.2,264.7L214.2,267.4L213.0,272.4L211.4,286.4L211.2,287.3Z"/>
<path fill="#1489d7" fill-rule="evenodd" d="M210.2,288.0L209.1,286.4L207.7,273.4L206.2,267.2L205.2,264.5L203.2,260.0L200.2,254.5L197.2,250.0L193.2,245.2L193.1,208.4L228.2,208.3L228.2,244.2L224.2,248.7L221.2,252.9L218.2,258.0L215.2,264.5L214.2,267.2L212.7,273.4L211.3,286.4Z"/>
<path fill="#1294dc" fill-rule="evenodd" d="M210.2,287.6L209.2,286.2L207.8,273.4L206.2,267.0L205.2,264.2L203.2,259.7L200.2,254.2L197.2,249.6L193.2,244.6L193.1,208.4L228.2,208.3L228.2,243.6L224.2,248.2L221.2,252.5L218.2,257.7L215.2,264.2L214.2,267.0L212.6,273.4L211.2,286.2Z"/>
<path fill="#10a0e0" fill-rule="evenodd" d="M210.2,287.1L209.2,285.6L207.8,273.4L206.2,266.8L205.2,264.0L203.2,259.4L200.2,253.8L197.2,249.1L193.2,244.0L193.1,208.4L228.2,208.3L228.2,243.0L224.2,247.8L221.2,252.2L218.2,257.4L215.2,264.0L214.2,266.8L212.6,273.4L211.2,285.6Z"/>
<path fill="#0dabe5" fill-rule="evenodd" d="M210.2,286.7L209.2,285.0L207.7,272.4L205.2,263.8L203.2,259.2L200.2,253.5L197.2,248.7L193.2,243.5L193.1,208.4L228.2,208.3L228.2,242.3L225.2,246.0L222.2,250.2L219.2,255.3L216.2,261.4L214.2,266.6L212.7,272.4L211.2,285.0Z"/>
<path fill="#0bb7e9" fill-rule="evenodd" d="M210.2,286.2L209.2,284.2L208.0,273.4L206.2,266.5L205.2,263.6L203.2,259.0L200.2,253.2L197.2,248.3L193.2,242.9L193.1,208.4L228.2,208.3L228.2,241.7L224.2,246.9L221.2,251.5L216.2,261.2L214.2,266.5L212.6,272.4L211.2,284.2Z"/>
<path fill="#09c0ec" fill-rule="evenodd" d="M210.2,285.7L209.2,283.3L208.1,273.4L205.2,263.4L203.2,258.7L200.2,252.9L197.2,247.9L193.2,242.3L193.2,208.4L228.2,208.4L228.2,241.1L224.2,246.4L221.2,251.1L216.2,261.0L214.2,266.4L212.3,273.4L211.2,283.3Z"/>
<path fill="#07c7ed" fill-rule="evenodd" d="M210.2,285.1L209.2,282.3L208.2,273.4L205.2,263.3L203.2,258.5L200.2,252.6L197.2,247.5L193.2,241.8L193.2,208.4L228.2,208.4L228.2,240.5L224.2,246.0L221.2,250.8L216.2,260.7L214.1,266.4L212.2,273.4L211.2,282.3Z"/>
<path fill="#06cbed" fill-rule="evenodd" d="M210.2,284.5L209.2,281.3L208.2,273.4L205.2,263.1L203.2,258.3L200.2,252.3L197.2,247.2L193.2,241.2L193.2,208.4L228.2,208.4L228.2,239.9L225.2,244.1L221.2,250.5L216.2,260.5L214.1,266.4L212.2,273.4L211.2,281.3Z"/>
<path fill="#04d3ee" fill-rule="evenodd" d="M210.2,284.4L209.2,281.2L208.3,273.4L205.2,263.1L203.2,258.2L200.2,252.2L197.2,247.1L193.2,241.2L193.2,208.4L228.2,208.4L228.2,239.8L225.2,244.1L221.2,250.4L216.2,260.5L214.1,266.4L212.1,273.4L211.2,281.2Z"/>
<path fill="#04e1ed" fill-rule="evenodd" d="M210.2,282.5L209.2,279.0L208.4,273.4L206.5,266.4L204.3,260.4L199.2,249.8L193.2,239.9L193.2,208.4L228.2,208.4L228.2,238.4L221.2,249.8L216.1,260.4L213.9,266.4L212.0,273.4L211.2,279.0Z"/>
<path fill="#1ee5dc" fill-rule="evenodd" d="M210.2,280.1L209.2,277.4L208.6,273.4L204.5,260.4L200.4,251.4L193.2,238.6L193.2,220.2L195.2,218.7L198.2,217.3L201.2,216.5L205.2,215.9L214.2,215.9L220.2,216.7L223.2,217.7L225.2,218.7L228.2,221.2L228.2,236.8L220.0,251.4L215.9,260.4L211.8,273.4L211.2,277.4Z"/>
<path fill="#38eacb" fill-rule="evenodd" d="M210.2,278.2L209.2,276.0L208.8,273.4L207.7,270.4L205.8,263.4L203.5,257.4L199.8,249.4L193.2,236.9L193.2,224.1L196.2,222.4L200.2,220.8L203.2,220.0L206.2,219.7L214.2,219.7L219.2,220.5L225.2,222.8L228.2,225.1L228.2,234.5L226.5,238.4L219.6,251.4L216.9,257.4L214.6,263.4L212.7,270.4L211.6,273.4L211.2,276.0Z"/>
<path fill="#55edaf" fill-rule="evenodd" d="M210.2,276.4L209.2,274.6L208.7,272.4L208.1,271.4L205.9,263.4L203.7,257.4L194.8,238.4L193.8,235.4L193.2,232.5L193.4,228.4L194.2,227.0L195.2,226.0L197.2,224.7L199.2,223.9L204.2,222.9L214.2,222.8L220.2,223.6L223.2,224.7L225.2,226.0L226.5,227.4L227.2,229.4L227.1,233.4L226.0,237.4L216.7,257.4L214.5,263.4L212.3,271.4L211.7,272.4L211.2,274.6Z"/>
<path fill="#73ef91" fill-rule="evenodd" d="M210.2,274.7L209.2,273.5L208.2,271.4L206.7,265.4L204.7,259.4L201.9,252.4L196.2,239.4L195.2,236.4L194.9,234.4L195.2,230.8L196.2,228.4L197.2,227.4L199.2,226.3L204.2,225.0L208.2,224.7L214.2,224.8L217.2,225.1L220.2,225.9L222.2,226.8L224.2,228.4L225.1,230.4L225.5,232.4L225.4,235.4L224.6,238.4L216.4,257.4L214.6,262.4L212.2,271.4L211.2,273.5Z"/>
<path fill="#8aef74" fill-rule="evenodd" d="M210.2,273.6L209.2,272.9L208.2,271.1L205.0,259.4L197.8,241.4L196.4,236.4L196.3,234.4L196.7,232.4L198.3,229.4L199.5,228.4L201.2,227.5L206.2,226.5L214.2,226.5L219.2,227.5L220.9,228.4L222.2,229.5L223.4,231.4L224.1,234.4L224.0,236.4L223.3,239.4L215.4,259.4L212.2,271.1L211.2,272.9Z"/>
<path fill="#9def58" fill-rule="evenodd" d="M210.2,272.9L209.2,272.4L208.2,270.9L205.5,260.4L199.2,243.4L197.5,237.4L197.5,235.4L198.0,233.4L199.2,231.4L200.1,230.4L201.6,229.4L203.2,228.7L207.2,228.1L214.2,228.2L218.2,229.1L220.2,230.3L221.2,231.4L222.4,233.4L222.9,235.4L222.9,237.4L222.2,240.4L215.2,259.5L212.4,270.4L211.2,272.4Z"/>
<path fill="#b1ee3d" fill-rule="evenodd" d="M211.2,272.1L210.2,272.4L209.2,272.1L208.2,270.6L205.7,260.4L200.1,244.4L198.6,238.4L198.8,235.4L199.7,233.4L200.5,232.4L203.2,230.6L207.2,229.7L213.2,229.7L217.2,230.6L219.2,231.8L220.2,232.7L221.3,234.4L221.8,236.4L221.6,239.4L220.6,243.4L215.0,259.4L212.3,270.4Z"/>
<path fill="#caed2d" fill-rule="evenodd" d="M211.2,271.9L210.2,272.2L209.2,271.9L208.3,270.4L205.9,260.4L201.1,245.4L199.7,239.4L199.8,236.4L201.2,233.9L202.2,233.0L204.2,232.0L207.2,231.3L213.2,231.3L215.2,231.7L217.2,232.4L219.6,234.4L220.2,235.4L220.8,237.4L220.6,240.4L219.6,244.4L214.7,259.4L212.2,270.2Z"/>
<path fill="#e3ec1c" fill-rule="evenodd" d="M211.2,271.6L210.2,271.9L209.2,271.6L208.4,270.4L205.9,259.4L201.4,244.4L200.6,239.4L201.1,236.4L202.2,234.9L204.6,233.4L208.2,232.7L213.2,232.8L216.2,233.6L217.6,234.4L218.6,235.4L219.3,236.4L219.8,238.4L219.6,241.4L219.0,244.4L214.5,259.4L212.2,269.8Z"/>
<path fill="#f1de13" fill-rule="evenodd" d="M210.2,271.7L209.2,271.4L208.2,269.4L206.4,260.4L202.3,245.4L201.6,240.4L202.1,237.4L203.2,235.9L204.2,235.1L206.1,234.4L209.2,234.0L213.2,234.2L216.2,235.1L217.2,235.9L218.2,237.2L218.8,239.4L218.7,242.4L218.1,245.4L214.0,260.4L212.2,269.4L211.2,271.4Z"/>
<path fill="#f4c310" fill-rule="evenodd" d="M210.2,271.5L209.2,271.2L208.4,269.4L206.7,260.4L203.1,246.4L202.6,242.4L202.7,239.4L203.7,237.4L204.9,236.4L206.2,235.8L209.2,235.4L213.2,235.6L215.5,236.4L216.7,237.4L217.3,238.4L217.8,241.4L217.3,246.4L213.7,260.4L212.0,269.4L211.2,271.2Z"/>
<path fill="#f7a80e" fill-rule="evenodd" d="M211.2,270.9L210.2,271.3L209.2,270.9L208.5,269.4L206.7,259.4L204.2,248.4L203.5,244.4L203.8,240.4L204.8,238.4L206.2,237.4L209.2,236.8L213.2,237.0L215.2,238.0L216.3,239.4L216.9,242.4L216.4,247.4L213.7,259.4L211.9,269.4Z"/>
<path fill="#f58d10" fill-rule="evenodd" d="M211.2,270.7L210.2,271.0L209.2,270.7L208.7,269.4L204.4,245.4L204.6,242.4L205.4,240.4L206.2,239.4L207.2,238.8L209.2,238.4L212.2,238.5L214.2,239.4L215.2,240.7L215.9,243.4L216.0,245.4L215.5,248.4L213.0,261.4L212.2,267.0Z"/>
<path fill="#f37311" fill-rule="evenodd" d="M211.2,270.5L210.2,270.8L209.2,270.5L208.9,269.4L205.4,246.4L205.5,244.4L206.2,242.3L207.2,241.2L209.2,240.5L211.2,240.5L213.2,241.2L214.2,242.4L215.0,245.4L214.8,248.4L212.2,265.9Z"/>
<path fill="#f15a12" fill-rule="evenodd" d="M210.2,270.6L209.2,270.1L208.4,265.4L206.6,247.4L207.2,244.4L208.2,243.4L210.2,243.0L212.2,243.4L213.2,244.4L213.8,247.4L212.0,265.4L211.2,270.1Z"/>
<path fill="#ee4213" fill-rule="evenodd" d="M211.2,269.5L210.2,270.4L209.2,269.4L208.2,257.4L208.2,249.4L209.2,247.1L210.2,246.8L211.2,247.1L211.4,247.4L212.2,249.4L212.3,250.4L212.2,257.8L211.7,265.4Z"/>
<path fill="#eb2a14" fill-rule="evenodd" d="M210.2,269.8L209.7,269.4L209.2,268.3L208.9,264.4L209.2,260.6L210.2,258.0L211.2,260.6L211.5,264.4L211.2,268.3L210.7,269.4Z"/>
<path fill="#df1e12" fill-rule="evenodd" d="M210.2,268.9L209.4,265.4L210.2,263.4L211.0,265.4Z"/>
</g></g>
<rect x="196.5" y="211.8" width="28.3" height="84.6" fill="none" stroke="#00103a" stroke-opacity="0.4" stroke-width="0.7"/>
<rect x="195.9" y="238.7" width="4" height="1.2" fill="#fff"/>
<rect x="195.9" y="267.6" width="4" height="1.2" fill="#fff"/>
<g clip-path="url(#c16)"><g filter="url(#bl)">
<rect x="271.1" y="9.9" width="35.0" height="91.7" fill="#050a96"/>
<path fill="#06119a" fill-rule="evenodd" d="M289.1,94.3L288.1,94.8L287.1,94.3L285.8,90.9L284.7,84.9L284.5,76.9L284.1,74.3L280.1,66.3L273.5,54.9L271.9,50.9L271.1,45.8L271.1,36.8L271.4,33.9L272.4,29.9L274.1,25.9L276.1,23.4L279.1,21.4L283.1,20.0L287.1,19.6L291.1,19.7L295.1,20.5L298.1,21.9L300.6,23.9L302.1,25.9L303.8,29.9L304.8,33.9L305.1,37.9L305.1,45.9L304.3,50.9L303.7,52.9L301.7,56.9L296.1,66.3L292.1,74.3L291.7,76.9L291.4,85.9L290.4,90.9Z"/>
<path fill="#081ba0" fill-rule="evenodd" d="M288.1,88.4L287.1,87.7L286.4,85.9L286.1,74.9L284.4,71.9L281.1,64.1L278.0,57.9L276.9,54.9L276.2,51.9L277.0,46.9L277.9,44.9L279.1,43.3L281.1,41.6L284.1,39.7L286.1,39.1L288.1,39.0L290.1,39.1L292.1,39.7L295.1,41.6L297.1,43.3L298.3,44.9L299.2,46.9L300.0,51.9L299.3,54.9L298.2,57.9L295.1,64.1L291.8,71.9L290.1,74.9L289.8,85.9L289.1,87.7Z"/>
<path fill="#0a25a5" fill-rule="evenodd" d="M289.1,74.4L288.1,74.8L287.1,74.4L285.8,72.9L284.7,70.9L282.1,63.9L279.3,57.9L278.1,52.9L278.3,50.9L278.7,49.9L280.1,47.2L281.1,46.1L284.1,44.4L287.1,43.9L291.1,44.1L294.1,45.3L295.1,46.1L296.5,47.9L297.5,49.9L298.1,51.9L297.8,54.9L296.5,58.9L294.1,63.9L291.5,70.9L290.4,72.9ZM288.1,85.1L287.9,79.9L288.1,77.3L288.3,79.9Z"/>
<path fill="#0b2faa" fill-rule="evenodd" d="M289.1,73.3L288.1,73.5L287.1,73.3L285.4,70.9L283.1,64.5L280.6,58.9L279.7,55.9L279.5,53.9L279.5,51.9L279.9,50.9L282.1,48.3L284.1,47.0L287.1,46.3L290.1,46.4L293.1,47.5L295.1,49.3L296.1,50.6L296.8,52.9L296.5,55.9L295.6,58.9L293.1,64.5L290.8,70.9Z"/>
<path fill="#0c39b0" fill-rule="evenodd" d="M289.1,72.3L288.1,72.6L287.1,72.3L286.0,70.9L283.6,63.9L281.4,58.9L280.5,54.9L280.8,51.9L282.1,50.2L285.1,48.6L287.1,48.2L290.1,48.3L293.1,49.5L294.8,50.9L295.6,52.9L295.6,55.9L294.8,58.9L292.6,63.9L290.2,70.9Z"/>
<path fill="#0d43b5" fill-rule="evenodd" d="M289.1,71.3L288.1,71.6L287.1,71.3L286.2,69.9L284.2,63.9L282.1,58.9L281.5,55.9L281.7,52.9L282.1,51.9L284.1,50.3L287.1,49.5L290.1,49.7L292.1,50.3L294.1,51.9L294.7,53.9L294.6,56.9L294.1,58.9L292.0,63.9L290.0,69.9Z"/>
<path fill="#0e4dba" fill-rule="evenodd" d="M289.1,69.9L288.1,70.5L287.1,69.9L284.9,63.9L282.7,58.9L282.3,56.9L282.4,54.9L283.1,52.5L284.1,51.5L285.1,51.0L287.1,50.6L290.1,50.7L292.1,51.5L293.4,52.9L293.8,54.9L293.9,56.9L293.5,58.9L291.3,63.9Z"/>
<path fill="#0f57bf" fill-rule="evenodd" d="M288.1,67.6L287.1,66.8L284.1,60.6L283.4,58.9L283.1,56.9L283.3,54.9L284.2,52.9L285.6,51.9L288.1,51.5L290.6,51.9L292.0,52.9L292.9,54.9L293.1,56.9L292.8,58.9L292.1,60.6L289.1,66.8Z"/>
<path fill="#1061c4" fill-rule="evenodd" d="M289.1,64.0L288.1,64.5L287.1,64.0L285.1,61.1L283.9,57.9L284.0,55.9L284.4,54.9L285.1,53.7L286.1,53.0L287.1,52.7L289.1,52.7L290.1,53.0L291.2,53.9L292.2,55.9L292.1,58.9L291.1,61.1Z"/>
<path fill="#116bc9" fill-rule="evenodd" d="M289.1,62.0L288.1,62.3L287.1,62.0L286.1,61.1L284.9,58.9L284.8,56.9L285.1,55.9L286.1,54.7L287.1,54.2L289.1,54.2L290.1,54.7L291.1,55.9L291.4,56.9L291.1,59.4L290.1,61.1Z"/>
<path fill="#1275ce" fill-rule="evenodd" d="M289.1,60.3L288.1,60.6L287.1,60.3L286.1,59.2L285.9,57.9L286.1,56.9L287.1,55.9L289.1,55.9L290.1,56.9L290.2,58.9Z"/>
</g></g>
<rect x="274.5" y="13.2" width="28.3" height="84.9" fill="none" stroke="#00103a" stroke-opacity="0.4" stroke-width="0.7"/>
<rect x="273.8" y="40.7" width="4" height="1.2" fill="#fff"/>
<rect x="273.8" y="69.6" width="4" height="1.2" fill="#fff"/>
<g clip-path="url(#c17)"><g filter="url(#bl)">
<rect x="313.9" y="9.9" width="35.0" height="91.7" fill="#050a96"/>
<path fill="#06119a" fill-rule="evenodd" d="M331.9,97.3L330.9,97.6L329.9,97.3L328.9,95.9L328.3,93.9L327.4,86.9L327.0,74.9L320.9,64.8L313.9,55.6L313.9,9.9L348.9,9.9L348.9,54.1L340.9,64.8L334.7,74.9L334.3,87.9L333.1,94.9Z"/>
<path fill="#081ba0" fill-rule="evenodd" d="M330.9,92.8L329.9,91.8L328.9,87.9L328.9,74.9L326.2,70.9L322.9,63.9L317.6,55.9L316.2,52.9L315.2,49.9L314.6,45.9L314.1,37.9L314.4,33.9L315.7,28.9L316.9,25.8L318.9,23.0L320.9,21.2L323.9,19.5L326.9,18.5L330.9,18.2L334.9,18.5L337.9,19.5L340.9,21.2L342.9,23.0L344.9,25.8L346.0,28.9L347.3,33.9L347.6,37.9L347.1,45.9L346.5,49.9L345.5,52.9L344.1,55.9L338.8,63.9L335.5,70.9L332.8,74.9L332.8,87.9L331.9,91.8Z"/>
<path fill="#0a25a5" fill-rule="evenodd" d="M331.9,74.3L330.9,74.6L329.9,74.3L328.3,72.9L327.0,70.9L324.6,64.9L318.7,54.9L317.5,50.9L317.3,48.9L317.5,44.9L318.2,40.9L319.0,37.9L320.6,34.9L322.9,32.4L324.9,31.1L326.9,30.3L329.9,29.9L332.9,30.0L335.9,30.7L338.9,32.4L340.9,34.5L342.3,36.9L343.0,38.9L344.1,43.9L344.3,47.9L344.2,50.9L343.0,54.9L337.1,64.9L334.7,70.9L333.4,72.9ZM330.9,89.5L329.9,88.2L329.7,85.9L329.9,79.7L330.9,77.3L331.9,79.7L332.0,85.9L331.9,88.2Z"/>
<path fill="#0b2faa" fill-rule="evenodd" d="M331.9,73.4L330.9,73.5L329.9,73.4L328.9,72.6L327.6,70.9L325.5,64.9L320.3,55.9L319.6,53.9L319.1,50.9L319.1,48.9L320.0,44.9L320.9,42.7L322.9,39.6L323.9,38.5L325.9,37.1L327.9,36.4L329.9,36.1L332.9,36.2L334.9,36.7L336.9,37.7L338.3,38.9L339.9,41.0L341.4,43.9L342.7,49.9L342.4,52.9L341.4,55.9L336.2,64.9L334.1,70.9L332.9,72.6Z"/>
<path fill="#0c39b0" fill-rule="evenodd" d="M331.9,72.6L330.9,72.8L329.9,72.6L328.2,70.9L326.3,64.9L321.3,55.9L320.6,53.9L320.4,51.9L320.6,48.9L321.9,45.9L323.1,43.9L325.9,41.6L327.9,40.7L329.9,40.4L333.9,40.7L335.9,41.6L337.9,43.1L339.9,45.9L341.1,48.9L341.4,50.9L341.1,53.9L340.4,55.9L335.4,64.9L333.5,70.9Z"/>
<path fill="#0d43b5" fill-rule="evenodd" d="M330.9,72.0L329.9,71.8L328.8,70.9L327.1,64.9L322.1,55.9L321.4,52.9L321.9,49.5L322.9,47.6L324.2,45.9L326.9,44.0L328.9,43.4L330.9,43.2L332.9,43.4L334.9,44.0L337.5,45.9L338.9,47.6L339.9,49.5L340.3,52.9L339.6,55.9L334.6,64.9L332.9,70.9L331.9,71.8Z"/>
<path fill="#0e4dba" fill-rule="evenodd" d="M331.9,71.1L330.9,71.3L329.7,70.9L329.2,69.9L328.0,64.9L323.3,56.9L322.4,53.9L322.7,50.9L323.9,48.5L326.9,46.2L329.9,45.4L331.9,45.4L333.9,45.8L336.9,47.6L338.7,49.9L339.3,52.9L338.8,55.9L333.7,64.9L332.5,69.9Z"/>
<path fill="#0f57bf" fill-rule="evenodd" d="M330.9,69.9L329.3,64.9L326.9,61.6L324.6,57.9L323.6,55.9L323.2,53.9L323.8,50.9L325.3,48.9L327.9,47.5L330.9,47.1L333.9,47.5L336.4,48.9L337.9,50.9L338.5,53.9L338.1,55.9L337.1,57.9L334.9,61.6L332.4,64.9Z"/>
<path fill="#1061c4" fill-rule="evenodd" d="M331.9,63.4L330.9,63.6L329.9,63.4L327.9,61.7L324.9,57.0L324.1,54.9L324.3,52.9L325.1,50.9L326.9,49.3L328.9,48.6L331.9,48.4L334.9,49.3L336.6,50.9L337.4,52.9L337.6,54.9L336.9,56.9L333.9,61.7Z"/>
<path fill="#116bc9" fill-rule="evenodd" d="M331.9,62.0L329.9,62.0L328.9,61.4L326.9,58.9L325.1,55.9L325.0,53.9L325.9,51.8L326.9,50.7L328.9,49.8L331.9,49.6L333.9,50.1L334.9,50.7L335.9,51.8L336.7,53.9L336.6,55.9L335.9,57.4L333.9,60.3L332.9,61.4Z"/>
<path fill="#1275ce" fill-rule="evenodd" d="M331.9,60.5L329.9,60.5L328.9,59.9L326.9,57.6L326.0,55.9L325.9,54.3L326.4,52.9L327.9,51.5L328.9,51.1L330.9,50.8L332.9,51.1L334.9,52.4L335.8,53.9L335.9,54.9L335.3,56.9L333.9,58.9Z"/>
<path fill="#137fd3" fill-rule="evenodd" d="M331.9,59.0L329.9,59.0L328.9,58.5L327.4,56.9L326.9,55.9L326.8,54.9L327.1,53.9L328.0,52.9L329.9,52.2L331.9,52.2L333.7,52.9L334.6,53.9L334.9,54.9L334.8,55.9L334.3,56.9L332.9,58.5Z"/>
<path fill="#1489d7" fill-rule="evenodd" d="M332.9,56.9L331.9,57.5L329.9,57.5L328.8,56.9L328.2,55.9L328.1,54.9L328.9,53.9L329.9,53.5L331.9,53.5L332.8,53.9L333.6,54.9L333.5,55.9Z"/>
</g></g>
<rect x="317.2" y="13.2" width="28.3" height="84.9" fill="none" stroke="#00103a" stroke-opacity="0.4" stroke-width="0.7"/>
<rect x="316.6" y="40.7" width="4" height="1.2" fill="#fff"/>
<rect x="316.6" y="69.6" width="4" height="1.2" fill="#fff"/>
<g clip-path="url(#c18)"><g filter="url(#bl)">
<rect x="356.6" y="9.9" width="35.0" height="91.7" fill="#050a96"/>
<path fill="#06119a" fill-rule="evenodd" d="M374.6,100.9L372.5,100.9L372.5,98.9L371.7,97.9L371.0,95.9L370.1,87.9L370.0,76.9L369.7,74.9L361.6,65.2L358.6,62.6L356.6,61.3L356.6,9.9L391.6,9.9L391.6,60.7L388.6,62.6L385.6,65.2L377.5,74.9L377.2,76.9L377.1,87.9L376.3,94.9L375.9,96.9L374.7,98.9Z"/>
<path fill="#081ba0" fill-rule="evenodd" d="M373.6,95.5L372.6,94.5L372.4,93.9L371.5,87.9L371.7,74.9L368.2,70.9L363.6,63.4L360.6,59.8L356.6,55.7L356.6,9.9L391.6,9.9L391.6,54.7L384.6,62.2L382.6,64.8L379.0,70.9L375.5,74.9L375.7,87.9L374.8,93.9L374.6,94.5Z"/>
<path fill="#0a25a5" fill-rule="evenodd" d="M374.6,74.2L373.6,74.4L372.6,74.2L371.6,73.5L369.6,71.4L364.6,62.5L356.6,52.9L356.6,9.9L391.6,9.9L391.6,51.7L382.6,62.5L380.6,65.7L378.0,70.9L376.3,72.9ZM373.6,91.3L372.6,89.5L372.3,85.9L372.6,80.9L373.6,78.2L374.6,80.9L374.9,85.9L374.6,89.5Z"/>
<path fill="#0b2faa" fill-rule="evenodd" d="M374.6,73.3L372.6,73.3L371.6,72.7L369.9,70.9L367.6,65.5L366.1,62.9L364.1,59.9L358.4,52.9L356.6,50.1L356.6,9.9L391.6,9.9L391.6,46.3L391.1,48.9L389.5,51.9L383.1,59.9L380.6,63.6L377.3,70.9L375.6,72.7Z"/>
<path fill="#0c39b0" fill-rule="evenodd" d="M374.6,72.5L372.6,72.5L370.6,70.9L367.6,63.4L365.3,59.9L359.2,51.9L358.1,49.9L357.9,48.9L357.1,35.9L357.3,31.9L358.2,26.9L359.3,23.9L360.6,21.4L362.6,18.6L366.6,13.9L367.0,12.9L366.7,9.9L380.5,9.9L380.2,12.9L381.4,14.9L385.6,19.9L387.5,22.9L388.7,25.9L389.7,30.9L390.1,37.9L389.1,49.9L387.3,52.9L381.9,59.9L379.9,62.9L378.9,64.9L376.6,70.9Z"/>
<path fill="#0d43b5" fill-rule="evenodd" d="M373.6,71.9L372.6,71.8L371.3,70.9L369.0,63.9L366.4,59.9L360.5,51.9L359.9,50.9L359.5,48.9L360.6,38.9L361.6,35.5L362.9,32.9L364.6,30.6L367.6,28.1L370.6,27.0L373.6,26.7L376.6,27.0L379.6,28.1L382.6,30.6L384.3,32.9L385.6,35.5L386.6,38.9L387.7,48.9L387.3,50.9L386.7,51.9L380.8,59.9L378.2,63.9L375.9,70.9L374.6,71.8Z"/>
<path fill="#0e4dba" fill-rule="evenodd" d="M374.6,71.1L372.6,71.1L371.6,69.9L370.9,65.9L370.2,63.9L367.6,59.9L362.3,52.9L361.1,50.9L360.9,49.9L361.1,47.9L362.3,43.9L364.0,39.9L365.3,37.9L366.6,36.6L368.6,35.3L370.6,34.6L372.6,34.3L375.6,34.4L377.6,34.9L379.6,35.8L381.6,37.6L383.7,40.9L385.2,44.9L386.3,48.9L386.1,50.9L384.9,52.9L379.6,59.9L377.0,63.9L376.3,65.9L375.6,69.9Z"/>
<path fill="#0f57bf" fill-rule="evenodd" d="M374.6,64.3L373.6,64.7L372.6,64.3L370.6,62.2L364.0,53.9L362.8,51.9L362.1,49.9L362.6,48.1L364.2,44.9L366.6,42.0L367.8,40.9L369.6,39.9L372.6,39.2L376.6,39.5L379.6,41.1L383.0,44.9L384.6,48.1L385.1,49.9L384.4,51.9L381.7,55.9Z"/>
<path fill="#1061c4" fill-rule="evenodd" d="M374.6,61.4L372.6,61.4L369.6,59.2L366.6,55.9L364.4,52.9L363.4,50.9L363.4,49.9L363.7,48.9L365.9,45.9L367.6,44.4L370.6,43.1L374.6,42.8L376.6,43.1L378.6,43.8L380.6,45.1L381.6,46.2L383.5,48.9L383.8,49.9L383.3,51.9L379.9,56.9L376.6,60.1Z"/>
<path fill="#116bc9" fill-rule="evenodd" d="M375.6,59.1L374.6,59.4L372.6,59.4L370.6,58.5L368.6,56.9L365.0,51.9L364.6,50.9L364.6,49.9L365.1,48.9L366.6,47.4L368.6,46.1L370.6,45.3L372.6,45.0L376.6,45.3L379.6,46.7L382.1,48.9L382.6,49.9L382.6,50.9L381.7,52.9L378.6,56.9Z"/>
<path fill="#1275ce" fill-rule="evenodd" d="M373.6,57.9L371.6,57.6L370.3,56.9L368.6,55.3L366.7,52.9L365.8,50.9L366.0,49.9L367.6,48.2L370.6,47.1L372.6,46.8L375.6,46.9L378.6,47.7L380.5,48.9L381.2,49.9L381.4,50.9L381.0,51.9L378.6,55.3L376.6,57.1L375.6,57.6Z"/>
<path fill="#137fd3" fill-rule="evenodd" d="M375.6,55.9L374.6,56.2L372.6,56.2L370.6,55.4L368.6,53.5L367.5,51.9L367.2,50.9L367.5,49.9L369.6,48.6L372.6,48.0L375.6,48.1L378.6,49.0L379.7,49.9L380.0,50.9L379.7,51.9L377.6,54.5Z"/>
<path fill="#1489d7" fill-rule="evenodd" d="M375.6,54.0L373.6,54.4L371.6,54.0L369.6,52.5L368.9,50.9L369.7,49.9L372.6,49.1L375.6,49.3L377.5,49.9L378.3,50.9L378.0,51.9L377.3,52.9Z"/>
<path fill="#1294dc" fill-rule="evenodd" d="M373.6,51.9L372.5,50.9L374.7,50.9Z"/>
</g></g>
<rect x="360.0" y="13.2" width="28.3" height="84.9" fill="none" stroke="#00103a" stroke-opacity="0.4" stroke-width="0.7"/>
<rect x="359.3" y="40.7" width="4" height="1.2" fill="#fff"/>
<rect x="359.3" y="69.6" width="4" height="1.2" fill="#fff"/>
<g clip-path="url(#c19)"><g filter="url(#bl)">
<rect x="399.4" y="9.9" width="35.0" height="91.7" fill="#050a96"/>
<path fill="#06119a" fill-rule="evenodd" d="M418.4,100.9L413.6,100.9L413.4,96.2L412.8,91.9L412.4,76.3L411.4,74.6L409.4,72.5L402.0,65.9L400.7,64.9L399.4,64.4L399.4,9.8L434.5,9.9L434.4,64.0L432.0,64.9L430.7,65.9L422.4,73.5L420.4,76.3L419.9,92.9L419.4,96.2L419.1,100.9Z"/>
<path fill="#081ba0" fill-rule="evenodd" d="M417.4,100.9L415.2,100.9L415.2,98.9L414.1,93.9L413.8,88.9L414.0,77.9L413.4,74.9L412.4,73.3L410.1,70.9L405.4,64.8L402.9,62.9L399.4,61.5L399.4,9.8L434.5,9.9L434.4,61.2L431.4,62.2L428.3,63.9L420.6,72.9L419.3,74.9L418.7,77.9L418.7,92.9L417.5,98.9L417.5,100.9Z"/>
<path fill="#0a25a5" fill-rule="evenodd" d="M416.4,97.7L415.4,96.6L414.6,92.9L414.5,85.9L415.0,76.9L414.7,74.9L413.4,72.9L410.8,69.9L407.8,64.9L406.4,63.3L403.4,61.1L399.4,59.6L399.2,9.9L434.4,9.8L434.4,59.4L429.8,60.9L426.4,63.3L424.9,64.9L421.9,69.9L419.3,72.9L418.0,74.9L417.7,76.9L418.2,85.9L418.1,92.9L417.4,96.6Z"/>
<path fill="#0b2faa" fill-rule="evenodd" d="M417.4,73.1L416.4,73.5L415.4,73.1L412.8,70.9L409.8,64.9L407.4,61.8L404.4,59.7L399.4,58.0L399.4,9.8L434.5,9.9L434.4,57.8L429.4,59.2L427.4,60.3L425.4,61.8L422.9,64.9L419.9,70.9ZM416.4,95.6L415.4,94.2L415.0,90.9L415.4,83.6L416.4,80.4L417.4,83.6L417.7,90.9L417.4,94.2Z"/>
<path fill="#0c39b0" fill-rule="evenodd" d="M418.4,71.0L416.4,71.6L415.4,71.5L414.2,70.9L413.6,69.9L411.6,63.9L410.2,61.9L408.2,59.9L404.5,57.9L399.4,56.4L399.4,9.8L434.5,9.9L434.4,56.2L430.4,57.2L427.4,58.3L425.4,59.3L423.4,60.9L421.1,63.9L419.1,69.9ZM416.4,93.6L415.7,91.9L415.7,90.9L416.4,86.3L417.0,90.9L417.0,91.9Z"/>
<path fill="#0d43b5" fill-rule="evenodd" d="M417.4,61.3L415.4,61.3L411.3,58.9L406.9,56.9L403.7,55.9L399.4,55.0L399.4,9.8L434.4,9.9L434.4,54.8L429.0,55.9L425.8,56.9L421.4,58.9Z"/>
<path fill="#0e4dba" fill-rule="evenodd" d="M421.4,56.0L418.4,56.5L414.4,56.5L399.4,53.8L399.4,9.8L434.4,9.9L434.4,53.6Z"/>
<path fill="#0f57bf" fill-rule="evenodd" d="M425.4,53.9L419.4,54.6L413.4,54.6L408.4,54.1L399.4,52.6L399.4,9.8L434.4,9.9L434.4,52.4Z"/>
<path fill="#1061c4" fill-rule="evenodd" d="M424.4,52.9L418.4,53.4L412.4,53.3L407.4,52.8L399.4,51.3L399.4,9.8L434.4,9.9L434.4,51.1Z"/>
<path fill="#116bc9" fill-rule="evenodd" d="M422.4,52.0L416.4,52.3L410.4,52.0L399.4,49.9L399.4,9.9L434.4,9.9L434.4,49.7Z"/>
<path fill="#1275ce" fill-rule="evenodd" d="M425.4,50.0L419.4,50.7L412.4,50.7L406.5,49.9L399.4,48.4L399.4,9.9L434.4,9.9L434.4,48.1Z"/>
<path fill="#137fd3" fill-rule="evenodd" d="M421.4,48.9L414.4,49.1L409.4,48.7L405.1,47.9L401.8,46.9L399.4,45.8L399.4,9.9L434.4,9.9L434.4,45.3L430.9,46.9L427.6,47.9Z"/>
<path fill="#1489d7" fill-rule="evenodd" d="M426.4,16.9L420.4,17.3L413.4,17.3L399.4,16.3L399.3,9.9L434.4,9.9L434.4,16.2Z"/>
<path fill="#1294dc" fill-rule="evenodd" d="M425.4,12.9L415.4,13.2L406.7,12.9L406.3,9.9L426.4,9.9L426.0,12.9Z"/>
</g></g>
<rect x="402.7" y="13.2" width="28.3" height="84.9" fill="none" stroke="#00103a" stroke-opacity="0.4" stroke-width="0.7"/>
<rect x="402.1" y="40.7" width="4" height="1.2" fill="#fff"/>
<rect x="402.1" y="69.6" width="4" height="1.2" fill="#fff"/>
<g clip-path="url(#c20)"><g filter="url(#bl)">
<rect x="271.1" y="110.3" width="35.0" height="91.7" fill="#050a96"/>
<path fill="#06119a" fill-rule="evenodd" d="M289.1,193.8L288.1,194.2L287.1,193.8L285.7,190.3L284.5,184.3L284.0,173.3L279.1,164.1L273.5,155.3L271.1,150.3L271.1,123.9L272.1,122.0L273.5,120.3L277.1,117.6L282.1,115.5L287.1,114.7L291.1,114.9L294.1,115.5L297.1,116.5L300.1,118.2L302.1,119.7L304.1,122.0L305.3,124.3L306.1,127.2L306.1,146.2L305.4,149.3L304.8,151.3L302.7,155.3L297.1,164.1L292.2,173.3L291.5,185.3L290.5,190.3Z"/>
<path fill="#081ba0" fill-rule="evenodd" d="M288.1,188.5L287.1,187.7L286.0,184.3L285.5,173.3L283.4,169.3L281.1,164.0L276.5,155.3L275.2,151.3L275.0,149.3L275.4,145.3L276.1,143.4L280.1,137.5L282.1,135.9L284.1,135.1L288.1,134.5L292.1,135.1L294.1,135.9L296.1,137.5L300.1,143.4L300.8,145.3L301.2,149.3L301.0,151.3L299.7,155.3L295.1,164.0L292.8,169.3L290.7,173.3L290.2,184.3L289.1,187.7Z"/>
<path fill="#0a25a5" fill-rule="evenodd" d="M288.1,185.9L287.1,185.0L286.7,183.3L286.6,173.3L284.6,170.3L282.1,164.2L278.6,157.3L277.5,154.3L276.8,150.3L278.1,145.9L279.0,144.3L280.1,143.2L282.1,141.8L284.1,141.1L288.1,140.6L292.1,141.1L294.1,141.8L296.1,143.2L297.2,144.3L298.1,145.9L299.4,150.3L298.7,154.3L297.6,157.3L294.1,164.2L291.6,170.3L289.6,173.3L289.5,183.3L289.1,185.0Z"/>
<path fill="#0b2faa" fill-rule="evenodd" d="M289.1,172.9L288.1,173.1L287.1,172.9L285.7,171.3L284.7,169.3L282.1,162.6L279.5,157.3L278.5,154.3L278.1,151.3L278.4,149.3L280.1,146.3L281.1,145.2L284.1,143.5L287.1,143.0L291.1,143.3L294.1,144.4L296.1,146.3L297.1,148.0L297.8,149.3L298.1,151.3L297.7,154.3L296.7,157.3L294.1,162.6L291.5,169.3L290.5,171.3Z"/>
<path fill="#0c39b0" fill-rule="evenodd" d="M288.1,172.3L287.1,172.1L286.3,171.3L285.1,169.3L283.1,163.6L279.8,156.3L279.4,154.3L279.1,151.3L279.7,149.3L282.5,146.3L285.1,145.1L288.1,144.7L291.1,145.1L293.7,146.3L296.5,149.3L297.1,151.3L296.8,154.3L296.4,156.3L293.1,163.6L291.1,169.3L289.9,171.3L289.1,172.1Z"/>
<path fill="#0d43b5" fill-rule="evenodd" d="M289.1,171.4L288.1,171.7L287.1,171.4L285.6,169.3L283.1,162.3L280.8,157.3L280.0,153.3L280.0,151.3L280.3,150.3L281.1,149.1L284.1,147.0L287.1,146.3L290.1,146.4L293.1,147.5L295.3,149.3L296.2,151.3L296.1,154.3L295.4,157.3L293.1,162.3L290.6,169.3Z"/>
<path fill="#0e4dba" fill-rule="evenodd" d="M289.1,170.6L288.1,171.0L287.1,170.6L286.1,169.3L283.6,162.3L281.4,157.3L280.9,155.3L280.8,152.3L281.3,150.3L283.1,148.7L286.1,147.6L289.1,147.5L292.1,148.2L294.1,149.4L295.3,151.3L295.4,154.3L294.8,157.3L292.6,162.3L290.1,169.3Z"/>
<path fill="#0f57bf" fill-rule="evenodd" d="M289.1,169.9L288.1,170.2L287.1,169.9L286.7,169.3L284.1,162.3L281.9,157.3L281.5,155.3L281.5,152.3L282.1,150.7L283.7,149.3L286.1,148.5L289.1,148.4L292.1,149.1L293.8,150.3L294.4,151.3L294.7,152.3L294.7,155.3L294.3,157.3L291.7,163.3L290.0,168.3Z"/>
<path fill="#1061c4" fill-rule="evenodd" d="M288.1,169.4L287.1,168.8L284.7,162.3L282.8,158.3L282.2,156.3L282.0,154.3L282.7,151.3L283.6,150.3L285.1,149.5L288.1,149.1L291.1,149.5L292.6,150.3L293.5,151.3L294.2,154.3L294.0,156.3L293.4,158.3L291.5,162.3L289.1,168.8Z"/>
<path fill="#116bc9" fill-rule="evenodd" d="M288.1,167.7L287.1,166.7L283.3,158.3L282.6,155.3L282.8,153.3L283.7,151.3L285.1,150.3L288.1,149.8L291.1,150.3L292.5,151.3L293.4,153.3L293.6,155.3L292.9,158.3L289.1,166.7Z"/>
<path fill="#1275ce" fill-rule="evenodd" d="M289.1,164.5L288.1,165.2L287.1,164.5L284.1,159.0L283.3,156.3L283.3,154.3L284.1,152.3L285.1,151.2L287.1,150.6L289.1,150.6L291.1,151.2L292.1,152.3L292.9,154.3L292.9,156.3L292.4,158.3Z"/>
<path fill="#137fd3" fill-rule="evenodd" d="M289.1,162.5L288.1,163.0L287.1,162.5L285.1,159.8L284.0,157.3L283.9,155.3L284.6,153.3L285.4,152.3L287.1,151.5L289.1,151.5L290.8,152.3L291.6,153.3L292.3,155.3L292.2,157.3L291.8,158.3L291.1,159.8Z"/>
<path fill="#1489d7" fill-rule="evenodd" d="M289.1,161.0L288.1,161.3L287.1,161.0L285.5,159.3L284.6,157.3L284.6,155.3L285.0,154.3L286.1,153.0L287.1,152.6L289.1,152.6L290.1,153.0L291.1,154.1L291.6,155.3L291.7,156.3L291.2,158.3L290.1,160.1Z"/>
<path fill="#1294dc" fill-rule="evenodd" d="M289.1,159.8L288.1,160.0L287.1,159.8L286.1,158.9L285.3,157.3L285.5,155.3L286.1,154.4L287.1,153.8L289.1,153.8L290.1,154.4L290.7,155.3L290.9,157.3L290.1,158.9Z"/>
<path fill="#10a0e0" fill-rule="evenodd" d="M289.1,158.4L288.1,158.7L287.0,158.3L286.4,157.3L286.4,156.3L287.1,155.3L288.1,155.1L289.1,155.3L289.8,156.3L289.8,157.3Z"/>
</g></g>
<rect x="274.5" y="113.6" width="28.3" height="84.2" fill="none" stroke="#00103a" stroke-opacity="0.4" stroke-width="0.7"/>
<rect x="273.8" y="139.7" width="4" height="1.2" fill="#fff"/>
<rect x="273.8" y="168.3" width="4" height="1.2" fill="#fff"/>
<g clip-path="url(#c21)"><g filter="url(#bl)">
<rect x="313.9" y="110.3" width="35.0" height="91.7" fill="#050a96"/>
<path fill="#06119a" fill-rule="evenodd" d="M331.9,196.4L330.9,196.6L329.7,196.3L328.9,195.3L328.2,193.3L327.2,186.3L326.9,174.2L325.9,172.5L319.9,164.9L313.9,158.4L313.9,110.3L348.9,110.3L348.9,157.4L342.9,163.7L335.9,172.5L334.9,174.2L334.3,188.3L333.3,194.3L332.8,195.3Z"/>
<path fill="#081ba0" fill-rule="evenodd" d="M331.9,192.3L330.9,193.1L329.9,192.3L328.5,187.3L328.4,175.3L328.1,173.3L325.0,169.3L320.9,162.7L313.9,154.2L313.9,115.0L315.0,112.3L314.6,110.3L347.1,110.3L346.7,112.3L346.9,113.3L348.9,116.4L348.9,152.6L347.0,155.3L340.9,162.7L336.7,169.3L333.6,173.3L333.3,175.3L333.3,186.3Z"/>
<path fill="#0a25a5" fill-rule="evenodd" d="M330.9,190.1L329.9,189.2L329.1,186.3L329.1,178.3L329.5,174.3L329.3,173.3L326.5,170.3L321.9,162.3L315.0,153.3L313.9,150.5L313.8,144.3L313.9,132.8L315.0,130.3L316.9,127.5L319.9,124.5L322.9,122.9L326.9,121.9L330.9,121.6L334.9,121.9L338.9,122.9L341.9,124.5L343.9,126.3L346.1,129.3L348.0,133.3L348.9,137.1L348.9,142.3L348.6,148.3L346.7,153.3L339.9,162.3L335.2,170.3L332.4,173.3L332.2,174.3L332.6,178.3L332.6,186.3L331.9,189.2Z"/>
<path fill="#0b2faa" fill-rule="evenodd" d="M331.9,172.9L329.9,172.9L327.9,171.3L326.4,169.3L323.4,163.3L316.3,153.3L315.5,151.3L314.9,148.3L315.0,144.3L315.4,141.3L316.6,137.3L318.3,134.3L320.2,132.3L322.9,130.5L325.9,129.4L328.9,128.9L332.9,128.9L335.9,129.4L338.9,130.5L341.9,132.6L343.9,134.9L345.1,137.3L346.3,141.3L346.7,144.3L346.7,149.3L345.4,153.3L338.3,163.3L335.3,169.3L333.8,171.3ZM330.9,188.1L329.9,186.8L329.7,184.3L329.9,179.0L330.9,176.3L331.9,179.0L332.0,184.3L331.9,186.8Z"/>
<path fill="#0c39b0" fill-rule="evenodd" d="M330.9,172.5L329.9,172.3L328.9,171.7L326.9,169.3L324.2,163.3L318.5,155.3L317.3,153.3L316.7,151.3L316.3,148.3L317.6,142.3L318.9,139.8L320.9,137.0L322.9,135.3L324.9,134.3L327.9,133.6L330.9,133.4L333.9,133.6L336.9,134.3L338.9,135.3L340.9,137.0L342.9,139.8L344.1,142.3L345.4,148.3L345.0,151.3L344.4,153.3L343.2,155.3L337.5,163.3L334.8,169.3L332.9,171.7L331.9,172.3Z"/>
<path fill="#0d43b5" fill-rule="evenodd" d="M331.9,171.7L329.9,171.7L328.9,171.1L327.3,169.3L324.9,163.3L318.7,154.3L317.9,152.3L317.5,149.3L317.7,147.3L318.8,144.3L320.9,141.1L322.9,139.2L324.9,138.0L326.9,137.2L328.9,136.9L331.9,136.8L334.9,137.2L336.9,138.0L338.9,139.2L340.9,141.1L342.4,143.3L344.2,148.3L344.0,151.3L343.0,154.3L336.8,163.3L334.4,169.3L332.9,171.1Z"/>
<path fill="#0e4dba" fill-rule="evenodd" d="M330.9,171.4L329.9,171.2L328.9,170.5L327.8,169.3L325.5,163.3L319.5,154.3L318.8,152.3L318.5,149.3L319.0,147.3L319.9,145.7L321.4,143.3L322.9,142.0L324.9,140.7L326.9,140.0L330.9,139.5L334.9,140.0L336.9,140.7L338.9,142.0L340.3,143.3L341.9,145.7L342.7,147.3L343.2,149.3L342.9,152.3L342.2,154.3L336.2,163.3L333.9,169.3L332.9,170.5L331.9,171.2Z"/>
<path fill="#0f57bf" fill-rule="evenodd" d="M331.9,170.7L330.9,170.9L329.9,170.7L328.3,169.3L326.2,163.3L320.7,155.3L319.5,152.3L319.5,150.3L319.8,148.3L321.9,145.2L322.9,144.2L324.9,142.8L326.9,142.0L328.9,141.6L332.9,141.6L334.9,142.0L336.9,142.8L338.9,144.2L340.7,146.3L341.9,148.2L342.2,149.3L342.2,152.3L341.5,154.3L335.5,163.3L333.4,169.3Z"/>
<path fill="#1061c4" fill-rule="evenodd" d="M330.9,170.4L329.9,170.2L328.8,169.3L326.9,163.3L321.4,155.3L320.5,153.3L320.3,151.3L320.9,148.3L321.9,147.0L323.9,145.2L326.9,143.7L330.9,143.1L334.9,143.7L337.9,145.2L339.9,147.0L340.8,148.3L341.4,151.3L341.2,153.3L340.3,155.3L334.8,163.3L332.9,169.3L331.9,170.2Z"/>
<path fill="#116bc9" fill-rule="evenodd" d="M331.9,169.6L330.9,169.8L329.5,169.3L327.7,163.3L322.6,156.3L321.1,153.3L321.1,151.3L321.5,149.3L322.9,147.4L325.9,145.5L328.9,144.7L332.9,144.7L334.9,145.1L336.9,146.0L338.8,147.3L339.7,148.3L340.2,149.3L340.6,151.3L340.6,153.3L340.2,154.3L339.1,156.3L334.0,163.3L332.6,168.3Z"/>
<path fill="#1275ce" fill-rule="evenodd" d="M330.9,168.8L329.9,167.4L329.3,164.3L325.9,160.0L322.6,155.3L321.8,153.3L321.7,152.3L322.5,149.3L323.9,147.7L326.9,146.3L329.9,145.8L333.9,146.0L337.2,147.3L338.5,148.3L339.2,149.3L340.0,152.3L339.9,153.3L339.1,155.3L335.9,160.0L332.4,164.3L331.9,167.4Z"/>
<path fill="#137fd3" fill-rule="evenodd" d="M331.9,162.8L330.9,163.0L329.9,162.8L327.9,161.4L325.9,159.1L322.7,154.3L322.5,152.3L323.6,149.3L324.9,148.1L326.9,147.2L330.9,146.7L334.9,147.2L336.9,148.1L337.9,149.0L339.0,151.3L339.2,153.3L338.5,155.3L334.9,160.4Z"/>
<path fill="#1489d7" fill-rule="evenodd" d="M331.9,161.7L329.9,161.7L327.9,160.5L324.9,156.9L323.3,154.3L323.2,152.3L323.9,150.6L324.9,149.3L326.9,148.1L329.9,147.5L333.9,147.8L335.4,148.3L336.9,149.3L338.2,151.3L338.6,153.3L337.9,155.3L334.9,159.4L333.9,160.5Z"/>
<path fill="#1294dc" fill-rule="evenodd" d="M331.9,160.7L329.9,160.7L327.9,159.5L325.1,156.3L324.0,154.3L323.9,153.0L324.4,151.3L325.9,149.6L326.9,149.0L329.9,148.3L333.9,148.7L335.9,149.6L336.9,150.7L337.7,152.3L337.7,154.3L336.6,156.3L333.9,159.5Z"/>
<path fill="#10a0e0" fill-rule="evenodd" d="M331.9,159.7L329.9,159.7L328.9,159.3L325.9,156.4L324.7,154.3L324.5,153.3L324.9,152.2L325.9,150.8L327.9,149.6L330.9,149.1L333.9,149.6L335.9,150.8L336.9,152.3L337.0,154.3L335.9,156.3L333.9,158.5Z"/>
<path fill="#0dabe5" fill-rule="evenodd" d="M331.9,158.6L329.9,158.6L328.9,158.2L326.9,156.6L325.9,155.3L325.3,153.3L325.7,152.3L326.9,151.2L328.9,150.3L331.9,150.1L333.9,150.6L334.9,151.2L336.0,152.3L336.4,153.3L335.9,155.3L333.9,157.5Z"/>
<path fill="#0bb7e9" fill-rule="evenodd" d="M331.9,157.5L329.9,157.5L327.6,156.3L326.2,154.3L326.2,153.3L326.9,152.3L328.9,151.2L330.9,151.0L332.9,151.2L334.9,152.3L335.5,153.3L335.5,154.3L335.0,155.3L333.9,156.5Z"/>
<path fill="#09c0ec" fill-rule="evenodd" d="M331.9,156.5L329.9,156.5L328.9,156.1L327.8,155.3L327.3,154.3L327.4,153.3L328.6,152.3L329.9,152.0L331.9,152.0L333.9,152.8L334.3,153.3L334.4,154.3L333.9,155.3L332.9,156.1Z"/>
<path fill="#07c7ed" fill-rule="evenodd" d="M330.9,155.4L329.9,155.3L328.8,154.3L329.4,153.3L331.9,153.2L332.9,154.0L332.9,154.4L331.9,155.3Z"/>
</g></g>
<rect x="317.2" y="113.6" width="28.3" height="84.2" fill="none" stroke="#00103a" stroke-opacity="0.4" stroke-width="0.7"/>
<rect x="316.6" y="139.7" width="4" height="1.2" fill="#fff"/>
<rect x="316.6" y="168.3" width="4" height="1.2" fill="#fff"/>
<g clip-path="url(#c22)"><g filter="url(#bl)">
<rect x="356.6" y="110.3" width="35.0" height="91.7" fill="#050a96"/>
<path fill="#06119a" fill-rule="evenodd" d="M374.6,201.3L371.9,201.3L371.7,197.3L370.8,195.3L370.0,189.3L369.6,174.9L368.7,173.3L366.7,171.3L360.6,166.0L356.6,163.3L356.6,110.2L391.7,110.3L391.6,162.8L388.6,164.5L385.6,166.8L378.6,173.2L377.6,174.9L377.1,190.3L376.4,195.3L375.5,197.3L375.3,201.3Z"/>
<path fill="#081ba0" fill-rule="evenodd" d="M373.6,195.8L372.6,195.2L372.2,194.3L371.3,189.3L371.0,185.3L371.1,175.3L370.6,173.4L366.4,169.3L361.6,163.7L356.6,159.2L356.5,110.3L391.6,110.2L391.6,158.5L386.6,162.7L380.8,169.3L376.6,173.4L376.1,175.3L376.2,185.3L375.9,189.3L375.0,194.3L374.6,195.2Z"/>
<path fill="#0a25a5" fill-rule="evenodd" d="M373.6,193.5L372.6,192.4L371.7,187.3L371.6,182.3L372.0,175.3L371.6,173.3L367.3,169.3L363.6,164.2L361.6,161.9L356.6,157.3L356.5,110.3L391.6,110.2L391.6,156.5L385.6,161.9L383.6,164.2L379.9,169.3L375.6,173.3L375.2,175.3L375.6,182.3L375.5,187.3L374.6,192.4Z"/>
<path fill="#0b2faa" fill-rule="evenodd" d="M375.6,172.6L374.6,173.1L372.6,173.1L370.6,171.8L368.0,169.3L364.6,164.1L362.6,161.6L356.6,155.8L356.6,110.3L391.6,110.3L391.6,155.0L384.6,161.6L382.6,164.1L379.2,169.3ZM373.6,190.9L372.6,189.2L372.1,185.3L372.6,177.4L373.6,175.5L374.6,177.4L375.1,185.3L374.6,189.2Z"/>
<path fill="#0c39b0" fill-rule="evenodd" d="M374.6,172.5L372.6,172.5L371.6,172.0L369.5,170.3L368.6,169.3L365.6,164.3L363.6,161.6L360.6,158.3L356.6,154.6L356.6,110.3L391.6,110.3L391.6,153.6L386.6,158.3L383.6,161.6L381.6,164.3L378.6,169.3L376.6,171.2ZM373.6,188.2L372.9,186.3L372.8,185.3L372.9,183.3L373.6,180.4L374.3,183.3L374.4,185.3L374.3,186.3Z"/>
<path fill="#0d43b5" fill-rule="evenodd" d="M375.6,171.5L374.6,171.9L372.6,171.9L370.1,170.3L369.1,169.3L366.6,164.6L364.6,161.6L361.7,158.3L356.6,153.4L356.6,110.3L391.6,110.3L391.6,152.4L385.5,158.3L382.9,161.3L381.4,163.3L378.1,169.3Z"/>
<path fill="#0e4dba" fill-rule="evenodd" d="M374.6,171.5L372.6,171.5L371.6,171.0L369.6,169.3L367.2,164.3L365.6,161.8L362.6,158.3L356.6,152.3L356.6,110.3L391.6,110.3L391.6,151.2L384.6,158.3L381.6,161.8L380.0,164.3L377.6,169.3L375.6,171.0Z"/>
<path fill="#0f57bf" fill-rule="evenodd" d="M375.6,170.6L374.6,171.0L372.6,171.0L371.6,170.6L370.1,169.3L367.9,164.3L366.6,162.0L363.6,158.4L356.6,151.1L356.6,125.8L357.6,124.2L359.3,122.3L362.6,119.9L366.6,118.1L370.6,117.3L374.6,117.2L377.6,117.5L380.6,118.1L383.6,119.3L386.6,121.2L388.6,123.0L390.3,125.3L391.6,128.0L391.6,149.8L381.2,161.3L379.6,163.7L377.1,169.3Z"/>
<path fill="#1061c4" fill-rule="evenodd" d="M374.6,170.6L372.6,170.6L370.6,169.3L368.7,164.3L367.6,162.3L365.3,159.3L358.6,152.3L356.6,149.8L356.7,138.3L357.4,135.3L358.8,132.3L361.6,128.7L364.6,126.6L367.6,125.3L371.6,124.6L376.6,124.7L380.6,125.7L383.6,127.2L386.6,129.8L388.6,132.6L390.1,136.3L390.6,139.0L391.3,147.3L390.9,149.3L390.3,150.3L381.9,159.3L379.6,162.3L378.5,164.3L376.6,169.3Z"/>
<path fill="#116bc9" fill-rule="evenodd" d="M375.6,169.6L373.6,170.3L372.6,170.1L371.2,169.3L369.5,164.3L368.5,162.3L366.2,159.3L358.6,151.3L357.3,149.3L357.0,148.3L357.9,143.3L359.1,139.3L359.9,137.3L361.2,135.3L363.1,133.3L365.6,131.7L367.6,130.9L370.6,130.2L374.6,130.1L378.6,130.6L381.6,131.7L384.6,133.7L386.6,136.1L387.8,138.3L389.3,143.3L390.2,147.3L389.9,149.3L389.3,150.3L381.0,159.3L378.7,162.3L377.7,164.3L376.5,168.3L376.0,169.3Z"/>
<path fill="#1275ce" fill-rule="evenodd" d="M374.6,169.6L373.6,169.8L371.9,169.3L370.2,163.3L367.1,159.3L359.5,151.3L358.2,149.3L358.0,148.3L358.2,147.3L359.6,143.3L361.9,139.3L363.5,137.3L365.6,135.8L367.6,134.8L371.6,134.0L374.6,133.9L377.6,134.3L380.6,135.2L382.6,136.4L384.6,138.3L387.1,142.3L388.0,144.3L389.2,148.3L389.0,149.3L387.7,151.3L380.1,159.3L377.7,162.3L376.7,164.3L375.6,168.7L375.3,169.3Z"/>
<path fill="#137fd3" fill-rule="evenodd" d="M374.6,168.3L373.6,169.2L372.6,168.3L372.3,164.3L371.8,163.3L361.2,152.3L359.7,150.3L359.2,149.3L359.0,148.3L359.3,147.3L361.4,143.3L364.6,139.9L367.6,138.0L371.6,137.1L374.6,137.0L377.6,137.4L379.6,138.0L381.6,139.1L385.6,143.1L387.6,146.6L388.2,148.3L388.0,149.3L387.5,150.3L386.0,152.3L375.4,163.3L374.9,164.3Z"/>
<path fill="#1489d7" fill-rule="evenodd" d="M374.6,161.6L372.6,161.6L370.6,160.5L364.7,155.3L361.2,151.3L360.1,149.3L360.0,148.3L360.4,147.3L363.6,143.2L367.6,140.7L370.6,139.8L373.6,139.5L376.6,139.8L380.6,141.2L382.6,142.4L384.6,144.2L386.6,146.9L387.2,148.3L387.1,149.3L386.7,150.3L382.5,155.3L376.6,160.5Z"/>
<path fill="#1294dc" fill-rule="evenodd" d="M375.6,159.7L374.6,160.1L372.6,160.1L369.6,158.5L365.6,155.3L361.4,150.3L361.0,149.3L361.0,148.3L361.5,147.3L364.4,144.3L365.6,143.5L367.6,142.5L370.6,141.7L374.6,141.6L377.6,141.9L381.6,143.5L382.8,144.3L385.7,147.3L386.2,148.3L386.2,149.3L385.1,151.3L380.6,156.2Z"/>
<path fill="#10a0e0" fill-rule="evenodd" d="M375.6,158.5L373.6,158.8L371.6,158.5L369.6,157.6L366.6,155.3L363.7,152.3L362.3,150.3L361.9,149.3L362.0,148.3L362.7,147.3L364.6,145.7L367.6,144.0L369.6,143.4L372.6,143.0L375.6,143.1L378.6,143.6L380.6,144.4L383.6,146.4L385.2,148.3L385.3,149.3L384.3,151.3L379.6,156.2L377.6,157.6Z"/>
<path fill="#0dabe5" fill-rule="evenodd" d="M375.6,157.5L373.6,157.7L371.6,157.5L368.6,156.0L366.6,154.3L363.8,151.3L362.8,149.3L363.1,148.3L364.6,146.8L366.6,145.7L369.6,144.6L371.6,144.3L374.6,144.2L377.6,144.6L380.6,145.7L382.6,146.8L384.1,148.3L384.4,149.3L383.4,151.3L379.6,155.3L377.6,156.7Z"/>
<path fill="#0bb7e9" fill-rule="evenodd" d="M375.6,156.5L373.6,156.8L371.6,156.5L368.6,155.1L364.6,151.1L363.8,149.3L364.2,148.3L366.6,146.6L368.6,145.9L371.6,145.4L374.6,145.4L377.6,145.7L379.6,146.2L381.9,147.3L383.0,148.3L383.4,149.3L382.5,151.3L378.6,155.1Z"/>
<path fill="#09c0ec" fill-rule="evenodd" d="M375.6,155.6L373.6,155.8L371.6,155.6L368.6,154.0L366.6,152.3L365.1,150.3L364.9,149.3L365.4,148.3L367.0,147.3L368.6,146.7L373.6,146.2L378.6,146.7L381.6,148.1L382.3,149.3L382.1,150.3L381.5,151.3L378.6,154.0Z"/>
<path fill="#07c7ed" fill-rule="evenodd" d="M375.6,154.5L372.6,154.7L369.6,153.6L366.8,151.3L366.2,150.3L366.0,149.3L366.8,148.3L367.6,147.9L369.6,147.2L371.6,146.9L376.6,147.0L378.6,147.5L380.4,148.3L381.2,149.3L381.0,150.3L380.4,151.3L377.6,153.6Z"/>
<path fill="#06cbed" fill-rule="evenodd" d="M374.6,153.5L371.6,153.3L369.6,152.4L367.6,150.5L367.4,149.3L368.6,148.3L369.6,148.0L373.6,147.6L377.6,148.0L378.6,148.3L379.8,149.3L379.7,150.3L378.6,151.7L376.6,152.9Z"/>
<path fill="#04d3ee" fill-rule="evenodd" d="M374.6,153.4L371.6,153.2L369.6,152.3L367.6,150.4L367.5,149.3L368.6,148.4L369.6,148.1L373.6,147.6L377.6,148.1L378.6,148.4L379.7,149.3L379.7,150.3L378.6,151.6L376.6,152.8Z"/>
</g></g>
<rect x="360.0" y="113.6" width="28.3" height="84.2" fill="none" stroke="#00103a" stroke-opacity="0.4" stroke-width="0.7"/>
<rect x="359.3" y="139.7" width="4" height="1.2" fill="#fff"/>
<rect x="359.3" y="168.3" width="4" height="1.2" fill="#fff"/>
<g clip-path="url(#c23)"><g filter="url(#bl)">
<rect x="399.4" y="110.3" width="35.0" height="91.7" fill="#050a96"/>
<path fill="#06119a" fill-rule="evenodd" d="M420.4,171.7L418.4,172.0L414.4,172.0L410.4,171.1L406.4,169.0L399.4,163.8L399.2,139.3L399.4,110.1L434.5,110.3L434.4,163.3L425.4,169.7ZM418.4,201.3L413.4,201.3L413.4,197.3L412.6,191.3L412.5,176.3L412.1,174.3L412.4,173.3L414.4,172.6L417.4,172.5L419.4,172.8L420.3,173.3L420.6,174.3L420.2,176.3L420.0,192.3L419.3,197.3L419.3,201.3Z"/>
<path fill="#081ba0" fill-rule="evenodd" d="M420.4,170.5L418.4,170.9L415.4,171.0L413.4,170.8L410.4,169.7L407.0,167.3L402.9,163.3L399.4,161.1L399.2,139.3L399.4,110.1L434.5,110.3L434.4,160.7L430.4,162.9L423.4,169.1ZM417.4,201.3L414.7,201.3L414.6,197.3L414.0,194.3L413.6,190.3L414.0,174.3L415.4,173.6L416.4,173.5L417.4,173.6L418.7,174.3L418.9,178.3L419.0,191.3L418.1,197.3L418.0,201.3Z"/>
<path fill="#0a25a5" fill-rule="evenodd" d="M417.4,170.4L413.4,170.1L411.0,169.3L408.5,167.3L403.7,162.3L399.4,159.6L399.4,110.1L434.5,110.3L434.4,159.2L432.0,160.3L429.4,162.0L424.2,167.3L421.7,169.3L420.4,169.9ZM416.4,201.3L415.9,201.3L415.9,198.3L414.8,195.3L414.1,190.3L414.7,177.3L415.4,174.8L416.4,174.3L417.4,174.8L418.0,177.3L418.6,190.3L417.9,195.3L416.8,198.3L416.8,201.3Z"/>
<path fill="#0b2faa" fill-rule="evenodd" d="M420.4,169.4L418.4,169.9L416.4,170.0L414.4,169.9L412.2,169.3L409.6,167.3L406.2,163.3L404.4,161.5L402.4,160.0L399.4,158.4L399.4,110.2L434.5,110.3L434.4,158.0L431.4,159.4L428.4,161.5L426.5,163.3L423.1,167.3ZM416.4,196.4L415.3,195.3L414.5,190.3L415.4,178.7L416.4,176.7L417.4,178.7L418.2,190.3L417.4,195.3Z"/>
<path fill="#0c39b0" fill-rule="evenodd" d="M418.4,169.5L414.4,169.5L412.4,168.7L410.5,167.3L407.4,163.2L405.4,161.1L402.4,158.9L399.4,157.3L399.4,110.2L434.5,110.3L434.4,156.9L431.4,158.3L428.3,160.3L426.1,162.3L422.2,167.3L420.4,168.7ZM416.4,194.9L415.4,193.6L414.9,190.3L415.4,185.8L416.4,181.8L417.4,185.8L417.8,190.3L417.4,193.6Z"/>
<path fill="#0d43b5" fill-rule="evenodd" d="M419.4,168.7L416.4,169.3L414.4,169.0L412.7,168.3L411.4,167.1L408.4,163.0L406.4,160.8L403.4,158.5L399.4,156.3L399.4,110.2L434.5,110.3L434.4,155.8L430.4,157.8L426.9,160.3L424.9,162.3L421.2,167.3ZM416.4,193.4L415.4,191.5L415.3,190.3L415.4,188.8L416.4,186.6L417.4,188.8L417.4,190.3L417.4,191.5Z"/>
<path fill="#0e4dba" fill-rule="evenodd" d="M418.4,168.4L415.4,168.7L413.4,167.9L411.6,166.3L409.0,162.3L407.1,160.3L403.4,157.4L399.4,155.3L399.4,110.2L434.5,110.3L434.4,154.8L430.4,156.8L426.4,159.6L423.7,162.3L420.4,167.2ZM416.4,191.7L416.0,190.3L416.4,188.8L416.7,190.3Z"/>
<path fill="#0f57bf" fill-rule="evenodd" d="M418.4,167.6L416.4,168.0L415.4,167.9L413.8,167.3L412.8,166.3L410.2,162.3L407.4,159.3L403.4,156.4L399.4,154.3L399.4,110.2L434.4,110.3L434.4,153.9L429.4,156.4L425.3,159.3L422.5,162.3L419.9,166.3Z"/>
<path fill="#1061c4" fill-rule="evenodd" d="M418.4,166.3L416.4,166.9L414.4,166.3L411.7,162.3L408.8,159.3L404.4,156.0L399.4,153.4L399.4,110.2L434.4,110.3L434.4,153.0L429.4,155.4L424.4,158.9L421.0,162.3Z"/>
<path fill="#116bc9" fill-rule="evenodd" d="M417.4,163.6L416.4,163.9L415.4,163.6L410.5,159.3L407.4,156.9L403.2,154.3L399.4,152.5L399.4,110.2L434.4,110.3L434.4,152.1L429.5,154.3L426.2,156.3L422.2,159.3Z"/>
<path fill="#1275ce" fill-rule="evenodd" d="M417.4,160.4L415.4,160.4L413.4,159.6L405.0,154.3L399.4,151.7L399.4,110.2L434.4,110.3L434.4,151.3L427.7,154.3L419.4,159.6Z"/>
<path fill="#137fd3" fill-rule="evenodd" d="M420.4,157.3L417.4,158.3L414.4,158.1L411.4,156.8L405.0,153.3L399.4,150.8L399.4,110.2L434.4,110.3L434.4,150.4L427.7,153.3Z"/>
<path fill="#1489d7" fill-rule="evenodd" d="M418.4,156.3L415.4,156.5L412.4,155.8L399.4,150.0L399.4,110.3L434.4,110.3L434.4,149.5L421.4,155.4Z"/>
<path fill="#1294dc" fill-rule="evenodd" d="M419.4,154.6L415.4,154.8L412.4,154.3L408.4,152.9L399.4,149.1L399.4,110.3L434.4,110.3L434.4,148.6L424.4,152.9Z"/>
<path fill="#10a0e0" fill-rule="evenodd" d="M418.4,153.4L414.4,153.4L411.4,152.9L406.4,151.2L399.4,148.1L399.4,110.3L434.4,110.3L434.4,147.6L424.4,151.9L421.4,152.9Z"/>
<path fill="#0dabe5" fill-rule="evenodd" d="M418.4,152.3L414.4,152.3L410.4,151.6L405.4,149.9L399.4,147.1L399.4,110.3L434.4,110.3L434.4,146.6L425.4,150.6L421.4,151.8Z"/>
<path fill="#0bb7e9" fill-rule="evenodd" d="M417.4,151.3L413.4,151.2L409.4,150.4L404.4,148.4L399.4,145.9L399.4,117.2L407.4,115.7L417.4,115.2L426.4,115.8L434.4,117.5L434.4,145.4L428.6,148.3L424.4,150.0L420.4,151.0Z"/>
<path fill="#09c0ec" fill-rule="evenodd" d="M417.4,150.3L413.4,150.2L409.3,149.3L406.4,148.2L399.4,144.6L399.4,127.9L403.4,126.5L407.4,125.6L412.4,125.1L417.4,125.0L422.4,125.2L427.4,126.0L431.4,127.1L434.4,128.4L434.4,144.1L424.4,149.0L421.4,149.8Z"/>
<path fill="#07c7ed" fill-rule="evenodd" d="M422.4,148.4L417.4,149.2L412.4,148.9L409.8,148.3L407.4,147.3L401.4,144.3L399.4,142.9L399.4,135.3L402.4,133.4L406.4,132.0L411.4,131.1L416.4,130.9L421.4,131.1L426.4,132.0L430.4,133.4L433.4,135.3L434.4,136.2L434.4,141.6L434.0,142.3L432.9,143.3L429.5,145.3Z"/>
<path fill="#06cbed" fill-rule="evenodd" d="M420.4,147.5L415.4,147.8L410.4,147.0L404.3,144.3L402.8,143.3L401.9,142.3L402.0,141.3L402.8,139.3L403.6,138.3L405.0,137.3L407.5,136.3L411.4,135.5L417.4,135.2L422.4,135.6L426.4,136.7L429.1,138.3L429.9,139.3L430.7,141.3L430.8,142.3L429.9,143.3L425.4,145.8Z"/>
<path fill="#04d3ee" fill-rule="evenodd" d="M420.4,147.4L415.4,147.7L410.4,146.8L406.4,145.3L403.0,143.3L402.2,142.3L402.3,141.3L403.4,139.1L405.4,137.5L408.4,136.3L411.4,135.8L416.4,135.5L421.4,135.8L425.4,136.6L428.6,138.3L429.5,139.3L430.4,141.3L430.5,142.3L429.7,143.3L425.4,145.7Z"/>
</g></g>
<rect x="402.7" y="113.6" width="28.3" height="84.2" fill="none" stroke="#00103a" stroke-opacity="0.4" stroke-width="0.7"/>
<rect x="402.1" y="139.7" width="4" height="1.2" fill="#fff"/>
<rect x="402.1" y="168.3" width="4" height="1.2" fill="#fff"/>
<g clip-path="url(#c24)"><g filter="url(#bl)">
<rect x="271.1" y="208.4" width="35.0" height="91.7" fill="#050a91"/>
<path fill="#06119a" fill-rule="evenodd" d="M294.1,299.4L281.5,299.4L281.5,297.4L280.7,293.4L280.6,290.4L281.5,271.4L281.1,268.4L280.1,266.1L278.1,263.2L271.1,255.2L271.1,208.4L306.1,208.4L306.1,254.2L298.1,263.2L296.1,266.1L295.1,268.4L294.7,271.4L295.6,291.4L295.3,294.4L294.7,297.4L294.7,299.4Z"/>
<path fill="#081ba0" fill-rule="evenodd" d="M292.1,299.4L283.3,299.4L283.3,297.4L282.3,294.4L281.9,290.4L282.4,272.4L282.1,269.0L281.1,266.2L279.1,262.9L271.1,252.8L271.1,208.4L306.1,208.4L306.1,251.6L301.1,257.6L297.1,262.9L295.1,266.2L294.1,269.0L293.8,271.4L294.4,286.4L294.3,291.4L293.9,294.4L292.9,297.4L292.9,299.4Z"/>
<path fill="#0a25a5" fill-rule="evenodd" d="M291.1,299.4L284.6,299.4L284.6,297.4L283.2,294.4L282.6,291.4L282.4,285.4L282.9,271.4L282.1,267.5L281.1,265.2L278.1,260.5L271.1,251.3L271.1,208.4L306.1,208.4L306.1,250.0L298.1,260.5L295.1,265.2L294.1,267.5L293.3,271.4L293.8,285.4L293.6,291.4L293.0,294.4L291.6,297.4L291.6,299.4Z"/>
<path fill="#0b2faa" fill-rule="evenodd" d="M290.1,299.4L285.8,299.4L285.8,297.4L284.3,295.4L283.5,293.4L282.9,286.4L283.3,271.4L283.1,269.9L282.1,266.7L279.1,261.2L271.1,250.0L271.1,214.1L272.1,212.4L272.1,211.4L271.4,208.4L304.8,208.4L304.1,211.4L304.1,212.4L304.6,213.4L306.1,215.3L306.1,248.7L298.1,259.7L295.1,264.5L294.1,266.7L293.1,269.9L292.9,271.4L293.3,286.4L292.9,292.4L292.4,294.4L290.4,297.4L290.4,299.4Z"/>
<path fill="#0c39b0" fill-rule="evenodd" d="M289.1,297.0L288.1,297.3L287.1,297.0L285.0,295.4L284.0,293.4L283.6,291.4L283.3,287.4L283.5,272.4L283.1,269.1L282.1,266.0L280.1,262.2L271.1,249.0L271.0,244.4L271.1,219.2L274.1,217.1L279.1,214.6L284.1,212.9L288.1,212.5L292.1,212.9L297.1,214.6L302.1,217.1L306.1,220.1L306.1,247.5L298.1,259.0L294.1,266.0L293.1,269.1L292.7,271.4L292.9,286.4L292.6,291.4L291.8,294.4L291.1,295.5Z"/>
<path fill="#0d43b5" fill-rule="evenodd" d="M290.1,295.7L289.1,296.1L287.1,296.1L285.8,295.4L284.5,293.4L283.8,290.4L283.6,287.4L283.8,272.4L283.6,270.4L283.1,268.4L282.1,265.5L280.1,261.7L271.1,248.0L271.1,222.6L274.1,220.3L277.1,218.8L281.1,217.5L286.1,216.8L292.1,217.0L297.1,218.0L302.1,220.3L304.1,221.7L306.1,223.7L306.1,246.5L296.1,261.7L294.1,265.5L293.1,268.4L292.5,271.4L292.7,285.4L292.5,289.4L291.7,293.4L291.1,294.7Z"/>
<path fill="#0e4dba" fill-rule="evenodd" d="M289.1,295.6L287.1,295.6L286.1,295.1L285.1,293.8L284.5,292.4L283.8,286.4L284.0,271.4L283.0,267.4L282.1,265.1L280.1,261.2L271.1,247.1L271.1,225.7L274.1,222.8L277.1,221.1L282.1,219.6L287.1,219.0L293.1,219.4L298.1,220.7L302.1,222.8L306.1,226.7L306.1,245.5L296.1,261.2L294.1,265.1L293.1,267.8L292.2,271.4L292.4,285.4L292.0,290.4L291.1,293.8L290.1,295.1Z"/>
<path fill="#0f57bf" fill-rule="evenodd" d="M290.1,294.5L289.1,295.1L287.1,295.1L286.0,294.4L285.1,292.9L284.5,290.4L284.2,287.4L284.2,271.4L283.1,267.2L282.1,264.7L279.1,259.1L271.1,246.2L271.1,227.4L275.1,224.3L278.1,222.6L282.1,221.4L286.1,220.9L292.1,221.0L297.1,222.2L301.1,224.3L306.1,228.2L306.1,244.4L296.1,260.8L293.1,267.2L292.0,271.4L292.1,285.4L291.9,289.4L291.3,292.4Z"/>
<path fill="#1061c4" fill-rule="evenodd" d="M289.1,294.6L287.1,294.6L286.1,293.9L285.3,292.4L284.8,290.4L284.3,285.4L284.3,271.4L283.1,266.8L280.1,260.4L271.1,245.3L271.1,228.7L277.1,224.9L279.1,223.9L283.1,222.8L287.1,222.4L292.1,222.6L297.1,223.9L303.1,227.3L306.1,229.6L306.1,243.3L304.5,246.4L296.1,260.4L293.1,266.8L291.9,271.4L291.9,285.4L291.6,289.4L290.9,292.4L290.1,293.9Z"/>
<path fill="#116bc9" fill-rule="evenodd" d="M289.1,294.1L288.1,294.3L287.1,294.1L286.3,293.4L285.7,292.4L285.0,290.4L284.5,285.4L284.4,271.4L283.1,266.4L280.1,260.0L271.1,244.3L271.1,229.8L274.1,227.7L280.1,225.0L283.1,224.2L287.1,223.7L292.1,224.0L296.1,225.0L303.1,228.3L304.6,229.4L306.1,231.0L306.0,242.4L304.6,245.4L295.1,261.9L293.1,266.4L291.9,270.4L291.5,288.4L290.5,292.4L290.1,293.2Z"/>
<path fill="#1275ce" fill-rule="evenodd" d="M289.1,293.6L288.1,293.8L286.9,293.4L286.0,292.4L285.1,289.4L284.7,285.4L284.6,271.4L283.1,266.1L280.1,259.7L272.6,246.4L271.1,243.3L271.1,231.0L274.1,228.6L278.1,226.8L282.1,225.6L287.1,225.0L293.1,225.4L299.1,227.2L302.1,228.6L304.1,230.0L305.4,231.4L306.1,232.8L306.1,240.5L305.5,242.4L303.6,246.4L295.1,261.6L293.1,266.1L291.8,270.4L291.5,274.4L291.4,287.4L290.6,291.4L290.1,292.5Z"/>
<path fill="#137fd3" fill-rule="evenodd" d="M289.1,293.0L288.1,293.3L287.1,293.0L286.1,291.8L285.4,289.4L284.9,285.4L284.7,271.4L283.1,265.8L280.1,259.3L272.4,245.4L271.1,242.1L271.1,232.5L272.1,231.0L275.1,228.8L278.1,227.6L282.1,226.6L287.1,226.0L291.1,226.1L295.1,226.7L298.1,227.6L301.1,228.8L303.1,230.1L304.4,231.4L305.5,233.4L306.1,235.8L305.9,239.4L304.6,243.4L303.3,246.4L297.1,257.4L294.1,263.4L291.7,270.4L291.3,274.4L291.2,287.4L290.3,291.4Z"/>
<path fill="#1489d7" fill-rule="evenodd" d="M289.1,292.4L288.1,292.8L287.1,292.4L286.1,291.0L285.6,289.4L285.1,285.4L284.8,271.4L283.1,265.5L280.1,259.0L272.8,245.4L271.1,240.5L271.1,234.3L272.0,232.4L273.1,231.0L275.4,229.4L279.1,227.9L283.1,227.1L286.1,226.8L293.1,227.1L297.1,227.9L300.1,229.0L302.4,230.4L304.1,232.2L305.1,234.4L305.6,236.4L305.4,239.4L303.8,244.4L294.1,263.1L291.6,270.4L291.2,274.4L290.9,287.4L290.1,291.0Z"/>
<path fill="#1294dc" fill-rule="evenodd" d="M289.1,291.8L288.1,292.2L287.1,291.8L286.1,290.2L285.6,288.4L285.3,285.4L285.0,271.4L283.1,265.2L280.1,258.6L273.2,245.4L271.8,241.4L271.2,238.4L271.2,236.4L271.7,234.4L272.8,232.4L274.1,231.0L276.1,229.7L278.1,228.8L281.1,228.0L285.1,227.5L289.1,227.4L293.1,227.7L297.1,228.5L300.1,229.7L302.1,231.0L303.4,232.4L304.5,234.4L305.1,237.4L304.7,240.4L303.5,244.4L294.1,262.8L291.5,270.4L291.0,274.4L290.8,286.4L290.1,290.2Z"/>
<path fill="#10a0e0" fill-rule="evenodd" d="M288.1,291.6L287.1,291.2L286.6,290.4L285.7,287.4L285.3,274.4L284.8,270.4L282.1,262.5L273.5,245.4L272.4,242.4L271.6,238.4L272.0,235.4L272.9,233.4L274.1,231.8L276.0,230.4L278.1,229.4L281.1,228.5L284.1,228.1L288.1,227.9L292.1,228.1L295.1,228.5L298.1,229.4L300.2,230.4L302.1,231.8L303.3,233.4L304.2,235.4L304.6,238.4L303.8,242.4L302.7,245.4L294.1,262.5L291.4,270.4L290.9,274.4L290.5,287.4L289.6,290.4L289.1,291.2Z"/>
<path fill="#0dabe5" fill-rule="evenodd" d="M289.1,290.5L288.1,291.0L287.1,290.5L286.1,288.4L285.6,285.4L285.2,271.4L283.1,264.7L280.1,257.9L273.8,245.4L272.5,241.4L272.1,238.4L272.3,236.4L273.0,234.4L274.1,232.7L275.4,231.4L277.1,230.4L280.1,229.3L286.1,228.4L293.1,228.7L296.1,229.3L299.1,230.4L301.1,231.7L302.6,233.4L303.6,235.4L304.0,237.4L303.8,240.4L302.8,244.4L294.1,262.3L291.2,270.4L290.7,275.4L290.5,286.4L290.1,288.4Z"/>
<path fill="#0bb7e9" fill-rule="evenodd" d="M288.1,290.4L287.1,289.9L286.4,288.4L285.9,286.4L285.6,275.4L285.1,270.4L282.1,262.0L274.1,245.4L272.9,241.4L272.6,238.4L272.8,236.4L273.6,234.4L275.1,232.4L276.4,231.4L278.3,230.4L281.1,229.5L284.1,229.0L288.1,228.8L292.1,229.0L295.1,229.5L297.9,230.4L299.8,231.4L301.1,232.4L302.6,234.4L303.4,236.4L303.6,238.4L303.3,241.4L302.1,245.4L294.1,262.0L291.1,270.4L290.6,275.4L290.3,286.4L289.8,288.4L289.1,289.9Z"/>
<path fill="#09c0ec" fill-rule="evenodd" d="M288.1,289.8L287.1,289.2L286.1,286.1L285.7,275.4L285.2,270.4L282.1,261.8L274.4,245.4L273.5,242.4L273.0,238.4L273.3,236.4L274.3,234.4L275.9,232.4L277.3,231.4L279.1,230.6L282.1,229.7L288.1,229.2L294.1,229.7L297.1,230.6L298.9,231.4L300.3,232.4L301.9,234.4L302.9,236.4L303.2,238.4L302.7,242.4L301.8,245.4L294.1,261.8L291.0,270.4L290.5,275.4L290.1,286.1L289.1,289.2Z"/>
<path fill="#07c7ed" fill-rule="evenodd" d="M289.1,288.5L288.1,289.2L287.1,288.5L286.7,287.4L286.1,284.4L285.8,275.4L285.2,270.4L282.1,261.5L274.7,245.4L273.8,242.4L273.4,239.4L273.5,237.4L274.2,235.4L275.1,234.1L276.7,232.4L278.3,231.4L281.0,230.4L286.1,229.6L293.1,229.9L296.1,230.7L298.1,231.5L300.1,233.0L301.3,234.4L302.4,236.4L302.8,238.4L302.6,241.4L301.5,245.4L294.1,261.5L291.0,270.4L290.4,275.4L290.0,285.4Z"/>
<path fill="#06cbed" fill-rule="evenodd" d="M288.1,288.5L287.1,287.8L286.5,285.4L286.0,275.4L285.3,270.4L282.1,261.3L275.0,245.4L274.1,242.4L273.8,239.4L274.0,237.4L274.8,235.4L276.1,233.7L277.6,232.4L279.4,231.4L282.1,230.5L288.1,230.0L294.1,230.5L296.8,231.4L298.6,232.4L300.1,233.7L301.4,235.4L302.2,237.4L302.4,239.4L302.1,242.4L301.2,245.4L294.1,261.3L290.9,270.4L290.2,275.4L289.7,285.4L289.1,287.8Z"/>
<path fill="#04d3ee" fill-rule="evenodd" d="M288.1,288.5L287.1,287.7L286.5,285.4L286.0,275.4L285.3,270.4L282.1,261.2L275.0,245.4L274.2,242.4L273.8,239.4L274.0,237.4L274.8,235.4L276.1,233.7L277.6,232.4L279.4,231.4L282.1,230.6L288.1,230.0L294.1,230.6L296.8,231.4L298.6,232.4L300.1,233.7L301.4,235.4L302.2,237.4L302.4,239.4L302.0,242.4L301.2,245.4L294.1,261.2L290.9,270.4L290.2,275.4L289.7,285.4L289.1,287.7Z"/>
<path fill="#04e1ed" fill-rule="evenodd" d="M288.1,286.9L287.0,285.4L286.3,275.4L285.5,270.4L284.6,268.4L284.2,266.4L282.1,260.7L275.5,245.4L274.8,242.4L274.6,239.4L274.9,237.4L275.9,235.4L277.1,234.1L279.1,232.6L283.1,231.2L288.1,230.8L293.1,231.2L297.1,232.6L299.1,234.1L300.3,235.4L301.3,237.4L301.6,239.4L301.4,242.4L300.7,245.4L294.1,260.7L292.0,266.4L291.6,268.4L290.7,270.4L289.9,275.4L289.2,285.4Z"/>
<path fill="#1ee5dc" fill-rule="evenodd" d="M288.1,284.5L287.1,280.4L286.0,271.4L284.7,268.4L284.3,266.4L282.2,260.4L276.4,246.4L275.5,243.4L275.3,240.4L275.5,238.4L276.3,236.4L277.1,235.4L279.1,233.7L281.1,232.6L283.1,232.0L288.1,231.5L293.1,232.0L295.1,232.6L297.1,233.7L299.1,235.4L299.9,236.4L300.7,238.4L300.9,240.4L300.7,243.4L299.8,246.4L294.0,260.4L291.9,266.4L291.5,268.4L290.2,271.4L289.1,280.4Z"/>
<path fill="#38eacb" fill-rule="evenodd" d="M288.1,279.0L287.1,276.1L286.3,271.4L284.9,268.4L283.5,263.4L276.8,246.4L276.1,243.4L276.0,241.4L276.1,239.4L276.7,237.4L278.1,235.5L279.1,234.7L282.1,233.2L285.1,232.5L288.1,232.3L291.1,232.5L294.1,233.2L297.1,234.7L298.1,235.5L299.5,237.4L300.1,239.4L300.2,241.4L300.1,243.4L299.4,246.4L292.7,263.4L291.3,268.4L289.9,271.4L289.1,276.1Z"/>
<path fill="#55edaf" fill-rule="evenodd" d="M288.1,275.3L287.1,273.7L286.6,271.4L285.0,268.4L284.6,266.4L282.7,260.4L277.4,246.4L276.7,242.4L277.3,238.4L279.1,236.0L281.1,234.7L283.1,233.9L288.1,233.3L293.1,233.9L295.1,234.7L297.1,236.0L298.9,238.4L299.5,242.4L298.8,246.4L293.5,260.4L291.6,266.4L291.2,268.4L289.6,271.4L289.1,273.7Z"/>
<path fill="#73ef91" fill-rule="evenodd" d="M288.1,273.2L287.1,272.0L285.2,268.4L283.9,263.4L278.1,246.4L277.6,242.4L278.1,239.3L279.1,237.5L280.1,236.6L283.1,235.0L285.1,234.5L288.1,234.3L291.1,234.5L293.1,235.0L296.1,236.6L297.1,237.5L298.1,239.3L298.6,242.4L298.1,246.4L292.3,263.4L291.0,268.4L289.1,272.0Z"/>
<path fill="#8aef74" fill-rule="evenodd" d="M288.1,271.8L287.1,271.1L286.1,269.9L285.3,268.4L283.8,262.4L279.0,247.4L278.4,243.4L279.1,239.7L279.8,238.4L280.8,237.4L282.1,236.5L284.1,235.8L288.1,235.3L292.1,235.8L294.1,236.5L295.4,237.4L296.4,238.4L297.1,239.7L297.8,243.4L297.2,247.4L292.4,262.4L290.9,268.4L290.1,269.9L289.1,271.1Z"/>
<path fill="#9def58" fill-rule="evenodd" d="M289.1,270.6L288.1,271.1L287.1,270.6L286.1,269.6L285.5,268.4L284.3,263.4L279.6,247.4L279.1,244.4L279.6,241.4L281.1,238.6L283.1,237.2L285.1,236.6L287.1,236.3L291.1,236.6L294.1,237.8L295.1,238.6L296.1,240.1L297.0,243.4L297.0,245.4L296.6,247.4L291.9,263.4L290.7,268.4L290.1,269.6Z"/>
<path fill="#b1ee3d" fill-rule="evenodd" d="M288.1,270.6L287.1,270.2L286.2,269.4L285.7,268.4L284.6,263.4L280.5,248.4L279.9,244.4L280.6,241.4L282.1,239.3L283.3,238.4L285.1,237.7L288.1,237.3L291.1,237.7L292.9,238.4L294.1,239.3L295.6,241.4L296.3,244.4L295.7,248.4L291.6,263.4L290.5,268.4L290.0,269.4L289.1,270.2Z"/>
<path fill="#caed2d" fill-rule="evenodd" d="M289.1,270.0L288.1,270.3L287.1,270.0L285.8,268.4L280.7,246.4L280.9,243.4L282.1,241.0L284.1,239.3L287.1,238.5L290.1,238.6L292.3,239.4L294.3,241.4L295.1,242.9L295.5,244.4L295.1,248.4L290.4,268.4Z"/>
<path fill="#e3ec1c" fill-rule="evenodd" d="M289.1,269.8L288.1,270.0L287.1,269.8L286.0,268.4L281.5,246.4L282.0,243.4L283.1,241.6L285.1,240.2L287.1,239.7L290.1,239.9L292.1,240.8L293.1,241.6L294.1,243.1L294.7,245.4L294.2,249.4L290.2,268.4Z"/>
<path fill="#f1de13" fill-rule="evenodd" d="M289.1,269.6L288.1,269.8L287.1,269.6L286.2,268.4L283.0,251.4L282.3,246.4L282.7,244.4L284.1,242.3L286.1,241.3L288.1,241.0L290.1,241.3L292.1,242.3L293.5,244.4L293.9,246.4L293.2,251.4L290.0,268.4Z"/>
<path fill="#f4c310" fill-rule="evenodd" d="M288.1,269.6L287.1,269.3L286.4,268.4L285.1,261.2L283.3,247.4L283.5,245.4L284.1,244.2L285.1,243.2L286.1,242.7L288.1,242.4L290.1,242.7L291.1,243.2L292.1,244.2L292.7,245.4L292.9,247.4L291.1,261.2L289.8,268.4L289.1,269.3Z"/>
<path fill="#f7a80e" fill-rule="evenodd" d="M289.1,269.0L288.1,269.4L287.1,269.0L286.6,268.4L285.3,260.4L284.3,249.4L284.3,247.4L284.9,245.4L286.1,244.3L288.1,243.9L290.1,244.3L291.1,245.1L291.7,246.4L291.9,248.4L290.7,261.4L289.6,268.4Z"/>
<path fill="#f58d10" fill-rule="evenodd" d="M289.1,268.7L288.1,269.1L286.9,268.4L285.7,259.4L285.4,251.4L285.7,248.4L286.5,246.4L288.1,245.8L289.1,246.0L290.1,246.9L290.7,250.4L290.4,261.4L289.3,268.4Z"/>
<path fill="#f37311" fill-rule="evenodd" d="M289.1,268.4L288.1,268.8L287.1,268.4L286.2,261.4L286.3,258.4L287.0,252.4L288.1,250.9L289.1,252.0L290.0,259.4L289.9,262.4Z"/>
<path fill="#f15a12" fill-rule="evenodd" d="M288.1,268.5L287.8,268.4L287.1,266.5L286.8,262.4L287.1,259.1L288.1,257.9L289.1,259.1L289.4,262.4L289.1,266.5L288.4,268.4Z"/>
<path fill="#ee4213" fill-rule="evenodd" d="M288.1,267.0L287.7,263.4L288.1,261.7L288.5,263.4Z"/>
</g></g>
<rect x="274.5" y="211.8" width="28.3" height="84.6" fill="none" stroke="#00103a" stroke-opacity="0.4" stroke-width="0.7"/>
<rect x="273.8" y="238.7" width="4" height="1.2" fill="#fff"/>
<rect x="273.8" y="267.6" width="4" height="1.2" fill="#fff"/>
<g clip-path="url(#c25)"><g filter="url(#bl)">
<rect x="313.9" y="208.4" width="35.0" height="91.7" fill="#050a91"/>
<path fill="#06119a" fill-rule="evenodd" d="M336.9,299.4L324.3,299.4L324.3,297.4L323.5,293.4L323.3,290.4L324.3,271.4L323.9,268.5L322.9,266.2L320.9,263.3L313.9,255.3L313.9,208.4L348.9,208.4L348.9,254.3L340.9,263.3L338.9,266.2L337.9,268.5L337.4,271.4L338.3,291.4L338.1,294.4L337.4,297.4L337.4,299.4Z"/>
<path fill="#081ba0" fill-rule="evenodd" d="M334.9,299.4L326.1,299.4L326.1,297.4L325.1,294.4L324.6,290.4L325.2,272.4L324.9,269.1L323.9,266.4L321.9,263.1L313.9,253.0L313.9,208.4L348.9,208.4L348.9,251.8L339.9,263.1L337.9,266.4L336.9,269.1L336.5,271.4L337.1,286.4L337.0,291.4L336.6,294.4L335.6,297.4L335.6,299.4Z"/>
<path fill="#0a25a5" fill-rule="evenodd" d="M333.9,299.4L327.3,299.4L327.3,297.4L325.9,294.4L325.4,291.4L325.2,285.4L325.7,271.4L324.9,267.7L323.9,265.4L321.9,262.1L313.9,251.5L313.9,208.4L348.9,208.4L348.9,250.2L339.9,262.1L337.9,265.4L336.9,267.7L336.0,271.4L336.5,285.4L336.3,291.4L335.8,294.4L334.4,297.4L334.4,299.4Z"/>
<path fill="#0b2faa" fill-rule="evenodd" d="M332.9,299.4L328.5,299.4L328.5,297.4L327.1,295.4L326.2,293.4L325.6,286.4L326.0,271.4L325.9,270.0L324.9,266.9L321.9,261.4L313.9,250.3L313.9,214.1L314.8,212.4L314.9,211.4L314.1,208.4L347.6,208.4L346.8,211.4L346.9,212.4L347.4,213.4L348.9,215.3L348.9,248.9L341.9,258.4L338.9,263.0L336.9,266.9L335.9,270.0L335.7,274.4L336.1,286.4L335.8,291.4L335.1,294.4L333.2,297.4L333.2,299.4Z"/>
<path fill="#0c39b0" fill-rule="evenodd" d="M331.9,297.0L330.9,297.3L329.9,297.0L327.8,295.4L326.8,293.4L326.3,291.4L326.0,287.4L326.3,272.4L325.9,269.2L324.9,266.2L322.9,262.4L313.9,249.2L313.8,244.4L313.9,219.2L316.9,217.1L321.9,214.6L326.9,212.9L330.9,212.5L334.9,212.9L339.9,214.6L344.9,217.1L348.9,220.1L348.9,247.8L340.9,259.2L336.9,266.2L335.4,271.4L335.7,286.4L335.2,292.4L334.6,294.4L333.9,295.4Z"/>
<path fill="#0d43b5" fill-rule="evenodd" d="M332.9,295.7L331.9,296.1L329.9,296.1L328.5,295.4L327.2,293.4L326.6,290.4L326.3,287.4L326.5,272.4L326.4,270.4L325.9,268.6L324.9,265.7L322.9,261.9L313.9,248.3L313.9,222.6L316.9,220.3L319.9,218.8L323.9,217.5L328.9,216.8L334.9,217.0L339.9,218.0L344.9,220.3L346.9,221.7L348.9,223.7L348.9,246.8L338.9,261.9L336.9,265.7L335.9,268.6L335.2,271.4L335.4,285.4L335.2,289.4L334.5,293.4L333.9,294.7Z"/>
<path fill="#0e4dba" fill-rule="evenodd" d="M331.9,295.6L329.9,295.6L328.9,295.1L327.9,293.8L327.3,292.4L326.6,286.4L326.7,271.4L324.9,265.3L320.9,258.2L313.9,247.4L313.9,225.7L316.9,222.8L319.9,221.1L324.9,219.6L329.9,219.0L335.9,219.4L340.9,220.7L344.9,222.8L348.9,226.7L348.9,245.8L338.9,261.5L336.9,265.3L335.9,268.1L335.0,271.4L335.1,285.4L334.8,290.4L333.9,293.8L332.9,295.1Z"/>
<path fill="#0f57bf" fill-rule="evenodd" d="M332.9,294.5L331.9,295.1L329.9,295.1L328.8,294.4L327.9,292.9L327.2,290.4L326.9,287.4L327.0,274.4L326.8,270.4L324.9,264.9L323.9,262.9L313.9,246.5L313.9,227.4L317.9,224.3L320.9,222.6L324.9,221.4L328.9,220.9L334.9,221.0L339.9,222.2L343.9,224.3L348.9,228.2L348.9,244.7L338.9,261.1L336.9,264.9L335.9,267.5L334.8,271.4L334.8,285.4L334.6,289.4L334.0,292.4Z"/>
<path fill="#1061c4" fill-rule="evenodd" d="M331.9,294.6L329.9,294.6L328.9,293.9L328.0,292.4L327.5,290.4L327.0,285.4L327.0,271.4L325.9,267.1L322.9,260.7L313.9,245.6L313.9,228.7L319.9,224.9L321.9,223.9L325.9,222.8L329.9,222.4L334.9,222.6L339.9,223.9L345.9,227.3L348.9,229.6L348.9,243.6L347.5,246.4L338.9,260.7L335.9,267.1L334.7,271.4L334.7,285.4L334.4,289.4L333.7,292.4L332.9,293.9Z"/>
<path fill="#116bc9" fill-rule="evenodd" d="M331.9,294.1L330.9,294.3L329.9,294.1L329.0,293.4L328.4,292.4L327.8,290.4L327.2,285.4L327.2,271.4L325.9,266.7L322.9,260.3L313.9,244.7L313.9,229.8L316.9,227.7L322.9,225.0L325.9,224.2L329.9,223.7L334.9,224.0L338.9,225.0L345.9,228.3L347.4,229.4L348.9,231.0L348.8,242.4L346.5,247.4L337.9,262.2L335.9,266.7L334.7,270.4L334.2,288.4L333.3,292.4L332.9,293.2Z"/>
<path fill="#1275ce" fill-rule="evenodd" d="M331.9,293.6L330.9,293.8L329.7,293.4L328.8,292.4L328.1,290.4L327.4,285.4L327.3,271.4L325.9,266.4L322.9,260.0L315.6,247.4L313.9,243.6L313.9,231.0L316.9,228.6L320.9,226.8L324.9,225.6L329.9,225.0L335.9,225.4L341.9,227.2L344.9,228.6L346.9,230.0L348.1,231.4L348.9,232.8L348.9,240.6L348.0,243.4L346.6,246.4L337.9,261.9L335.9,266.4L334.6,270.4L334.2,274.4L334.1,287.4L333.3,291.4L332.9,292.5Z"/>
<path fill="#137fd3" fill-rule="evenodd" d="M331.9,293.0L330.9,293.3L329.9,293.0L328.9,291.8L328.1,289.4L327.6,285.4L327.4,271.4L325.9,266.1L322.9,259.7L315.5,246.4L313.9,242.4L313.9,232.5L314.9,231.0L317.9,228.8L320.9,227.6L324.9,226.6L329.9,226.0L333.9,226.1L337.9,226.7L340.9,227.6L343.9,228.8L345.9,230.1L347.2,231.4L348.3,233.4L348.9,236.3L348.6,239.4L347.2,244.4L337.9,261.6L335.9,266.1L334.5,270.4L334.1,274.4L333.9,287.4L333.0,291.4Z"/>
<path fill="#1489d7" fill-rule="evenodd" d="M331.9,292.4L330.9,292.8L329.9,292.4L328.9,291.0L328.4,289.4L327.8,285.4L327.6,271.4L325.9,265.8L322.9,259.3L315.3,245.4L313.9,240.7L313.9,234.4L314.7,232.4L315.9,231.0L318.2,229.4L321.9,227.9L325.9,227.1L328.9,226.8L335.9,227.1L339.9,227.9L342.9,229.0L345.1,230.4L346.9,232.2L347.9,234.4L348.3,236.4L347.9,240.4L346.4,245.4L337.9,261.3L335.9,265.8L334.3,270.4L333.9,274.4L333.7,287.4L332.9,291.0Z"/>
<path fill="#1294dc" fill-rule="evenodd" d="M331.9,291.8L330.9,292.2L329.9,291.8L328.9,290.2L328.4,288.4L328.0,285.4L327.7,271.4L325.9,265.5L322.9,259.0L315.7,245.4L314.7,242.4L314.0,238.4L314.0,236.4L314.5,234.4L315.5,232.4L316.9,231.0L318.9,229.7L320.9,228.8L323.9,228.0L327.9,227.5L331.9,227.4L335.9,227.7L339.9,228.5L342.9,229.7L344.9,231.0L346.2,232.4L347.2,234.4L347.8,237.4L347.3,241.4L346.0,245.4L336.9,263.1L334.2,270.4L333.8,274.4L333.6,286.4L332.9,290.2Z"/>
<path fill="#10a0e0" fill-rule="evenodd" d="M330.9,291.6L329.9,291.2L329.4,290.4L328.4,287.4L328.0,274.4L327.6,270.4L324.9,262.9L316.0,245.4L315.1,242.4L314.4,238.4L314.8,235.4L315.7,233.4L316.9,231.8L318.7,230.4L320.9,229.4L323.9,228.5L326.9,228.1L330.9,227.9L334.9,228.1L337.9,228.5L340.9,229.4L343.0,230.4L344.9,231.8L346.0,233.4L346.9,235.4L347.3,238.4L346.6,242.4L345.7,245.4L336.9,262.9L334.1,270.4L333.7,274.4L333.3,287.4L332.3,290.4L331.9,291.2Z"/>
<path fill="#0dabe5" fill-rule="evenodd" d="M331.9,290.5L330.9,291.0L329.9,290.5L328.8,288.4L328.4,285.4L328.2,275.4L327.7,270.4L324.9,262.7L316.3,245.4L315.4,242.4L315.0,239.4L315.0,237.4L315.4,235.4L316.4,233.4L318.2,231.4L319.9,230.4L322.9,229.3L328.9,228.4L335.9,228.7L338.9,229.3L341.9,230.4L343.9,231.7L345.3,233.4L346.3,235.4L346.8,238.4L346.3,242.4L345.4,245.4L336.9,262.7L334.0,270.4L333.5,274.4L333.2,286.4L332.9,288.4Z"/>
<path fill="#0bb7e9" fill-rule="evenodd" d="M330.9,290.4L329.9,289.9L329.2,288.4L328.7,286.4L328.3,274.4L327.8,270.4L324.9,262.4L316.6,245.4L315.8,242.4L315.3,238.4L315.6,236.4L316.4,234.4L317.9,232.4L319.1,231.4L321.0,230.4L323.9,229.5L326.9,229.0L330.9,228.8L334.9,229.0L337.9,229.5L340.7,230.4L342.6,231.4L343.9,232.4L345.3,234.4L346.1,236.4L346.4,238.4L345.9,242.4L345.1,245.4L336.9,262.4L333.9,270.4L333.4,274.4L333.0,286.4L332.5,288.4L331.9,289.9Z"/>
<path fill="#09c0ec" fill-rule="evenodd" d="M330.9,289.8L329.9,289.2L328.9,286.1L328.5,275.4L327.9,270.4L327.3,269.4L324.9,262.2L317.3,246.4L316.3,243.4L315.8,239.4L315.9,237.4L316.9,234.7L317.9,233.3L319.9,231.5L321.9,230.6L324.9,229.7L330.9,229.2L336.9,229.7L339.9,230.6L341.9,231.5L343.9,233.3L344.9,234.7L345.8,237.4L345.9,239.4L345.4,243.4L344.4,246.4L336.9,262.2L334.4,269.4L333.8,270.4L333.2,275.4L332.9,286.1L331.9,289.2Z"/>
<path fill="#07c7ed" fill-rule="evenodd" d="M331.9,288.5L330.9,289.2L329.9,288.5L329.4,287.4L328.9,284.4L328.6,275.4L328.0,270.4L327.4,269.4L324.9,262.0L317.6,246.4L316.6,243.4L316.2,240.4L316.2,238.4L316.9,235.9L317.9,234.1L319.5,232.4L321.1,231.4L323.7,230.4L328.9,229.6L335.9,229.9L338.9,230.7L340.9,231.5L342.9,233.0L344.1,234.4L345.1,236.4L345.5,238.4L345.3,242.4L344.5,245.4L336.9,262.0L334.3,269.4L333.7,270.4L333.1,275.4L332.7,285.4Z"/>
<path fill="#06cbed" fill-rule="evenodd" d="M330.9,288.5L329.9,287.8L329.2,285.4L328.7,274.4L328.1,270.4L327.5,269.4L324.9,261.7L317.4,245.4L316.7,242.4L316.5,239.4L316.8,237.4L317.6,235.4L318.9,233.7L320.3,232.4L322.1,231.4L324.9,230.5L330.9,230.0L336.9,230.5L339.6,231.4L341.4,232.4L342.9,233.7L344.1,235.4L344.9,237.4L345.2,239.4L345.0,242.4L344.3,245.4L336.9,261.7L334.2,269.4L333.6,270.4L333.0,274.4L332.5,285.4L331.9,287.8Z"/>
<path fill="#04d3ee" fill-rule="evenodd" d="M330.9,288.5L329.9,287.7L329.3,285.4L328.7,274.4L328.1,270.4L327.5,269.4L324.9,261.7L317.5,245.4L316.8,242.4L316.6,239.4L316.8,237.4L317.6,235.4L318.9,233.7L320.4,232.4L322.2,231.4L324.9,230.6L330.9,230.0L336.9,230.6L339.5,231.4L341.3,232.4L342.9,233.7L344.1,235.4L344.9,237.4L345.1,239.4L344.9,242.4L344.2,245.4L336.9,261.7L334.2,269.4L333.6,270.4L333.0,274.4L332.4,285.4L331.9,287.7Z"/>
<path fill="#04e1ed" fill-rule="evenodd" d="M330.9,286.9L329.8,285.4L328.5,271.4L327.2,268.4L324.9,261.4L318.3,246.4L317.5,243.4L317.3,240.4L317.5,238.4L318.2,236.4L319.6,234.4L320.9,233.3L322.9,232.1L324.9,231.4L327.9,230.9L330.9,230.8L333.9,230.9L336.9,231.4L338.9,232.1L340.9,233.3L342.1,234.4L343.5,236.4L344.2,238.4L344.4,240.4L344.2,243.4L343.4,246.4L336.8,261.4L334.5,268.4L333.2,271.4L331.9,285.4Z"/>
<path fill="#1ee5dc" fill-rule="evenodd" d="M330.9,284.5L329.9,280.4L328.8,271.4L327.4,268.4L325.1,261.4L318.8,246.4L318.3,244.4L318.0,241.4L318.1,239.4L318.6,237.4L319.9,235.4L320.9,234.4L322.9,233.1L324.9,232.3L327.9,231.7L330.9,231.5L333.9,231.7L336.9,232.3L338.9,233.1L340.8,234.4L341.9,235.4L343.1,237.4L343.6,239.4L343.7,241.4L343.4,244.4L342.9,246.4L336.6,261.4L334.3,268.4L332.9,271.4L331.9,280.4Z"/>
<path fill="#38eacb" fill-rule="evenodd" d="M330.9,279.0L329.9,276.1L329.0,271.4L327.5,268.4L325.3,261.4L319.6,247.4L318.8,244.4L318.6,242.4L318.7,240.4L319.1,238.4L319.9,236.8L321.1,235.4L322.9,234.1L324.9,233.2L327.9,232.5L330.9,232.3L333.9,232.5L336.9,233.2L338.9,234.1L340.6,235.4L341.9,236.8L342.6,238.4L343.0,240.4L343.1,242.4L342.9,244.4L342.1,247.4L336.4,261.4L334.2,268.4L332.7,271.4L331.9,276.1Z"/>
<path fill="#55edaf" fill-rule="evenodd" d="M330.9,275.3L329.9,273.6L329.4,271.4L327.7,268.4L326.3,263.4L320.1,247.4L319.4,244.4L319.3,242.4L320.1,238.4L321.5,236.4L322.7,235.4L325.9,233.9L327.9,233.5L330.9,233.3L333.9,233.5L335.9,233.9L339.0,235.4L340.2,236.4L341.6,238.4L342.4,242.4L342.3,244.4L341.6,247.4L335.4,263.4L334.0,268.4L332.3,271.4L331.9,273.6Z"/>
<path fill="#73ef91" fill-rule="evenodd" d="M330.9,273.2L329.9,272.0L327.8,268.4L326.5,263.4L320.7,247.4L320.1,243.4L320.8,239.4L321.9,237.7L322.9,236.7L325.9,235.1L327.9,234.6L330.9,234.3L333.9,234.6L335.9,235.1L338.9,236.7L339.9,237.7L340.9,239.4L341.6,243.4L341.0,247.4L335.2,263.4L333.9,268.4L331.9,272.0Z"/>
<path fill="#8aef74" fill-rule="evenodd" d="M330.9,271.8L328.9,270.0L327.9,268.4L326.7,263.4L321.6,248.4L320.8,244.4L320.9,242.4L321.5,240.4L322.7,238.4L323.7,237.4L326.9,235.9L330.9,235.4L334.9,235.9L338.0,237.4L339.0,238.4L340.2,240.4L340.8,242.4L340.9,244.4L340.1,248.4L335.0,263.4L333.8,268.4L332.9,270.0Z"/>
<path fill="#9def58" fill-rule="evenodd" d="M331.9,270.7L330.9,271.1L329.9,270.7L328.9,269.8L328.1,268.4L326.9,263.4L322.2,248.4L321.6,245.4L321.9,242.3L322.9,240.0L323.9,238.7L324.9,237.9L326.9,237.0L329.9,236.4L333.9,236.7L335.9,237.3L337.5,238.4L338.4,239.4L339.5,241.4L340.2,244.4L339.5,248.4L334.9,263.4L333.6,268.4L332.9,269.8Z"/>
<path fill="#b1ee3d" fill-rule="evenodd" d="M330.9,270.6L329.9,270.3L328.9,269.5L328.2,268.4L323.0,249.4L322.2,245.4L322.9,242.1L324.7,239.4L326.2,238.4L327.9,237.8L330.9,237.4L333.9,237.8L335.5,238.4L337.0,239.4L338.9,242.1L339.5,245.4L338.7,249.4L333.5,268.4L332.9,269.5L331.9,270.3Z"/>
<path fill="#caed2d" fill-rule="evenodd" d="M331.9,270.1L330.9,270.3L329.9,270.1L329.0,269.4L328.4,268.4L323.0,246.4L323.3,243.4L324.9,240.8L326.9,239.3L329.9,238.6L332.9,238.7L335.9,239.9L338.0,242.4L338.8,245.4L338.2,249.4L333.3,268.4L332.7,269.4Z"/>
<path fill="#e3ec1c" fill-rule="evenodd" d="M331.9,269.9L330.9,270.1L329.9,269.9L328.5,268.4L324.3,250.4L323.7,246.4L323.9,244.4L324.9,242.4L326.9,240.6L329.9,239.7L332.9,239.9L334.9,240.6L335.9,241.3L337.4,243.4L338.0,245.4L337.6,249.4L333.2,268.4Z"/>
<path fill="#f1de13" fill-rule="evenodd" d="M331.9,269.7L330.9,269.9L329.9,269.7L328.7,268.4L324.9,250.4L324.5,247.4L324.8,244.4L325.9,242.7L327.9,241.4L329.9,240.9L332.9,241.0L334.9,241.9L335.9,242.7L336.9,244.3L337.3,246.4L336.8,250.4L333.0,268.4Z"/>
<path fill="#f4c310" fill-rule="evenodd" d="M331.9,269.5L330.9,269.8L329.9,269.5L328.9,268.4L325.3,248.4L325.2,246.4L325.9,244.4L326.9,243.2L327.9,242.6L329.9,242.0L332.9,242.2L334.9,243.2L335.9,244.4L336.5,246.4L335.9,252.4L332.9,268.4Z"/>
<path fill="#f7a80e" fill-rule="evenodd" d="M330.9,269.6L329.9,269.3L329.1,268.4L327.6,260.4L326.0,248.4L326.2,246.4L327.3,244.4L328.9,243.4L330.9,243.1L332.9,243.4L334.4,244.4L335.5,246.4L335.7,248.4L334.1,260.4L332.6,268.4L331.9,269.3Z"/>
<path fill="#f58d10" fill-rule="evenodd" d="M331.9,269.1L330.9,269.4L329.9,269.1L329.3,268.4L327.9,260.4L326.9,250.4L327.1,247.4L327.9,245.6L328.9,244.8L330.9,244.4L332.9,244.8L333.9,245.6L334.6,247.4L334.8,249.4L333.8,260.4L332.4,268.4Z"/>
<path fill="#f37311" fill-rule="evenodd" d="M331.9,268.8L330.9,269.1L329.9,268.8L329.5,268.4L328.3,261.4L327.9,254.4L327.9,250.4L328.2,248.4L328.9,246.9L329.9,246.2L330.9,246.0L331.9,246.2L332.9,246.9L333.5,248.4L333.9,250.7L333.4,261.4L332.2,268.4Z"/>
<path fill="#f15a12" fill-rule="evenodd" d="M331.9,268.6L330.9,268.9L329.7,268.4L328.7,261.4L328.9,252.4L329.9,249.7L330.9,249.2L331.9,249.7L332.2,250.4L332.8,252.4L332.9,254.4L332.9,262.4Z"/>
<path fill="#ee4213" fill-rule="evenodd" d="M330.9,268.7L330.1,268.4L329.9,267.9L329.1,261.4L329.3,258.4L329.9,255.8L330.9,254.7L331.9,255.8L332.4,258.4L332.6,261.4L331.9,267.9L331.6,268.4Z"/>
<path fill="#eb2a14" fill-rule="evenodd" d="M330.9,268.4L329.9,266.0L329.6,262.4L329.9,259.9L330.9,258.6L331.9,259.9L332.1,262.4L331.9,266.0Z"/>
<path fill="#df1e12" fill-rule="evenodd" d="M330.9,266.5L330.5,264.4L330.9,261.9L331.2,264.4Z"/>
</g></g>
<rect x="317.2" y="211.8" width="28.3" height="84.6" fill="none" stroke="#00103a" stroke-opacity="0.4" stroke-width="0.7"/>
<rect x="316.6" y="238.7" width="4" height="1.2" fill="#fff"/>
<rect x="316.6" y="267.6" width="4" height="1.2" fill="#fff"/>
<g clip-path="url(#c26)"><g filter="url(#bl)">
<rect x="356.6" y="208.4" width="35.0" height="91.7" fill="#050a91"/>
<path fill="#06119a" fill-rule="evenodd" d="M379.6,299.4L367.0,299.4L367.0,297.4L366.2,293.4L366.1,290.4L367.0,271.4L366.6,268.6L365.6,266.0L363.6,262.8L356.6,254.2L356.6,208.4L391.6,208.4L391.6,253.1L383.6,262.8L381.6,266.0L380.6,268.6L380.2,271.4L381.1,291.4L380.8,294.4L380.2,297.4L380.2,299.4Z"/>
<path fill="#081ba0" fill-rule="evenodd" d="M377.6,299.4L368.8,299.4L368.8,297.4L367.8,294.4L367.4,290.4L367.9,272.4L367.6,269.2L366.6,266.2L364.6,262.6L356.6,251.6L356.6,208.4L391.6,208.4L391.6,250.3L382.6,262.6L380.6,266.2L379.6,269.2L379.3,271.4L379.9,286.4L379.8,291.4L379.4,294.4L378.4,297.4L378.4,299.4Z"/>
<path fill="#0a25a5" fill-rule="evenodd" d="M376.6,299.4L370.1,299.4L370.1,297.4L368.7,294.4L368.0,290.4L368.3,270.4L367.5,267.4L365.6,263.3L356.6,249.9L356.6,213.6L357.0,212.4L357.1,211.4L356.6,209.7L356.6,208.4L391.0,208.4L390.1,211.4L390.5,213.4L391.6,215.1L391.6,248.4L382.6,261.6L380.6,265.2L379.6,267.8L378.8,271.4L379.3,285.4L379.1,291.4L378.5,294.4L377.1,297.4L377.1,299.4Z"/>
<path fill="#0b2faa" fill-rule="evenodd" d="M375.6,299.4L371.3,299.4L371.3,297.4L369.3,294.4L368.8,292.4L368.4,287.4L368.8,274.4L368.6,270.1L367.6,266.8L365.6,262.5L356.6,248.5L356.6,220.8L359.6,218.2L363.6,215.9L368.6,214.0L372.6,213.5L377.6,213.8L383.6,215.9L388.6,218.9L391.6,221.9L391.6,246.9L382.6,260.8L380.6,264.4L379.6,266.8L378.4,271.4L378.8,286.4L378.4,292.4L377.9,294.4L375.9,297.4L375.9,299.4Z"/>
<path fill="#0c39b0" fill-rule="evenodd" d="M374.6,297.0L373.6,297.3L372.6,297.0L370.6,295.5L369.9,294.4L369.2,292.4L368.8,286.4L369.0,271.4L367.6,266.1L364.6,260.2L356.6,247.2L356.6,225.7L359.3,222.4L362.6,220.2L367.6,218.5L372.6,217.9L378.6,218.3L381.6,219.0L384.6,220.2L386.6,221.4L388.6,223.1L391.6,227.0L391.6,245.4L382.6,260.2L379.6,266.1L378.2,271.4L378.4,286.4L378.1,291.4L377.3,294.4L376.6,295.5Z"/>
<path fill="#0d43b5" fill-rule="evenodd" d="M375.6,295.7L374.6,296.1L372.6,296.1L371.3,295.4L370.0,293.4L369.3,290.4L369.1,287.4L369.3,274.4L369.1,270.4L367.6,265.5L366.6,263.3L356.6,246.0L356.6,228.4L360.8,224.4L363.6,222.6L367.6,221.1L371.6,220.6L377.6,220.8L382.6,222.1L386.4,224.4L391.6,229.5L391.6,243.8L389.3,248.4L380.6,263.3L379.6,265.5L378.1,270.4L377.9,273.4L378.2,285.4L378.0,289.4L377.2,293.4L376.6,294.7Z"/>
<path fill="#0e4dba" fill-rule="evenodd" d="M374.6,295.6L372.6,295.6L371.6,295.1L370.6,293.8L370.0,292.4L369.3,286.4L369.5,271.4L367.6,265.1L365.6,261.0L359.0,249.4L356.6,244.6L356.6,230.4L359.6,227.6L364.6,224.4L368.6,223.1L372.6,222.6L377.6,222.9L380.6,223.6L382.6,224.4L388.6,228.4L390.6,230.4L391.6,232.2L391.6,241.7L391.1,243.4L389.3,247.4L380.6,262.9L379.6,265.1L377.9,270.4L377.6,274.4L377.9,286.4L377.5,290.4L376.6,293.8L375.6,295.1Z"/>
<path fill="#0f57bf" fill-rule="evenodd" d="M375.6,294.5L374.6,295.1L372.6,295.1L371.5,294.4L370.4,292.4L369.8,289.4L369.6,286.4L369.7,274.4L369.5,270.4L367.6,264.7L366.6,262.5L358.9,248.4L356.6,242.9L356.6,232.7L358.1,230.4L361.6,227.8L365.6,225.9L369.6,224.8L372.6,224.5L376.6,224.6L379.6,225.2L383.6,226.7L386.6,228.4L388.6,229.9L389.9,231.4L390.9,233.4L391.5,236.4L391.4,239.4L390.1,244.4L388.3,248.4L380.6,262.5L379.6,264.7L377.7,270.4L377.5,274.4L377.5,288.4L376.8,292.4Z"/>
<path fill="#1061c4" fill-rule="evenodd" d="M374.6,294.6L372.6,294.6L371.6,293.9L370.8,292.4L370.3,290.4L369.8,285.4L369.8,271.4L368.6,267.1L366.6,262.1L358.4,246.4L357.3,243.4L356.6,240.3L356.6,235.8L357.0,234.4L357.9,232.4L359.5,230.4L361.6,228.9L365.6,227.2L369.6,226.3L372.6,226.0L376.6,226.1L379.6,226.6L382.6,227.5L385.6,228.9L387.7,230.4L389.3,232.4L390.2,234.4L390.8,237.4L390.4,241.4L389.2,245.4L380.6,262.1L379.6,264.3L377.6,270.4L377.2,288.4L376.4,292.4L375.6,293.9Z"/>
<path fill="#116bc9" fill-rule="evenodd" d="M374.6,294.1L373.6,294.3L372.6,294.1L371.6,293.2L370.8,291.4L370.0,286.4L370.1,274.4L369.8,270.4L368.9,268.4L368.6,266.7L366.6,261.8L358.4,245.4L357.3,241.4L357.0,238.4L357.3,236.4L357.9,234.4L359.0,232.4L360.9,230.4L363.6,228.9L366.6,227.8L372.6,227.0L376.6,227.1L379.6,227.6L382.6,228.5L385.6,229.9L387.4,231.4L388.8,233.4L389.7,235.4L390.2,238.4L389.9,241.4L388.8,245.4L380.6,261.8L378.6,266.7L378.3,268.4L377.4,270.4L377.1,274.4L377.0,288.4L376.0,292.4L375.6,293.2Z"/>
<path fill="#1275ce" fill-rule="evenodd" d="M374.6,293.6L373.6,293.8L372.6,293.6L371.6,292.5L371.1,291.4L370.2,286.4L370.2,274.4L369.9,270.4L367.6,263.7L359.2,246.4L358.2,243.4L357.7,239.4L357.8,237.4L358.6,234.7L360.0,232.4L361.6,230.9L363.6,229.7L366.6,228.7L369.6,228.1L372.6,227.8L376.6,228.0L379.6,228.4L382.6,229.3L384.8,230.4L386.6,231.8L387.9,233.4L388.9,235.4L389.5,238.4L389.2,242.4L388.0,246.4L379.6,263.7L377.3,270.4L377.0,274.4L376.9,287.4L376.1,291.4L375.6,292.5Z"/>
<path fill="#137fd3" fill-rule="evenodd" d="M374.6,293.0L373.6,293.3L372.6,293.0L371.6,291.8L371.1,290.4L370.5,286.4L370.4,274.4L370.0,270.4L367.6,263.4L359.6,246.4L358.7,243.4L358.2,240.4L358.4,237.4L359.0,235.4L360.3,233.4L361.6,231.9L363.6,230.6L365.6,229.7L368.6,228.9L371.6,228.6L375.6,228.6L378.6,228.9L381.6,229.7L383.6,230.6L385.6,231.9L386.9,233.4L388.2,235.4L388.9,238.4L388.7,242.4L388.0,245.4L379.6,263.4L377.2,270.4L376.8,274.4L376.7,287.4L375.8,291.4Z"/>
<path fill="#1489d7" fill-rule="evenodd" d="M374.6,292.4L373.6,292.8L372.6,292.4L371.4,290.4L370.7,286.4L370.5,274.4L370.1,270.4L367.6,263.1L359.9,246.4L359.0,243.4L358.7,240.4L358.8,238.4L359.6,235.8L360.6,234.1L362.6,232.0L364.6,230.8L366.6,230.1L369.6,229.4L372.6,229.2L378.6,229.6L381.6,230.4L383.7,231.4L385.6,232.9L387.4,235.4L388.2,237.4L388.5,239.4L388.2,243.4L387.3,246.4L379.6,263.1L377.1,270.4L376.7,274.4L376.4,287.4L375.6,291.0Z"/>
<path fill="#1294dc" fill-rule="evenodd" d="M374.6,291.8L373.6,292.2L372.6,291.8L371.6,290.2L370.8,285.4L370.5,271.4L367.6,262.8L360.2,246.4L359.4,243.4L359.2,241.4L359.3,238.4L359.9,236.4L361.2,234.4L362.6,232.9L364.6,231.5L366.6,230.7L369.6,230.0L372.6,229.8L378.6,230.2L381.6,231.1L383.6,232.1L385.6,233.9L386.7,235.4L387.6,237.4L388.0,239.4L387.8,243.4L387.0,246.4L379.6,262.8L376.7,271.4L376.3,286.4L375.6,290.2Z"/>
<path fill="#10a0e0" fill-rule="evenodd" d="M373.6,291.6L372.6,291.2L372.1,290.4L371.2,287.4L370.6,271.4L367.6,262.6L360.9,247.4L359.9,244.4L359.6,241.4L359.9,238.4L360.6,236.4L362.0,234.4L363.6,232.9L365.6,231.7L367.6,231.0L370.6,230.4L373.6,230.3L376.6,230.4L379.6,231.0L381.6,231.7L383.6,232.9L385.2,234.4L386.6,236.4L387.3,238.4L387.6,241.4L387.3,244.4L386.3,247.4L379.6,262.6L376.6,271.4L376.0,287.4L375.1,290.4L374.6,291.2Z"/>
<path fill="#0dabe5" fill-rule="evenodd" d="M374.6,290.5L373.6,291.0L372.6,290.5L371.6,288.4L371.1,285.4L370.7,271.4L367.6,262.3L361.1,247.4L360.3,244.4L360.0,242.4L360.1,239.4L360.6,237.6L361.6,235.7L362.7,234.4L364.6,232.9L366.6,231.9L369.6,231.1L372.6,230.8L375.6,230.9L378.6,231.3L381.6,232.4L383.6,233.6L385.4,235.4L386.5,237.4L387.1,239.4L387.2,241.4L386.9,244.4L386.1,247.4L379.6,262.3L376.5,271.4L376.0,286.4L375.6,288.4Z"/>
<path fill="#0bb7e9" fill-rule="evenodd" d="M373.6,290.4L372.6,289.9L371.9,288.4L371.4,286.4L371.1,275.4L370.6,270.7L369.9,269.4L367.6,262.0L361.4,247.4L360.8,245.4L360.4,242.4L360.6,239.4L361.2,237.4L362.5,235.4L363.6,234.3L365.6,233.0L367.6,232.2L370.6,231.5L373.6,231.3L376.6,231.5L379.6,232.2L381.6,233.0L383.6,234.3L384.7,235.4L386.0,237.4L386.6,239.4L386.8,242.4L386.4,245.4L385.8,247.4L379.6,262.0L377.3,269.4L376.6,270.7L376.1,275.4L375.8,286.4L375.3,288.4L374.6,289.9Z"/>
<path fill="#09c0ec" fill-rule="evenodd" d="M373.6,289.8L372.6,289.2L371.6,286.1L370.9,271.4L370.0,269.4L367.6,261.8L362.0,248.4L361.1,245.4L360.7,242.4L361.3,238.4L362.3,236.4L363.6,235.0L365.6,233.6L367.6,232.7L370.6,232.0L373.6,231.8L376.6,232.0L379.6,232.7L381.6,233.6L383.6,235.0L384.9,236.4L385.9,238.4L386.5,242.4L386.1,245.4L385.2,248.4L379.6,261.8L377.2,269.4L376.3,271.4L375.6,286.1L374.6,289.2Z"/>
<path fill="#07c7ed" fill-rule="evenodd" d="M374.6,288.5L373.6,289.2L372.6,288.5L372.2,287.4L371.6,284.4L371.0,271.4L370.0,269.4L367.6,261.6L362.2,248.4L361.3,245.4L361.1,243.4L361.1,241.4L361.6,238.9L362.2,237.4L363.6,235.7L365.6,234.2L367.6,233.2L369.6,232.7L372.6,232.3L375.6,232.4L378.6,232.9L380.6,233.7L382.6,234.8L384.3,236.4L385.4,238.4L386.2,242.4L385.9,245.4L385.0,248.4L379.6,261.6L377.2,269.4L376.2,271.4L375.6,284.4L375.3,286.4Z"/>
<path fill="#06cbed" fill-rule="evenodd" d="M373.6,288.5L372.6,287.8L372.0,285.4L371.1,271.4L370.1,269.4L367.6,261.4L362.4,248.4L361.6,245.4L361.3,243.4L361.6,240.5L362.2,238.4L363.5,236.4L364.6,235.4L366.6,234.2L368.6,233.4L370.6,233.0L373.6,232.8L376.6,233.0L378.6,233.4L380.6,234.2L382.6,235.4L383.7,236.4L385.0,238.4L385.6,240.5L385.9,243.4L385.6,245.4L384.8,248.4L379.6,261.4L377.1,269.4L376.1,271.4L375.2,285.4L374.6,287.8Z"/>
<path fill="#04d3ee" fill-rule="evenodd" d="M373.6,288.5L372.6,287.7L372.0,285.4L371.1,271.4L370.1,269.4L367.6,261.4L362.5,248.4L361.6,245.4L361.4,243.4L361.6,240.6L362.2,238.4L363.6,236.4L364.6,235.4L366.6,234.2L368.6,233.5L370.6,233.0L373.6,232.8L376.6,233.0L378.6,233.5L380.6,234.2L382.6,235.4L383.6,236.4L385.0,238.4L385.6,240.6L385.8,243.4L385.6,245.4L384.7,248.4L379.6,261.4L377.1,269.4L376.1,271.4L375.2,285.4L374.6,287.7Z"/>
<path fill="#04e1ed" fill-rule="evenodd" d="M373.6,286.9L372.5,285.4L371.3,271.4L370.3,269.4L368.6,263.5L363.2,249.4L362.3,246.4L362.0,243.4L362.7,239.4L363.6,237.8L364.9,236.4L366.6,235.2L368.6,234.4L370.6,233.9L373.6,233.7L376.6,233.9L378.6,234.4L380.6,235.2L382.3,236.4L383.6,237.8L384.5,239.4L385.2,243.4L384.9,246.4L384.0,249.4L378.6,263.5L376.9,269.4L375.9,271.4L374.7,285.4Z"/>
<path fill="#1ee5dc" fill-rule="evenodd" d="M373.6,284.5L372.6,280.4L371.5,271.4L370.0,268.4L368.7,263.4L364.3,251.4L363.0,247.4L362.5,244.4L362.9,241.4L363.6,239.4L365.6,236.9L367.6,235.7L369.6,235.0L373.6,234.6L377.6,235.0L379.6,235.7L381.6,236.9L383.6,239.4L384.3,241.4L384.7,244.4L384.2,247.4L382.9,251.4L378.5,263.4L377.2,268.4L375.7,271.4L374.6,280.4Z"/>
<path fill="#38eacb" fill-rule="evenodd" d="M373.6,279.0L372.6,276.1L371.8,271.4L370.2,268.4L368.9,263.4L364.6,251.3L363.4,247.4L363.1,244.4L363.6,241.2L364.6,239.1L366.2,237.4L368.6,236.1L371.6,235.4L373.6,235.3L375.6,235.4L378.6,236.1L381.0,237.4L382.6,239.1L383.6,241.2L384.1,244.4L383.8,247.4L382.6,251.3L378.3,263.4L377.0,268.4L375.4,271.4L374.6,276.1Z"/>
<path fill="#55edaf" fill-rule="evenodd" d="M373.6,275.3L372.6,273.6L372.1,271.4L370.3,268.4L369.1,263.4L364.7,250.4L363.7,245.4L363.8,243.4L364.4,241.4L365.6,239.4L366.5,238.4L369.6,236.8L373.6,236.3L377.6,236.8L380.7,238.4L381.6,239.4L382.8,241.4L383.4,243.4L383.5,245.4L382.5,250.4L378.1,263.4L376.9,268.4L375.1,271.4L374.6,273.6Z"/>
<path fill="#73ef91" fill-rule="evenodd" d="M373.6,273.2L372.6,272.0L370.4,268.4L369.3,263.4L365.2,250.4L364.3,245.4L364.9,242.4L365.6,241.1L367.0,239.4L369.6,237.9L373.6,237.3L377.6,237.9L380.2,239.4L381.6,241.1L382.3,242.4L382.9,245.4L382.0,250.4L377.9,263.4L376.8,268.4L374.6,272.0Z"/>
<path fill="#8aef74" fill-rule="evenodd" d="M373.6,271.8L371.6,270.1L370.6,268.4L369.6,264.0L365.7,250.4L365.0,245.4L365.9,242.4L367.6,240.2L368.8,239.4L370.6,238.6L373.6,238.3L376.6,238.6L378.4,239.4L379.6,240.2L381.3,242.4L382.2,245.4L381.5,250.4L377.6,264.0L376.6,268.4L375.6,270.1Z"/>
<path fill="#9def58" fill-rule="evenodd" d="M374.6,270.7L373.6,271.1L372.6,270.7L371.6,269.9L370.7,268.4L366.6,252.4L365.7,247.4L365.9,244.4L366.6,242.8L367.6,241.5L369.6,240.1L372.6,239.4L375.6,239.5L378.6,240.7L380.6,242.8L381.5,245.4L381.5,247.4L380.8,251.4L376.5,268.4L375.6,269.9Z"/>
<path fill="#b1ee3d" fill-rule="evenodd" d="M373.6,270.7L371.6,269.7L370.8,268.4L367.0,252.4L366.3,246.4L366.7,244.4L367.6,242.9L368.6,241.9L370.6,240.8L373.6,240.4L376.6,240.8L378.6,241.9L379.6,242.9L380.5,244.4L380.9,246.4L380.2,252.4L376.4,268.4L375.6,269.7Z"/>
<path fill="#caed2d" fill-rule="evenodd" d="M375.6,269.5L374.6,270.2L372.6,270.2L371.6,269.5L371.0,268.4L367.7,253.4L367.0,249.4L367.0,246.4L367.6,244.4L368.6,243.1L369.6,242.3L372.6,241.4L375.6,241.5L377.6,242.3L378.6,243.1L379.6,244.4L380.2,246.4L380.2,249.4L379.5,253.4L376.2,268.4Z"/>
<path fill="#e3ec1c" fill-rule="evenodd" d="M374.6,270.0L373.6,270.2L372.6,270.0L371.8,269.4L371.1,268.4L368.5,255.4L367.6,249.4L367.7,246.4L368.6,244.5L370.6,242.9L372.6,242.3L375.6,242.5L377.6,243.5L379.1,245.4L379.6,247.4L379.1,253.4L376.1,268.4L375.4,269.4Z"/>
<path fill="#f1de13" fill-rule="evenodd" d="M374.6,269.9L373.6,270.0L372.6,269.9L371.3,268.4L369.3,258.4L368.3,251.4L368.4,247.4L369.1,245.4L370.6,244.0L372.6,243.3L375.6,243.5L377.2,244.4L378.6,246.3L379.0,248.4L378.5,254.4L375.9,268.4Z"/>
<path fill="#f4c310" fill-rule="evenodd" d="M374.6,269.7L373.6,269.9L372.6,269.7L371.4,268.4L369.6,258.4L368.8,251.4L369.0,248.4L369.6,246.3L370.6,245.2L371.6,244.6L373.6,244.3L375.6,244.6L376.9,245.4L377.7,246.4L378.3,249.4L378.3,252.4L377.7,257.4L375.8,268.4Z"/>
<path fill="#f7a80e" fill-rule="evenodd" d="M374.6,269.5L373.6,269.7L372.6,269.5L371.6,268.4L370.2,260.4L369.5,253.4L369.6,249.4L370.2,247.4L371.6,245.9L373.6,245.4L375.6,245.9L376.6,246.7L377.4,248.4L377.8,251.4L377.2,258.4L375.6,268.4Z"/>
<path fill="#f58d10" fill-rule="evenodd" d="M373.6,269.6L372.6,269.3L371.8,268.4L370.5,260.4L370.0,253.4L370.3,250.4L371.0,248.4L371.8,247.4L373.6,246.8L375.4,247.4L376.2,248.4L376.9,250.4L377.2,253.4L376.7,260.4L375.4,268.4L374.6,269.3Z"/>
<path fill="#f37311" fill-rule="evenodd" d="M373.6,269.4L372.6,269.1L372.0,268.4L370.8,260.4L370.6,255.4L370.8,252.4L371.4,250.4L372.6,248.9L373.6,248.7L374.6,248.9L375.8,250.4L376.4,252.4L376.6,255.4L376.4,260.4L375.2,268.4L374.6,269.1Z"/>
<path fill="#f15a12" fill-rule="evenodd" d="M374.6,268.9L373.6,269.2L372.6,268.9L372.2,268.4L371.1,260.4L371.2,256.4L371.6,253.0L372.6,251.3L373.6,250.9L374.6,251.3L375.6,253.0L376.0,256.4L375.8,263.4L375.0,268.4Z"/>
<path fill="#ee4213" fill-rule="evenodd" d="M374.6,268.7L373.6,269.0L372.4,268.4L371.5,262.4L371.5,259.4L371.8,256.4L372.6,254.1L373.6,253.5L374.7,254.4L375.7,258.4L375.6,263.1L374.8,268.4Z"/>
<path fill="#eb2a14" fill-rule="evenodd" d="M374.6,268.4L373.6,268.8L372.6,268.4L372.0,263.4L371.9,260.4L372.2,258.4L372.6,257.1L373.6,256.3L374.6,257.1L375.3,260.4L375.2,263.4Z"/>
<path fill="#df1e12" fill-rule="evenodd" d="M373.6,268.6L373.1,268.4L372.6,266.8L372.3,262.4L372.6,259.8L373.6,258.7L374.6,259.8L374.9,262.4L374.6,266.8L374.1,268.4Z"/>
<path fill="#d21210" fill-rule="evenodd" d="M373.6,267.9L372.9,263.4L373.6,261.1L374.3,263.4Z"/>
</g></g>
<rect x="360.0" y="211.8" width="28.3" height="84.6" fill="none" stroke="#00103a" stroke-opacity="0.4" stroke-width="0.7"/>
<rect x="359.3" y="238.7" width="4" height="1.2" fill="#fff"/>
<rect x="359.3" y="267.6" width="4" height="1.2" fill="#fff"/>
<g clip-path="url(#c27)"><g filter="url(#bl)">
<rect x="399.4" y="208.4" width="35.0" height="91.7" fill="#050a91"/>
<path fill="#06119a" fill-rule="evenodd" d="M422.4,299.4L409.8,299.4L409.8,297.4L409.0,293.4L408.8,290.4L409.8,271.4L409.4,268.7L408.4,265.7L406.4,262.1L399.4,252.2L399.4,208.4L434.4,208.4L434.4,250.8L426.4,262.1L424.4,265.7L423.4,268.7L422.9,271.4L423.8,291.4L423.6,294.4L422.9,297.4L422.9,299.4Z"/>
<path fill="#081ba0" fill-rule="evenodd" d="M420.4,299.4L411.6,299.4L411.6,297.4L410.6,294.4L410.1,290.4L410.7,272.4L410.4,269.4L409.4,265.9L408.4,263.7L399.4,248.8L399.4,217.6L401.9,214.4L403.0,212.4L403.1,211.4L402.4,208.4L430.3,208.4L429.6,211.4L429.7,212.4L430.8,214.4L434.4,219.0L434.4,247.0L425.4,261.9L423.4,265.9L422.4,269.4L422.0,271.4L422.6,286.4L422.5,291.4L422.1,294.4L421.1,297.4L421.1,299.4Z"/>
<path fill="#0a25a5" fill-rule="evenodd" d="M419.4,299.4L412.8,299.4L412.8,297.4L411.4,294.4L410.8,290.4L410.7,285.4L411.2,273.4L411.0,270.4L409.4,264.8L408.4,262.6L399.4,246.2L399.4,227.4L402.4,223.4L405.4,220.8L409.4,218.9L414.4,218.0L420.4,218.2L423.4,218.9L426.4,220.2L428.4,221.5L430.4,223.4L434.4,228.7L434.4,243.8L431.7,249.4L424.4,262.6L423.4,264.8L421.7,270.4L421.5,273.4L422.0,286.4L421.8,291.4L421.3,294.4L419.9,297.4L419.9,299.4Z"/>
<path fill="#0b2faa" fill-rule="evenodd" d="M418.4,299.4L414.0,299.4L414.0,297.4L412.1,294.4L411.5,292.4L411.2,287.4L411.4,270.4L409.4,264.0L401.9,249.4L399.4,243.2L399.4,231.7L400.1,230.4L402.4,228.1L408.4,224.0L411.4,222.9L415.4,222.4L419.4,222.5L422.4,223.2L424.4,224.0L427.4,225.9L430.4,228.1L432.6,230.4L433.7,232.4L434.4,235.6L434.1,240.4L432.6,245.4L430.8,249.4L423.4,264.0L421.3,270.4L421.6,286.4L421.3,291.4L420.6,294.4L418.7,297.4L418.7,299.4Z"/>
<path fill="#0c39b0" fill-rule="evenodd" d="M417.4,297.0L416.4,297.3L415.4,297.0L413.3,295.4L412.3,293.4L411.8,291.4L411.5,287.4L411.8,274.4L411.6,270.4L409.4,263.3L403.0,250.4L400.9,245.4L399.9,241.4L399.6,238.4L399.9,235.4L400.6,233.4L401.6,231.4L403.4,229.7L405.4,228.4L408.4,227.0L412.4,225.9L415.4,225.6L418.4,225.6L421.4,226.1L424.4,227.0L428.4,228.9L430.4,230.6L431.7,232.4L432.8,235.4L433.1,237.4L432.8,241.4L431.8,245.4L429.7,250.4L423.4,263.3L421.1,270.4L420.9,274.4L421.2,286.4L420.9,291.4L420.1,294.4L419.4,295.5Z"/>
<path fill="#0d43b5" fill-rule="evenodd" d="M418.4,295.7L417.4,296.1L415.4,296.1L414.0,295.4L412.7,293.4L412.1,290.4L411.8,287.4L412.1,274.4L411.8,270.4L410.4,265.2L409.4,262.7L404.0,251.4L402.0,246.4L401.1,243.4L400.7,240.4L400.8,237.4L401.3,235.4L402.4,233.1L403.7,231.4L405.4,230.1L408.4,228.6L411.4,227.8L414.4,227.5L418.4,227.5L421.4,227.8L424.4,228.6L427.4,230.1L429.0,231.4L430.5,233.4L431.4,235.4L432.0,238.4L431.8,242.4L430.7,246.4L428.7,251.4L423.4,262.7L422.4,265.2L420.9,270.4L420.7,273.4L420.9,285.4L420.7,289.4L420.0,293.4L419.4,294.7Z"/>
<path fill="#0e4dba" fill-rule="evenodd" d="M417.4,295.6L415.4,295.6L414.4,295.1L413.4,293.8L412.8,292.4L412.1,286.4L412.2,271.4L410.4,264.7L402.9,247.4L401.8,243.4L401.6,240.4L401.8,237.4L402.5,235.4L403.7,233.4L405.4,231.7L407.4,230.4L409.4,229.6L412.4,228.9L415.4,228.7L421.4,229.1L424.4,229.9L426.4,230.9L428.2,232.4L429.7,234.4L430.6,236.4L431.1,239.4L430.9,243.4L429.8,247.4L422.4,264.7L420.7,270.4L420.4,274.4L420.6,286.4L420.3,290.4L419.4,293.8L418.4,295.1Z"/>
<path fill="#0f57bf" fill-rule="evenodd" d="M418.4,294.5L417.4,295.1L415.4,295.1L414.3,294.4L413.2,292.4L412.6,289.4L412.4,286.4L412.4,271.0L410.4,264.3L403.7,248.4L402.8,245.4L402.4,242.4L402.4,239.4L402.8,237.4L403.7,235.4L405.4,233.2L407.4,231.7L409.4,230.7L414.4,229.7L420.4,230.0L423.4,230.7L425.4,231.7L427.4,233.2L429.0,235.4L429.9,237.4L430.3,239.4L430.2,243.4L429.6,246.4L427.9,251.4L422.4,264.3L420.4,271.0L420.2,288.4L419.5,292.4Z"/>
<path fill="#1061c4" fill-rule="evenodd" d="M417.4,294.6L415.4,294.6L414.4,293.9L413.2,291.4L412.6,286.4L412.6,274.4L412.4,270.4L411.8,269.4L410.4,263.9L404.1,248.4L403.3,245.4L402.9,242.4L403.1,239.4L403.7,237.4L404.8,235.4L406.4,233.7L408.4,232.3L410.4,231.4L415.4,230.6L418.4,230.7L421.4,231.1L423.4,231.8L425.4,232.9L427.4,234.7L428.6,236.4L429.3,238.4L429.7,241.4L429.6,244.4L428.6,248.4L422.4,263.9L420.9,269.4L420.3,270.4L420.1,274.4L420.2,285.4L419.9,289.4L419.2,292.4L418.4,293.9Z"/>
<path fill="#116bc9" fill-rule="evenodd" d="M417.4,294.1L416.4,294.3L415.4,294.1L414.4,293.2L413.6,291.4L412.8,286.4L412.8,274.4L412.5,270.4L411.6,268.4L411.4,266.6L410.4,263.5L404.8,249.4L404.0,246.4L403.5,243.4L403.7,240.4L404.1,238.4L405.1,236.4L406.4,234.9L408.4,233.4L410.4,232.4L412.4,231.8L415.4,231.5L418.4,231.5L421.4,232.0L423.4,232.8L425.4,234.0L426.8,235.4L428.2,237.4L428.9,239.4L429.2,242.4L428.9,245.4L427.9,249.4L422.4,263.5L421.4,266.6L421.1,268.4L420.2,270.4L419.9,274.4L419.7,288.4L418.8,292.4L418.4,293.2Z"/>
<path fill="#1275ce" fill-rule="evenodd" d="M417.4,293.6L416.4,293.8L415.2,293.4L414.3,292.4L413.6,290.4L412.9,285.4L412.8,271.4L411.7,268.4L411.4,266.2L410.4,263.1L405.1,249.4L404.4,246.4L404.0,243.4L404.3,240.4L404.8,238.4L406.0,236.4L407.0,235.4L408.4,234.3L410.4,233.3L412.4,232.7L415.4,232.3L418.4,232.3L421.4,232.9L423.4,233.7L425.4,235.0L426.7,236.4L427.9,238.4L428.7,242.4L428.5,245.4L427.9,248.4L422.4,263.1L421.4,266.2L421.0,268.4L419.9,271.4L419.6,287.4L418.8,291.4L418.4,292.5Z"/>
<path fill="#137fd3" fill-rule="evenodd" d="M417.4,293.0L416.4,293.3L415.4,293.0L414.4,291.8L413.9,290.4L413.1,285.4L412.9,271.4L411.8,268.4L411.4,265.8L410.4,262.8L405.7,250.4L404.9,247.4L404.5,244.4L404.6,241.4L405.1,239.4L407.0,236.4L408.4,235.2L410.4,234.1L412.4,233.5L415.4,233.0L420.4,233.5L422.4,234.1L424.6,235.4L426.4,237.1L427.1,238.4L427.8,240.4L428.2,243.4L428.0,246.4L427.0,250.4L422.4,262.8L421.4,265.8L420.9,268.4L419.8,271.4L419.4,287.4L418.5,291.4Z"/>
<path fill="#1489d7" fill-rule="evenodd" d="M417.4,292.4L416.4,292.8L415.4,292.4L414.4,291.0L413.9,289.4L413.3,285.4L413.1,271.4L411.9,268.4L411.4,265.5L410.4,262.5L406.0,250.4L405.1,246.4L404.9,244.4L405.4,240.4L406.3,238.4L407.4,236.9L410.4,234.9L412.4,234.2L415.4,233.7L418.4,233.8L420.4,234.2L422.4,234.9L424.4,236.0L425.7,237.4L426.9,239.4L427.8,243.4L427.6,246.4L426.7,250.4L422.4,262.5L421.4,265.5L420.8,268.4L419.6,271.4L419.2,287.4L418.4,291.0Z"/>
<path fill="#1294dc" fill-rule="evenodd" d="M417.4,291.8L416.4,292.2L415.4,291.8L414.1,289.4L413.5,285.4L413.2,271.4L412.0,268.4L411.4,265.2L406.6,251.4L405.6,247.4L405.3,244.4L406.0,240.4L407.0,238.4L407.8,237.4L409.4,236.1L411.4,235.1L415.4,234.4L418.4,234.5L420.4,234.8L422.4,235.6L424.4,236.8L425.7,238.4L426.7,240.4L427.4,244.4L427.1,247.4L426.1,251.4L421.4,265.2L420.7,268.4L419.5,271.4L419.1,286.4L418.4,290.2Z"/>
<path fill="#10a0e0" fill-rule="evenodd" d="M416.4,291.6L415.4,291.2L414.9,290.4L413.9,287.4L413.3,271.4L412.1,268.4L411.4,264.9L406.8,251.4L405.8,247.4L405.6,244.4L405.9,242.4L406.5,240.4L407.4,238.8L408.6,237.4L410.4,236.2L412.4,235.4L416.4,234.9L420.4,235.4L422.4,236.2L424.1,237.4L425.4,238.8L426.2,240.4L426.8,242.4L427.1,244.4L426.9,247.4L425.9,251.4L421.4,264.9L420.6,268.4L419.4,271.4L418.8,287.4L417.8,290.4L417.4,291.2Z"/>
<path fill="#0dabe5" fill-rule="evenodd" d="M417.4,290.5L416.4,291.0L415.4,290.5L414.3,288.4L413.9,285.4L413.4,271.4L412.1,268.4L411.4,264.6L407.0,251.4L405.9,245.4L406.1,243.4L406.6,241.4L408.4,238.4L409.5,237.4L411.4,236.4L415.4,235.5L419.4,235.8L421.4,236.4L423.4,237.5L424.4,238.4L425.7,240.4L426.4,242.4L426.7,244.4L426.6,247.4L425.7,251.4L421.4,264.6L420.6,268.4L419.3,271.4L418.7,286.4L418.4,288.4Z"/>
<path fill="#0bb7e9" fill-rule="evenodd" d="M416.4,290.4L415.4,289.9L414.7,288.4L414.2,286.4L413.5,271.4L412.2,268.4L411.4,264.3L407.8,253.4L406.7,249.4L406.3,245.4L406.4,243.4L407.1,241.4L408.2,239.4L409.1,238.4L410.4,237.5L412.4,236.6L416.4,236.0L420.4,236.6L422.4,237.5L423.6,238.4L424.5,239.4L425.6,241.4L426.3,243.4L426.4,245.4L426.0,249.4L424.9,253.4L421.4,264.3L420.5,268.4L419.2,271.4L418.5,286.4L418.0,288.4L417.4,289.9Z"/>
<path fill="#09c0ec" fill-rule="evenodd" d="M416.4,289.8L415.4,289.2L414.4,286.1L413.6,271.4L412.3,268.4L411.4,264.1L407.7,252.4L406.8,248.4L406.6,245.4L406.8,243.4L407.4,241.8L409.4,238.8L412.4,237.1L416.4,236.5L420.4,237.1L423.4,238.8L425.4,241.8L425.9,243.4L426.1,245.4L425.9,248.4L425.0,252.4L421.4,264.1L420.4,268.4L419.1,271.4L418.4,286.1L417.4,289.2Z"/>
<path fill="#07c7ed" fill-rule="evenodd" d="M417.4,288.5L416.4,289.2L415.4,288.5L414.7,286.4L413.7,271.4L412.4,268.4L411.4,263.8L408.1,253.4L407.2,249.4L406.8,246.4L407.0,244.4L407.5,242.4L409.4,239.5L410.7,238.4L412.4,237.6L415.4,237.0L419.4,237.3L422.4,238.6L423.4,239.5L424.7,241.4L425.5,243.4L425.8,245.4L425.7,248.4L424.9,252.4L421.4,263.8L420.3,268.4L419.0,271.4L418.3,284.4L418.0,286.4Z"/>
<path fill="#06cbed" fill-rule="evenodd" d="M416.4,288.5L415.4,287.8L414.7,285.4L413.8,271.4L412.5,268.4L411.6,264.4L408.5,254.4L407.6,250.4L407.1,246.4L407.5,243.4L408.4,241.5L409.4,240.2L410.4,239.2L412.4,238.1L414.4,237.6L416.4,237.5L418.4,237.6L420.4,238.1L422.4,239.2L423.4,240.2L424.4,241.5L425.2,243.4L425.6,246.4L425.1,250.4L424.2,254.4L421.1,264.4L420.2,268.4L418.9,271.4L418.0,285.4L417.4,287.8Z"/>
<path fill="#04d3ee" fill-rule="evenodd" d="M416.4,288.5L415.4,287.7L414.8,285.4L413.8,271.4L412.5,268.4L411.6,264.4L408.5,254.4L407.6,250.4L407.1,246.4L407.5,243.4L408.4,241.6L409.4,240.2L410.4,239.3L412.4,238.2L414.4,237.6L416.4,237.5L418.4,237.6L420.4,238.2L422.4,239.3L423.4,240.2L424.4,241.6L425.2,243.4L425.6,246.4L425.1,250.4L424.2,254.4L421.1,264.4L420.2,268.4L418.9,271.4L417.9,285.4L417.4,287.7Z"/>
<path fill="#04e1ed" fill-rule="evenodd" d="M416.4,286.9L415.3,285.4L414.0,271.4L412.6,268.4L411.7,264.4L408.8,254.4L408.0,250.4L407.7,246.4L408.4,243.2L409.4,241.5L410.4,240.5L411.4,239.7L413.4,238.8L416.4,238.4L419.4,238.8L421.4,239.7L422.4,240.5L423.4,241.5L424.4,243.2L425.0,246.4L424.7,250.4L423.9,254.4L421.0,264.4L420.1,268.4L418.7,271.4L417.4,285.4Z"/>
<path fill="#1ee5dc" fill-rule="evenodd" d="M416.4,284.5L415.4,280.4L414.3,271.4L412.7,268.4L411.9,264.4L409.1,254.4L408.4,250.4L408.1,247.4L408.6,244.4L409.4,242.8L410.4,241.6L411.4,240.7L413.4,239.8L416.4,239.3L419.4,239.8L421.4,240.7L422.4,241.6L423.4,242.8L424.1,244.4L424.6,247.4L424.3,250.4L423.6,254.4L420.8,264.4L420.0,268.4L418.4,271.4L417.4,280.4Z"/>
<path fill="#38eacb" fill-rule="evenodd" d="M416.4,279.0L415.4,276.1L414.5,271.4L412.8,268.4L409.2,253.4L408.7,248.4L408.8,246.4L409.2,244.4L410.4,242.7L412.4,241.1L414.4,240.4L416.4,240.2L418.4,240.4L420.4,241.1L422.4,242.7L423.5,244.4L423.9,246.4L424.0,248.4L423.5,253.4L419.9,268.4L418.2,271.4L417.4,276.1Z"/>
<path fill="#55edaf" fill-rule="evenodd" d="M416.4,275.2L415.4,273.6L414.9,271.4L413.3,269.4L412.9,268.4L409.6,253.4L409.2,249.4L409.4,246.4L410.1,244.4L410.8,243.4L413.4,241.7L416.4,241.2L419.4,241.7L421.9,243.4L422.6,244.4L423.3,246.4L423.5,249.4L423.1,253.4L419.8,268.4L419.4,269.4L417.8,271.4L417.4,273.6Z"/>
<path fill="#73ef91" fill-rule="evenodd" d="M416.4,273.1L413.5,269.4L413.1,268.4L410.4,255.7L409.7,250.4L410.1,246.4L411.4,244.2L413.4,242.8L416.4,242.2L419.4,242.8L421.4,244.2L422.6,246.4L423.0,250.4L422.4,255.7L419.6,268.4L419.2,269.4Z"/>
<path fill="#8aef74" fill-rule="evenodd" d="M416.4,271.8L414.4,270.2L413.2,268.4L410.6,255.4L410.2,250.4L410.6,247.4L411.6,245.4L413.4,243.9L416.4,243.3L419.4,243.9L421.1,245.4L422.1,247.4L422.5,250.4L422.1,255.4L419.5,268.4L418.4,270.2Z"/>
<path fill="#9def58" fill-rule="evenodd" d="M417.4,270.8L416.4,271.2L415.4,270.8L413.8,269.4L413.3,268.4L411.4,258.4L410.7,252.4L410.9,249.4L412.0,246.4L413.4,245.0L414.4,244.6L416.4,244.3L418.4,244.6L420.4,245.9L421.6,248.4L422.0,251.4L421.4,257.4L419.4,268.4L418.9,269.4Z"/>
<path fill="#b1ee3d" fill-rule="evenodd" d="M417.4,270.4L416.4,270.8L415.4,270.4L414.4,269.8L413.5,268.4L411.8,259.4L411.2,253.4L411.4,250.3L412.4,247.4L413.4,246.3L414.4,245.7L416.4,245.3L418.4,245.7L419.4,246.3L420.3,247.4L421.1,249.4L421.5,252.4L421.0,258.4L419.2,268.4L418.4,269.8Z"/>
<path fill="#caed2d" fill-rule="evenodd" d="M416.4,270.4L415.4,270.3L414.4,269.6L413.6,268.4L412.1,259.4L411.6,253.4L412.0,250.4L412.8,248.4L414.4,246.9L416.4,246.4L418.4,246.9L419.9,248.4L420.7,250.4L421.1,253.4L420.6,259.4L419.1,268.4L418.4,269.6L417.4,270.3Z"/>
<path fill="#e3ec1c" fill-rule="evenodd" d="M418.4,269.5L417.4,270.1L416.4,270.3L415.4,270.1L414.3,269.4L413.7,268.4L412.3,259.4L412.1,253.4L412.7,250.4L413.4,249.1L414.4,248.2L416.4,247.6L418.4,248.2L419.4,249.1L420.3,251.4L420.6,253.4L420.3,260.4L419.0,268.4Z"/>
<path fill="#f1de13" fill-rule="evenodd" d="M417.4,270.0L415.4,270.0L414.5,269.4L413.9,268.4L412.5,258.4L412.5,254.4L413.1,251.4L414.4,249.5L415.4,249.0L416.4,248.8L417.4,249.0L418.4,249.5L419.4,250.8L419.9,252.4L420.3,255.4L420.0,260.4L418.8,268.4L418.2,269.4Z"/>
<path fill="#f4c310" fill-rule="evenodd" d="M417.4,269.8L415.4,269.8L414.0,268.4L412.8,259.4L412.9,255.4L413.4,252.7L414.4,250.9L415.4,250.2L416.4,250.1L417.4,250.2L418.7,251.4L419.4,252.7L419.8,255.4L419.8,260.4L418.7,268.4Z"/>
<path fill="#f7a80e" fill-rule="evenodd" d="M417.4,269.7L416.4,269.9L415.4,269.7L414.1,268.4L413.1,260.4L413.3,255.4L413.9,253.4L414.4,252.4L415.4,251.6L416.4,251.3L417.4,251.6L418.4,252.4L419.2,254.4L419.6,257.4L419.5,261.4L418.6,268.4Z"/>
<path fill="#f58d10" fill-rule="evenodd" d="M417.4,269.5L416.4,269.7L415.4,269.5L414.3,268.4L413.4,261.4L413.5,257.4L414.2,254.4L415.4,252.9L416.4,252.7L417.4,252.9L418.4,254.0L419.3,258.4L419.3,261.4L418.4,268.4Z"/>
<path fill="#f37311" fill-rule="evenodd" d="M416.4,269.6L415.4,269.4L414.4,268.4L413.6,260.4L414.4,255.8L415.4,254.3L416.4,254.0L417.4,254.3L418.4,255.8L419.1,260.4L418.3,268.4L417.4,269.4Z"/>
<path fill="#f15a12" fill-rule="evenodd" d="M416.4,269.5L415.4,269.2L414.6,268.4L413.9,261.4L414.4,257.7L415.4,255.8L416.4,255.4L417.4,255.8L418.4,257.7L418.8,261.4L418.1,268.4L417.4,269.2Z"/>
<path fill="#ee4213" fill-rule="evenodd" d="M417.4,269.0L416.4,269.3L415.4,269.0L414.8,268.4L414.2,263.4L414.4,259.4L415.4,257.2L416.4,256.7L417.4,257.2L418.3,259.4L418.5,260.4L418.5,263.4L417.9,268.4Z"/>
<path fill="#eb2a14" fill-rule="evenodd" d="M417.4,268.8L416.4,269.1L415.4,268.8L415.0,268.4L414.5,263.4L414.5,261.4L414.9,259.4L415.4,258.5L416.4,258.0L417.4,258.5L418.2,261.4L417.7,268.4Z"/>
<path fill="#df1e12" fill-rule="evenodd" d="M417.4,268.6L416.4,268.9L415.1,268.4L414.8,263.4L414.9,261.4L415.4,259.8L416.4,259.1L417.4,259.8L417.8,261.4L417.9,263.4Z"/>
<path fill="#d21210" fill-rule="evenodd" d="M417.4,268.4L416.4,268.7L415.3,268.4L415.1,262.4L415.4,261.2L416.4,260.3L417.4,261.2L417.6,262.4Z"/>
<path fill="#b50d0e" fill-rule="evenodd" d="M416.4,268.5L415.9,268.4L415.5,264.4L415.5,263.4L416.4,261.7L417.2,263.4L417.2,264.4L416.8,268.4Z"/>
</g></g>
<rect x="402.7" y="211.8" width="28.3" height="84.6" fill="none" stroke="#00103a" stroke-opacity="0.4" stroke-width="0.7"/>
<rect x="402.1" y="238.7" width="4" height="1.2" fill="#fff"/>
<rect x="402.1" y="267.6" width="4" height="1.2" fill="#fff"/>
<text x="27.0" y="9.0" font-size="11.2" fill="#000" text-anchor="start"  textLength="29.1" lengthAdjust="spacingAndGlyphs" stroke="#000" stroke-width="0.38">13 nJ</text>
<text x="67.1" y="9.0" font-size="11.2" fill="#000" text-anchor="start"  textLength="30.5" lengthAdjust="spacingAndGlyphs" stroke="#000" stroke-width="0.38">26 nJ</text>
<text x="113.0" y="9.0" font-size="11.2" fill="#000" text-anchor="start"  textLength="29.7" lengthAdjust="spacingAndGlyphs" stroke="#000" stroke-width="0.38">52 nJ</text>
<text x="150.1" y="9.0" font-size="11.2" fill="#000" text-anchor="start"  textLength="37.5" lengthAdjust="spacingAndGlyphs" stroke="#000" stroke-width="0.38">104 nJ</text>
<text x="195.8" y="9.0" font-size="11.2" fill="#000" text-anchor="start"  textLength="37.5" lengthAdjust="spacingAndGlyphs" stroke="#000" stroke-width="0.38">208 nJ</text>
<text x="274.1" y="9.0" font-size="11.2" fill="#000" text-anchor="start"  textLength="30.0" lengthAdjust="spacingAndGlyphs" stroke="#000" stroke-width="0.38">13 nJ</text>
<text x="315.2" y="9.0" font-size="11.2" fill="#000" text-anchor="start"  textLength="30.4" lengthAdjust="spacingAndGlyphs" stroke="#000" stroke-width="0.38">26 nJ</text>
<text x="361.0" y="9.0" font-size="11.2" fill="#000" text-anchor="start"  textLength="30.7" lengthAdjust="spacingAndGlyphs" stroke="#000" stroke-width="0.38">52 nJ</text>
<text x="401.1" y="9.0" font-size="11.2" fill="#000" text-anchor="start"  textLength="37.1" lengthAdjust="spacingAndGlyphs" stroke="#000" stroke-width="0.38">104 nJ</text>
<text x="0.3" y="9.2" font-size="12.3" fill="#000" text-anchor="start"  stroke="#000" stroke-width="0.38">(a)</text>
<text x="0.5" y="115.6" font-size="12.3" fill="#000" text-anchor="start"  stroke="#000" stroke-width="0.38">(b)</text>
<text x="0.5" y="213.7" font-size="12.3" fill="#000" text-anchor="start"  stroke="#000" stroke-width="0.38">(c)</text>
<text x="244.7" y="9.7" font-size="12.3" fill="#000" text-anchor="start"  stroke="#000" stroke-width="0.38">(d)</text>
<text x="245.0" y="111.0" font-size="12.3" fill="#000" text-anchor="start"  stroke="#000" stroke-width="0.38">(e)</text>
<text x="245.3" y="215.5" font-size="12.3" fill="#000" text-anchor="start"  stroke="#000" stroke-width="0.38">(f)</text>
<text x="470.5" y="10.0" font-size="12.3" fill="#000" text-anchor="start"  stroke="#000" stroke-width="0.38">(g)</text>
<text x="470.5" y="116.0" font-size="12.3" fill="#000" text-anchor="start"  stroke="#000" stroke-width="0.38">(h)</text>
<text x="470.5" y="214.0" font-size="12.3" fill="#000" text-anchor="start"  stroke="#000" stroke-width="0.38">(i)</text>
<text transform="translate(15.7,56.0) rotate(-90)" font-size="12.3" fill="#000" text-anchor="middle" stroke="#000" stroke-width="0.38">Single-pulse</text>
<text transform="translate(15.6,157.3) rotate(-90)" font-size="12.3" fill="#000" text-anchor="middle" stroke="#000" stroke-width="0.38">2-pulse-burst</text>
<text transform="translate(15.5,257.7) rotate(-90)" font-size="12.3" fill="#000" text-anchor="middle" stroke="#000" stroke-width="0.38">4-pulse-burst</text>
<text transform="translate(263.8,53.8) rotate(-90)" font-size="12.3" fill="#000" text-anchor="middle" stroke="#000" stroke-width="0.38">1p increment</text>
<text transform="translate(263.8,158.3) rotate(-90)" font-size="12.3" fill="#000" text-anchor="middle" stroke="#000" stroke-width="0.38">2p increment</text>
<text transform="translate(263.6,257.3) rotate(-90)" font-size="12.3" fill="#000" text-anchor="middle" stroke="#000" stroke-width="0.38">208 nJ burst</text>
<text x="39.4" y="96.3" font-size="11.8" fill="#fff" text-anchor="middle"  stroke="#fff" stroke-width="0.38">A</text>
<text x="82.2" y="96.3" font-size="11.8" fill="#fff" text-anchor="middle"  stroke="#fff" stroke-width="0.38">B</text>
<text x="124.9" y="96.3" font-size="11.8" fill="#fff" text-anchor="middle"  stroke="#fff" stroke-width="0.38">C</text>
<text x="167.6" y="96.3" font-size="11.8" fill="#fff" text-anchor="middle"  stroke="#fff" stroke-width="0.38">D</text>
<text x="210.4" y="96.3" font-size="11.8" fill="#fff" text-anchor="middle"  stroke="#fff" stroke-width="0.38">E</text>
<text x="39.4" y="196.7" font-size="11.8" fill="#fff" text-anchor="middle"  stroke="#fff" stroke-width="0.38">F</text>
<text x="82.2" y="196.7" font-size="11.8" fill="#fff" text-anchor="middle"  stroke="#fff" stroke-width="0.38">G</text>
<text x="124.9" y="196.7" font-size="11.8" fill="#fff" text-anchor="middle"  stroke="#fff" stroke-width="0.38">H</text>
<text x="167.6" y="196.7" font-size="11.8" fill="#fff" text-anchor="middle"  stroke="#fff" stroke-width="0.38">I</text>
<text x="210.4" y="196.7" font-size="11.8" fill="#fff" text-anchor="middle"  stroke="#fff" stroke-width="0.38">J</text>
<text x="39.4" y="294.8" font-size="11.8" fill="#fff" text-anchor="middle"  stroke="#fff" stroke-width="0.38">K</text>
<text x="82.2" y="294.8" font-size="11.8" fill="#fff" text-anchor="middle"  stroke="#fff" stroke-width="0.38">L</text>
<text x="124.9" y="294.8" font-size="11.8" fill="#fff" text-anchor="middle"  stroke="#fff" stroke-width="0.38">M</text>
<text x="167.6" y="294.8" font-size="11.8" fill="#fff" text-anchor="middle"  stroke="#fff" stroke-width="0.38">N</text>
<text x="210.4" y="294.8" font-size="11.8" fill="#fff" text-anchor="middle"  stroke="#fff" stroke-width="0.38">O</text>
<text x="279.2" y="96.4" font-size="11.6" fill="#fff" text-anchor="start"  textLength="20.9" lengthAdjust="spacingAndGlyphs" stroke="#fff" stroke-width="0.38">B-A</text>
<text x="321.6" y="96.4" font-size="11.6" fill="#fff" text-anchor="start"  textLength="21.0" lengthAdjust="spacingAndGlyphs" stroke="#fff" stroke-width="0.38">C-B</text>
<text x="364.3" y="96.4" font-size="11.6" fill="#fff" text-anchor="start"  textLength="20.9" lengthAdjust="spacingAndGlyphs" stroke="#fff" stroke-width="0.38">D-C</text>
<text x="408.0" y="96.4" font-size="11.6" fill="#fff" text-anchor="start"  textLength="19.9" lengthAdjust="spacingAndGlyphs" stroke="#fff" stroke-width="0.38">E-D</text>
<text x="278.4" y="196.3" font-size="11.6" fill="#fff" text-anchor="start"  textLength="21.7" lengthAdjust="spacingAndGlyphs" stroke="#fff" stroke-width="0.38">G-A</text>
<text x="321.6" y="196.3" font-size="11.6" fill="#fff" text-anchor="start"  textLength="20.4" lengthAdjust="spacingAndGlyphs" stroke="#fff" stroke-width="0.38">H-B</text>
<text x="366.9" y="196.3" font-size="11.6" fill="#fff" text-anchor="start"  textLength="16.2" lengthAdjust="spacingAndGlyphs" stroke="#fff" stroke-width="0.38">I-C</text>
<text x="408.8" y="196.3" font-size="11.6" fill="#fff" text-anchor="start"  textLength="19.1" lengthAdjust="spacingAndGlyphs" stroke="#fff" stroke-width="0.38">J-D</text>
<text x="288.7" y="293.9" font-size="11.8" fill="#fff" text-anchor="middle"  stroke="#fff" stroke-width="0.38">P</text>
<text x="332.3" y="293.9" font-size="11.8" fill="#fff" text-anchor="middle"  stroke="#fff" stroke-width="0.38">Q</text>
<text x="375.4" y="293.9" font-size="11.8" fill="#fff" text-anchor="middle"  stroke="#fff" stroke-width="0.38">R</text>
<text x="418.2" y="293.9" font-size="11.8" fill="#fff" text-anchor="middle"  stroke="#fff" stroke-width="0.38">S</text>
<text x="289.1" y="225.2" font-size="11.3" fill="#fff" text-anchor="middle"  stroke="#fff" stroke-width="0.38">8</text>
<text x="331.9" y="225.2" font-size="11.3" fill="#fff" text-anchor="middle"  stroke="#fff" stroke-width="0.38">16</text>
<text x="374.6" y="225.2" font-size="11.3" fill="#fff" text-anchor="middle"  stroke="#fff" stroke-width="0.38">32</text>
<text x="417.4" y="225.2" font-size="11.3" fill="#fff" text-anchor="middle"  stroke="#fff" stroke-width="0.38">64</text>
<text x="28.7" y="27.2" font-size="12.4" fill="#f41414" text-anchor="start"  stroke="#f41414" stroke-width="0.38">k</text>
<path d="M40.7,16.8V40.5M36.3,32L40.7,41.2L45.1,32" fill="none" stroke="#f41414" stroke-width="1.35"/>
<path d="M210.4,211.6V283" stroke="#fff" stroke-width="1.2" stroke-dasharray="3.3,1.8" fill="none"/>
<circle cx="416.3" cy="73" r="9.3" fill="none" stroke="#f02020" stroke-width="1.2" stroke-dasharray="3,1.6"/>
<rect x="302.5" y="309.8" width="84.3" height="4.1" fill="url(#cb)" stroke="#222" stroke-opacity="0.55" stroke-width="0.6"/>
<text x="291.0" y="316.3" font-size="11.5" fill="#000" text-anchor="middle"  stroke="#000" stroke-width="0.38">0</text>
<text x="393.0" y="316.3" font-size="11.5" fill="#000" text-anchor="start"  stroke="#000" stroke-width="0.38">10000</text>
<polyline fill="none" stroke="#0a78c8" stroke-width="1.25" stroke-linejoin="round" stroke-linecap="round" points="500.5,81.0 501.4,80.7 502.3,80.7 503.2,80.7 504.1,80.5 505.0,80.6 505.9,80.5 506.8,80.3 507.7,80.6 508.6,80.5 509.5,80.3 510.4,80.3 511.3,80.3 512.2,80.1 513.1,80.0 514.0,79.8 514.9,80.0 515.8,79.9 516.7,79.8 517.6,79.5 518.5,79.8 519.4,79.6 520.3,79.4 521.2,79.6 522.1,79.3 523.0,79.0 523.9,79.0 524.8,78.7 525.7,78.9 526.6,78.7 527.5,78.5 528.4,78.6 529.3,78.2 530.2,78.3 531.1,77.8 532.0,77.8 532.9,77.6 533.8,77.7 534.7,77.5 535.6,77.1 536.5,77.1 537.4,76.7 538.3,76.6 539.2,76.2 540.1,75.9 541.0,75.6 541.9,75.7 542.8,75.7 543.7,75.2 544.6,74.8 545.5,74.8 546.4,74.2 547.3,73.9 548.2,73.5 549.1,73.1 550.0,72.7 550.9,72.2 551.8,71.8 552.7,71.1 553.6,70.7 554.5,69.9 555.4,69.0 556.3,68.4 557.2,67.8 558.1,66.6 559.0,65.6 559.9,64.7 560.8,63.6 561.7,62.5 562.6,61.0 563.5,59.9 564.4,58.1 565.3,56.1 566.2,53.9 567.1,51.5 568.0,48.8 568.9,46.2 569.8,43.5 570.7,40.7 571.6,38.1 572.5,36.1 573.4,34.1 574.3,32.3 575.2,30.7 576.1,29.6 577.0,28.7 577.9,28.1 578.8,28.2 579.7,28.6 580.6,29.1 581.5,30.1 582.4,31.5 583.3,33.0 584.2,35.1 585.1,37.2 586.0,39.3 586.9,41.5 587.8,43.1 588.7,44.4 589.6,45.6 590.5,46.5 591.4,47.1 592.3,47.3 593.2,47.8 594.1,49.4 595.0,51.5 595.9,54.9 596.8,58.5 597.7,62.5 598.6,65.5 599.5,67.7 600.4,69.0 601.3,69.2 602.2,68.7 603.1,68.0 604.0,67.6 604.9,67.0 605.8,66.4 606.7,66.0 607.6,65.9 608.5,65.3 609.4,65.0 610.3,65.0 611.2,64.8 612.1,64.7 613.0,64.8 613.9,64.9 614.8,65.2 615.7,65.9 616.6,66.8 617.5,67.8 618.4,68.9 619.3,70.1 620.2,71.4 621.1,72.6 622.0,73.8 622.9,75.2 623.8,76.0 624.7,76.9 625.6,78.2 626.5,78.8 627.4,79.6 628.3,80.0 629.2,80.5 630.1,80.9 631.0,81.2 631.9,81.4 632.8,81.5 633.7,81.7 634.6,81.6 635.5,81.8 636.4,81.6 637.3,81.8 638.2,81.9 639.1,81.9"/>
<polyline fill="none" stroke="#dc5519" stroke-width="1.25" stroke-linejoin="round" stroke-linecap="round" points="500.5,77.8 501.4,77.2 502.3,77.3 503.2,77.2 504.1,77.0 505.0,76.5 505.9,76.5 506.8,76.5 507.7,75.8 508.6,75.9 509.5,75.8 510.4,75.3 511.3,75.3 512.2,74.9 513.1,74.7 514.0,74.5 514.9,74.5 515.8,74.2 516.7,74.1 517.6,73.6 518.5,73.5 519.4,73.5 520.3,73.5 521.2,73.2 522.1,72.9 523.0,71.9 523.9,71.5 524.8,71.2 525.7,71.0 526.6,70.5 527.5,69.9 528.4,69.7 529.3,69.8 530.2,69.3 531.1,69.3 532.0,68.8 532.9,68.3 533.8,68.2 534.7,67.5 535.6,67.0 536.5,67.2 537.4,66.2 538.3,66.1 539.2,65.7 540.1,65.1 541.0,64.4 541.9,64.3 542.8,63.4 543.7,62.9 544.6,62.5 545.5,62.1 546.4,61.4 547.3,60.8 548.2,59.8 549.1,59.0 550.0,57.9 550.9,57.1 551.8,56.0 552.7,54.7 553.6,53.5 554.5,52.1 555.4,50.6 556.3,49.2 557.2,47.7 558.1,46.3 559.0,44.5 559.9,43.0 560.8,40.9 561.7,39.1 562.6,37.2 563.5,35.5 564.4,33.9 565.3,31.7 566.2,29.2 567.1,26.4 568.0,23.4 568.9,21.3 569.8,20.3 570.7,19.6 571.6,19.6 572.5,20.0 573.4,20.8 574.3,22.1 575.2,24.0 576.1,26.3 577.0,28.7 577.9,31.1 578.8,34.0 579.7,36.1 580.6,38.3 581.5,40.0 582.4,42.2 583.3,43.6 584.2,45.2 585.1,46.2 586.0,47.2 586.9,47.4 587.8,47.4 588.7,47.4 589.6,47.2 590.5,47.0 591.4,46.3 592.3,45.8 593.2,45.7 594.1,46.2 595.0,48.1 595.9,51.3 596.8,55.3 597.7,60.3 598.6,64.8 599.5,68.2 600.4,70.5 601.3,71.7 602.2,71.9 603.1,71.7 604.0,70.6 604.9,69.8 605.8,68.7 606.7,67.6 607.6,66.9 608.5,66.3 609.4,65.4 610.3,64.8 611.2,64.0 612.1,64.0 613.0,63.4 613.9,62.8 614.8,62.5 615.7,62.4 616.6,62.3 617.5,62.0 618.4,61.9 619.3,61.6 620.2,61.8 621.1,62.3 622.0,62.6 622.9,63.1 623.8,64.3 624.7,65.0 625.6,66.2 626.5,67.7 627.4,69.2 628.3,70.4 629.2,72.1 630.1,73.2 631.0,74.6 631.9,75.7 632.8,76.7 633.7,78.0 634.6,78.7 635.5,79.1 636.4,79.5 637.3,80.2 638.2,80.2 639.1,80.4"/>
<polyline fill="none" stroke="#edb120" stroke-width="1.25" stroke-linejoin="round" stroke-linecap="round" points="500.5,60.7 501.4,60.3 502.3,60.5 503.2,60.0 504.1,59.4 505.0,59.1 505.9,59.5 506.8,58.4 507.7,58.1 508.6,57.9 509.5,57.6 510.4,57.2 511.3,56.6 512.2,56.2 513.1,56.2 514.0,55.7 514.9,55.0 515.8,55.2 516.7,54.7 517.6,54.0 518.5,54.0 519.4,54.9 520.3,55.5 521.2,54.7 522.1,53.6 523.0,52.5 523.9,52.4 524.8,51.6 525.7,51.5 526.6,51.1 527.5,51.2 528.4,50.2 529.3,49.8 530.2,49.5 531.1,49.0 532.0,48.7 532.9,48.4 533.8,48.0 534.7,47.7 535.6,46.6 536.5,46.6 537.4,45.8 538.3,44.7 539.2,43.6 540.1,43.2 541.0,42.4 541.9,41.0 542.8,40.6 543.7,39.7 544.6,38.6 545.5,38.0 546.4,37.2 547.3,36.0 548.2,35.2 549.1,34.1 550.0,33.1 550.9,32.1 551.8,31.0 552.7,29.6 553.6,27.9 554.5,27.0 555.4,25.1 556.3,23.9 557.2,22.7 558.1,20.9 559.0,19.2 559.9,17.6 560.8,16.9 561.7,15.8 562.6,15.3 563.5,15.3 564.4,15.6 565.3,16.6 566.2,18.4 567.1,20.4 568.0,23.4 568.9,26.2 569.8,28.5 570.7,30.9 571.6,32.7 572.5,34.6 573.4,36.5 574.3,38.0 575.2,39.9 576.1,41.2 577.0,43.0 577.9,44.0 578.8,45.2 579.7,46.4 580.6,47.1 581.5,47.4 582.4,48.2 583.3,48.2 584.2,48.7 585.1,48.6 586.0,48.3 586.9,48.7 587.8,47.9 588.7,47.5 589.6,46.7 590.5,46.4 591.4,46.0 592.3,45.3 593.2,45.1 594.1,46.5 595.0,49.0 595.9,52.3 596.8,56.9 597.7,61.9 598.6,65.6 599.5,69.3 600.4,71.0 601.3,72.4 602.2,72.3 603.1,71.5 604.0,70.7 604.9,69.2 605.8,68.3 606.7,67.0 607.6,66.3 608.5,65.7 609.4,65.4 610.3,64.7 611.2,64.6 612.1,64.5 613.0,64.1 613.9,64.2 614.8,64.0 615.7,63.8 616.6,63.5 617.5,63.4 618.4,63.6 619.3,63.9 620.2,63.5 621.1,64.5 622.0,65.2 622.9,66.4 623.8,67.3 624.7,68.8 625.6,69.5 626.5,71.4 627.4,72.8 628.3,74.2 629.2,75.3 630.1,76.5 631.0,77.9 631.9,78.9 632.8,78.6 633.7,79.7 634.6,80.4 635.5,80.7 636.4,80.8 637.3,80.7 638.2,80.9 639.1,81.4"/>
<polyline fill="none" stroke="#86289a" stroke-width="1.25" stroke-linejoin="round" stroke-linecap="round" points="500.5,15.5 501.4,15.7 502.3,16.0 503.2,17.1 504.1,17.7 505.0,18.7 505.9,19.3 506.8,19.8 507.7,20.7 508.6,20.4 509.5,21.4 510.4,21.6 511.3,20.9 512.2,21.6 513.1,21.3 514.0,22.3 514.9,22.6 515.8,22.5 516.7,23.2 517.6,23.5 518.5,25.4 519.4,27.2 520.3,26.9 521.2,25.4 522.1,24.7 523.0,24.2 523.9,24.5 524.8,24.5 525.7,23.9 526.6,23.7 527.5,24.6 528.4,24.9 529.3,24.5 530.2,24.2 531.1,24.8 532.0,25.3 532.9,24.0 533.8,24.9 534.7,24.6 535.6,24.5 536.5,25.1 537.4,24.5 538.3,25.2 539.2,25.6 540.1,24.9 541.0,24.1 541.9,23.1 542.8,22.7 543.7,22.0 544.6,23.0 545.5,22.0 546.4,21.4 547.3,21.0 548.2,20.9 549.1,21.0 550.0,20.5 550.9,21.6 551.8,20.8 552.7,21.1 553.6,21.8 554.5,22.5 555.4,22.8 556.3,22.4 557.2,23.0 558.1,23.5 559.0,24.9 559.9,26.4 560.8,27.6 561.7,29.3 562.6,31.7 563.5,33.2 564.4,36.3 565.3,37.9 566.2,39.6 567.1,41.8 568.0,43.7 568.9,45.9 569.8,48.6 570.7,49.8 571.6,51.0 572.5,52.8 573.4,53.5 574.3,54.5 575.2,55.2 576.1,55.5 577.0,56.3 577.9,56.1 578.8,56.9 579.7,57.0 580.6,57.3 581.5,58.3 582.4,58.4 583.3,57.2 584.2,57.3 585.1,57.5 586.0,57.6 586.9,56.8 587.8,56.9 588.7,56.4 589.6,57.8 590.5,56.9 591.4,56.8 592.3,56.5 593.2,57.2 594.1,58.8 595.0,60.6 595.9,62.7 596.8,63.9 597.7,65.6 598.6,65.8 599.5,66.4 600.4,66.9 601.3,66.5 602.2,65.3 603.1,65.0 604.0,65.9 604.9,66.4 605.8,67.4 606.7,66.7 607.6,66.4 608.5,65.5 609.4,64.7 610.3,64.7 611.2,64.3 612.1,63.3 613.0,62.6 613.9,62.7 614.8,61.9 615.7,62.1 616.6,61.3 617.5,61.0 618.4,61.4 619.3,61.2 620.2,61.5 621.1,60.3 622.0,60.0 622.9,59.2 623.8,58.5 624.7,58.2 625.6,58.8 626.5,58.3 627.4,59.6 628.3,60.3 629.2,60.3 630.1,61.8 631.0,62.3 631.9,63.8 632.8,64.5 633.7,66.2 634.6,66.6 635.5,68.4 636.4,69.2 637.3,70.5 638.2,72.0 639.1,72.7"/>
<rect x="500.3" y="11.6" width="139.3" height="70.6" fill="none" stroke="#3a3a3a" stroke-width="1"/>
<path d="M546.9,82.2v-2M546.9,11.6v2M593.3,82.2v-2M593.3,11.6v2M500.3,46.9h2M639.6,46.9h-2" stroke="#3a3a3a" stroke-width="0.9" fill="none"/>
<circle cx="602.6" cy="67.4" r="9.4" fill="none" stroke="#f02020" stroke-width="1.2" stroke-dasharray="3,1.6"/>
<path d="M593.3,11.6V282" stroke="#222" stroke-width="1" stroke-dasharray="1,1.2" fill="none"/>
<text x="490.0" y="16.1" font-size="11.2" fill="#000" text-anchor="start"  textLength="5.6" lengthAdjust="spacingAndGlyphs" stroke="#000" stroke-width="0.38">1</text>
<text x="479.4" y="51.5" font-size="11.2" fill="#000" text-anchor="start"  textLength="16.9" lengthAdjust="spacingAndGlyphs" stroke="#000" stroke-width="0.38">0.5</text>
<text x="489.8" y="86.9" font-size="11.2" fill="#000" text-anchor="start"  textLength="6.4" lengthAdjust="spacingAndGlyphs" stroke="#000" stroke-width="0.38">0</text>
<text x="491.3" y="99.8" font-size="11.2" fill="#000" text-anchor="start"  textLength="19.4" lengthAdjust="spacingAndGlyphs" stroke="#000" stroke-width="0.38">120</text>
<text x="540.7" y="99.8" font-size="11.2" fill="#000" text-anchor="start"  textLength="12.7" lengthAdjust="spacingAndGlyphs" stroke="#000" stroke-width="0.38">60</text>
<text x="590.2" y="99.8" font-size="11.2" fill="#000" text-anchor="start"  textLength="6.3" lengthAdjust="spacingAndGlyphs" stroke="#000" stroke-width="0.38">0</text>
<text x="629.3" y="99.8" font-size="11.2" fill="#000" text-anchor="start"  textLength="19.5" lengthAdjust="spacingAndGlyphs" stroke="#000" stroke-width="0.38">−60</text>
<text x="514.0" y="37.5" font-size="11.2" fill="#86289a" text-anchor="start"  textLength="20.9" lengthAdjust="spacingAndGlyphs" stroke="#86289a" stroke-width="0.38">E-D</text>
<text x="514.0" y="51.0" font-size="11.2" fill="#edb120" text-anchor="start"  textLength="20.5" lengthAdjust="spacingAndGlyphs" stroke="#edb120" stroke-width="0.38">D-C</text>
<text x="513.3" y="69.5" font-size="11.2" fill="#dc5519" text-anchor="start"  textLength="21.0" lengthAdjust="spacingAndGlyphs" stroke="#dc5519" stroke-width="0.38">C-B</text>
<text x="562.8" y="75.7" font-size="11.2" fill="#0a78c8" text-anchor="start"  textLength="20.9" lengthAdjust="spacingAndGlyphs" stroke="#0a78c8" stroke-width="0.38">B-A</text>
<polyline fill="none" stroke="#86329a" stroke-width="1.25" stroke-linejoin="round" stroke-linecap="round" points="500.5,144.5 501.4,144.9 502.3,145.3 503.2,144.9 504.1,145.8 505.0,146.1 505.9,146.0 506.8,146.6 507.7,146.3 508.6,147.3 509.5,147.0 510.4,147.3 511.3,147.8 512.2,147.5 513.1,147.8 514.0,147.4 514.9,147.6 515.8,147.4 516.7,147.7 517.6,148.1 518.5,148.1 519.4,148.9 520.3,149.1 521.2,148.9 522.1,148.3 523.0,148.4 523.9,148.4 524.8,148.4 525.7,148.7 526.6,148.6 527.5,148.6 528.4,149.1 529.3,148.5 530.2,148.8 531.1,149.3 532.0,148.8 532.9,149.0 533.8,148.6 534.7,149.4 535.6,148.1 536.5,148.4 537.4,148.4 538.3,149.2 539.2,148.8 540.1,148.6 541.0,148.2 541.9,148.6 542.8,148.3 543.7,148.0 544.6,147.6 545.5,147.5 546.4,147.7 547.3,147.5 548.2,147.2 549.1,146.9 550.0,146.4 550.9,147.0 551.8,146.8 552.7,147.2 553.6,147.6 554.5,147.5 555.4,147.7 556.3,148.7 557.2,149.0 558.1,149.4 559.0,149.4 559.9,151.1 560.8,152.1 561.7,153.2 562.6,153.7 563.5,154.7 564.4,155.7 565.3,157.0 566.2,157.2 567.1,158.4 568.0,159.0 568.9,160.2 569.8,160.5 570.7,162.0 571.6,162.5 572.5,163.3 573.4,164.3 574.3,165.1 575.2,164.8 576.1,166.0 577.0,166.2 577.9,166.3 578.8,167.1 579.7,166.9 580.6,167.4 581.5,167.0 582.4,167.0 583.3,167.6 584.2,167.8 585.1,167.3 586.0,167.3 586.9,166.8 587.8,166.4 588.7,166.6 589.6,167.1 590.5,166.0 591.4,166.5 592.3,166.1 593.2,167.1 594.1,168.4 595.0,169.0 595.9,170.4 596.8,171.7 597.7,171.7 598.6,171.5 599.5,171.5 600.4,171.1 601.3,171.7 602.2,171.0 603.1,171.4 604.0,171.4 604.9,171.1 605.8,171.2 606.7,171.7 607.6,171.4 608.5,171.3 609.4,170.6 610.3,171.3 611.2,170.6 612.1,170.1 613.0,170.5 613.9,170.6 614.8,171.0 615.7,170.2 616.6,169.7 617.5,170.6 618.4,169.9 619.3,169.5 620.2,169.0 621.1,168.8 622.0,169.2 622.9,168.3 623.8,167.9 624.7,167.5 625.6,167.9 626.5,167.1 627.4,167.4 628.3,167.5 629.2,167.9 630.1,167.9 631.0,168.9 631.9,169.8 632.8,170.0 633.7,170.4 634.6,170.9 635.5,172.0 636.4,172.4 637.3,173.1 638.2,173.7 639.1,173.7"/>
<polyline fill="none" stroke="#0a14f5" stroke-width="1.25" stroke-linejoin="round" stroke-linecap="round" points="500.5,142.6 501.4,142.4 502.3,142.2 503.2,142.2 504.1,142.3 505.0,141.9 505.9,141.5 506.8,141.9 507.7,141.2 508.6,140.9 509.5,140.4 510.4,140.6 511.3,140.0 512.2,139.9 513.1,139.9 514.0,139.4 514.9,139.4 515.8,138.8 516.7,138.1 517.6,137.9 518.5,138.6 519.4,140.5 520.3,141.0 521.2,139.6 522.1,138.4 523.0,137.4 523.9,136.7 524.8,136.0 525.7,136.1 526.6,135.6 527.5,135.1 528.4,134.5 529.3,133.9 530.2,133.6 531.1,133.2 532.0,132.5 532.9,131.9 533.8,131.2 534.7,130.8 535.6,130.2 536.5,129.3 537.4,129.1 538.3,128.5 539.2,127.8 540.1,126.8 541.0,125.8 541.9,124.6 542.8,124.3 543.7,122.9 544.6,123.4 545.5,123.5 546.4,123.1 547.3,121.6 548.2,120.2 549.1,119.3 550.0,119.1 550.9,119.3 551.8,119.4 552.7,119.5 553.6,119.6 554.5,120.2 555.4,121.0 556.3,120.9 557.2,121.9 558.1,123.4 559.0,124.3 559.9,125.2 560.8,126.9 561.7,128.2 562.6,130.2 563.5,132.5 564.4,134.3 565.3,134.9 566.2,137.3 567.1,139.3 568.0,140.1 568.9,141.9 569.8,143.7 570.7,144.3 571.6,145.7 572.5,146.5 573.4,146.8 574.3,148.4 575.2,148.9 576.1,149.9 577.0,150.8 577.9,151.0 578.8,151.0 579.7,151.5 580.6,151.6 581.5,152.0 582.4,151.2 583.3,151.1 584.2,150.7 585.1,151.5 586.0,151.6 586.9,151.7 587.8,152.2 588.7,153.1 589.6,154.2 590.5,155.9 591.4,157.8 592.3,161.0 593.2,164.2 594.1,168.1 595.0,172.3 595.9,176.4 596.8,178.7 597.7,180.3 598.6,180.7 599.5,180.2 600.4,178.1 601.3,176.5 602.2,174.4 603.1,173.7 604.0,172.3 604.9,171.2 605.8,170.2 606.7,169.8 607.6,168.8 608.5,167.9 609.4,167.8 610.3,166.6 611.2,166.2 612.1,166.9 613.0,165.7 613.9,165.4 614.8,165.2 615.7,165.2 616.6,165.3 617.5,165.0 618.4,164.7 619.3,164.2 620.2,163.5 621.1,163.6 622.0,163.5 622.9,162.9 623.8,162.1 624.7,161.9 625.6,161.1 626.5,160.7 627.4,160.0 628.3,160.3 629.2,160.6 630.1,160.9 631.0,161.7 631.9,162.9 632.8,163.6 633.7,164.0 634.6,164.9 635.5,165.9 636.4,166.9 637.3,168.2 638.2,169.4 639.1,170.2"/>
<rect x="500.7" y="113.8" width="138.6" height="70.2" fill="none" stroke="#3a3a3a" stroke-width="1"/>
<path d="M546.9,184.0v-2M546.9,113.8v2M593.3,184.0v-2M593.3,113.8v2M500.7,123.2h2M500.7,143.6h2M500.7,162.6h2M500.7,181.3h2M639.3,123.2h-2M639.3,142.4h-2M639.3,161.6h-2M639.3,180.6h-2" stroke="#3a3a3a" stroke-width="0.9" fill="none"/>
<text x="490.0" y="118.2" font-size="11.2" fill="#000" text-anchor="start"  textLength="5.6" lengthAdjust="spacingAndGlyphs" stroke="#000" stroke-width="0.38">1</text>
<text x="479.4" y="148.2" font-size="11.2" fill="#000" text-anchor="start"  textLength="16.9" lengthAdjust="spacingAndGlyphs" stroke="#000" stroke-width="0.38">0.5</text>
<text x="489.8" y="184.0" font-size="11.2" fill="#000" text-anchor="start"  textLength="6.4" lengthAdjust="spacingAndGlyphs" stroke="#000" stroke-width="0.38">0</text>
<text x="491.3" y="199.0" font-size="11.2" fill="#000" text-anchor="start"  textLength="19.4" lengthAdjust="spacingAndGlyphs" stroke="#000" stroke-width="0.38">120</text>
<text x="540.7" y="199.0" font-size="11.2" fill="#000" text-anchor="start"  textLength="12.7" lengthAdjust="spacingAndGlyphs" stroke="#000" stroke-width="0.38">60</text>
<text x="590.2" y="199.0" font-size="11.2" fill="#000" text-anchor="start"  textLength="6.3" lengthAdjust="spacingAndGlyphs" stroke="#000" stroke-width="0.38">0</text>
<text x="629.3" y="199.0" font-size="11.2" fill="#000" text-anchor="start"  textLength="19.5" lengthAdjust="spacingAndGlyphs" stroke="#000" stroke-width="0.38">−60</text>
<text x="512.6" y="130.7" font-size="11.2" fill="#0a14f5" text-anchor="start"  textLength="18.8" lengthAdjust="spacingAndGlyphs" stroke="#0a14f5" stroke-width="0.38">J-D</text>
<text x="514.6" y="162.6" font-size="11.2" fill="#86329a" text-anchor="start"  textLength="20.5" lengthAdjust="spacingAndGlyphs" stroke="#86329a" stroke-width="0.38">E-D</text>
<path d="M609.8,147.4L603.5,162" stroke="#f02020" stroke-width="1.2" stroke-dasharray="2.6,1.3" fill="none"/>
<path d="M599.8,159.9L606.8,163.2L600.8,169Z" fill="#f02020"/>
<polyline fill="none" stroke="#0a78c8" stroke-width="1.25" stroke-linejoin="round" stroke-linecap="round" points="501.7,266.6 502.6,266.6 503.5,266.6 504.4,266.6 505.3,267.1 506.2,267.1 507.1,266.8 508.0,266.8 508.9,266.9 509.8,267.0 510.7,267.3 511.6,267.2 512.5,267.2 513.4,267.2 514.3,267.2 515.2,267.0 516.1,266.9 517.0,266.7 517.9,266.3 518.8,266.6 519.7,267.3 520.6,267.2 521.5,267.2 522.4,267.1 523.3,266.5 524.2,266.2 525.1,266.5 526.0,266.1 526.9,266.0 527.8,265.6 528.7,265.7 529.6,265.5 530.5,265.5 531.4,265.4 532.3,265.2 533.2,264.9 534.1,264.8 535.0,264.2 535.9,264.4 536.8,264.2 537.7,263.8 538.6,263.5 539.5,263.4 540.4,262.9 541.3,262.9 542.2,262.6 543.1,262.0 544.0,261.8 544.9,261.6 545.8,261.2 546.7,260.8 547.6,260.1 548.5,259.6 549.4,259.1 550.3,258.7 551.2,258.4 552.1,257.5 553.0,257.0 553.9,256.5 554.8,255.4 555.7,255.2 556.6,254.6 557.5,254.4 558.4,254.0 559.3,253.0 560.2,252.6 561.1,252.2 562.0,251.5 562.9,250.9 563.8,250.3 564.7,249.9 565.6,248.8 566.5,248.7 567.4,248.2 568.3,248.0 569.2,247.9 570.1,247.1 571.0,246.8 571.9,246.7 572.8,246.1 573.7,245.9 574.6,245.7 575.5,245.5 576.4,244.9 577.3,244.8 578.2,244.8 579.1,244.8 580.0,244.0 580.9,244.4 581.8,244.1 582.7,243.5 583.6,243.1 584.5,243.3 585.4,242.8 586.3,242.6 587.2,242.5 588.1,241.9 589.0,241.5 589.9,241.0 590.8,240.5 591.7,239.9 592.6,239.5 593.5,239.8 594.4,241.4 595.3,244.2 596.2,246.4 597.1,248.7 598.0,250.6 598.9,253.0 599.8,254.5 600.7,256.0 601.6,257.1 602.5,258.5 603.4,259.5 604.3,260.0 605.2,260.8 606.1,261.7 607.0,262.0 607.9,262.6 608.8,263.1 609.7,263.5 610.6,264.3 611.5,264.2 612.4,264.8 613.3,265.1 614.2,265.0 615.1,265.6 616.0,265.8 616.9,266.1 617.8,266.6 618.7,267.2 619.6,268.0 620.5,268.6 621.4,268.8 622.3,269.5 623.2,270.3 624.1,271.1 625.0,270.9 625.9,272.3 626.8,272.6 627.7,273.5 628.6,273.8 629.5,274.4 630.4,275.3 631.3,276.2 632.2,276.7 633.1,276.9 634.0,278.1 634.9,278.3 635.8,279.0 636.7,279.4 637.6,279.6 638.5,280.1 639.4,280.4"/>
<polyline fill="none" stroke="#dc5519" stroke-width="1.25" stroke-linejoin="round" stroke-linecap="round" points="501.7,276.2 502.6,276.1 503.5,275.8 504.4,275.4 505.3,275.4 506.2,275.3 507.1,275.1 508.0,274.8 508.9,274.6 509.8,274.5 510.7,274.3 511.6,274.1 512.5,273.6 513.4,273.4 514.3,273.4 515.2,273.2 516.1,273.0 517.0,272.2 517.9,272.3 518.8,271.7 519.7,272.1 520.6,271.8 521.5,271.6 522.4,271.4 523.3,271.2 524.2,270.5 525.1,270.3 526.0,269.7 526.9,269.1 527.8,268.6 528.7,267.9 529.6,267.1 530.5,266.7 531.4,265.9 532.3,265.1 533.2,264.4 534.1,263.6 535.0,262.3 535.9,261.6 536.8,260.6 537.7,259.5 538.6,258.7 539.5,257.5 540.4,256.5 541.3,255.7 542.2,254.8 543.1,253.8 544.0,253.2 544.9,251.9 545.8,251.2 546.7,250.1 547.6,249.4 548.5,248.7 549.4,247.8 550.3,246.6 551.2,245.9 552.1,245.5 553.0,244.6 553.9,244.2 554.8,243.4 555.7,243.3 556.6,242.8 557.5,242.3 558.4,241.7 559.3,241.3 560.2,240.9 561.1,240.5 562.0,240.1 562.9,239.8 563.8,239.8 564.7,239.9 565.6,239.2 566.5,239.1 567.4,238.7 568.3,238.5 569.2,237.9 570.1,237.9 571.0,237.4 571.9,237.0 572.8,236.5 573.7,236.2 574.6,235.8 575.5,235.4 576.4,234.8 577.3,234.6 578.2,233.9 579.1,234.0 580.0,233.0 580.9,233.0 581.8,232.6 582.7,232.6 583.6,232.0 584.5,232.2 585.4,231.5 586.3,232.0 587.2,231.6 588.1,231.5 589.0,231.7 589.9,232.3 590.8,233.0 591.7,234.1 592.6,236.7 593.5,238.9 594.4,241.2 595.3,244.2 596.2,246.4 597.1,248.9 598.0,251.0 598.9,252.5 599.8,254.2 600.7,255.3 601.6,256.6 602.5,257.4 603.4,258.2 604.3,259.1 605.2,259.4 606.1,259.7 607.0,260.2 607.9,260.3 608.8,260.5 609.7,260.6 610.6,260.7 611.5,260.8 612.4,260.7 613.3,260.9 614.2,261.1 615.1,261.0 616.0,261.3 616.9,261.5 617.8,261.9 618.7,262.3 619.6,262.5 620.5,263.1 621.4,263.4 622.3,264.2 623.2,265.1 624.1,265.9 625.0,266.7 625.9,267.2 626.8,267.8 627.7,268.8 628.6,269.4 629.5,270.3 630.4,271.0 631.3,271.9 632.2,272.6 633.1,273.4 634.0,273.9 634.9,274.9 635.8,275.4 636.7,276.1 637.6,277.0 638.5,277.3 639.4,277.5"/>
<polyline fill="none" stroke="#edb120" stroke-width="1.25" stroke-linejoin="round" stroke-linecap="round" points="501.7,281.2 502.6,281.1 503.5,281.1 504.4,280.9 505.3,280.9 506.2,280.8 507.1,280.7 508.0,281.0 508.9,280.7 509.8,280.6 510.7,280.6 511.6,280.8 512.5,280.7 513.4,280.5 514.3,280.5 515.2,280.5 516.1,280.4 517.0,280.1 517.9,280.3 518.8,280.1 519.7,279.9 520.6,279.9 521.5,280.0 522.4,280.0 523.3,279.7 524.2,279.6 525.1,279.4 526.0,279.4 526.9,279.3 527.8,278.9 528.7,278.9 529.6,278.9 530.5,278.5 531.4,278.4 532.3,278.3 533.2,277.8 534.1,277.7 535.0,277.5 535.9,277.2 536.8,276.4 537.7,276.2 538.6,275.6 539.5,274.9 540.4,274.1 541.3,273.2 542.2,272.4 543.1,271.0 544.0,269.9 544.9,268.7 545.8,267.5 546.7,266.3 547.6,264.6 548.5,263.3 549.4,261.7 550.3,260.2 551.2,259.0 552.1,257.3 553.0,256.0 553.9,254.6 554.8,253.2 555.7,252.1 556.6,251.7 557.5,250.6 558.4,249.9 559.3,249.5 560.2,248.7 561.1,247.9 562.0,247.3 562.9,246.8 563.8,246.4 564.7,245.9 565.6,245.2 566.5,244.7 567.4,244.3 568.3,243.9 569.2,243.5 570.1,242.8 571.0,242.1 571.9,241.2 572.8,240.7 573.7,239.5 574.6,238.8 575.5,237.8 576.4,237.0 577.3,236.2 578.2,235.0 579.1,234.3 580.0,233.2 580.9,232.7 581.8,231.5 582.7,230.5 583.6,229.7 584.5,228.9 585.4,227.7 586.3,226.3 587.2,224.7 588.1,223.3 589.0,222.0 589.9,220.4 590.8,220.0 591.7,221.0 592.6,223.5 593.5,228.1 594.4,233.3 595.3,238.3 596.2,242.8 597.1,246.6 598.0,249.6 598.9,251.7 599.8,253.5 600.7,255.0 601.6,256.7 602.5,257.7 603.4,258.7 604.3,259.8 605.2,260.6 606.1,261.2 607.0,261.5 607.9,261.6 608.8,261.9 609.7,262.1 610.6,262.2 611.5,262.4 612.4,262.6 613.3,262.7 614.2,262.7 615.1,263.0 616.0,263.5 616.9,263.6 617.8,264.4 618.7,265.0 619.6,265.5 620.5,266.1 621.4,267.1 622.3,267.9 623.2,268.9 624.1,269.8 625.0,270.6 625.9,271.6 626.8,272.5 627.7,273.2 628.6,274.1 629.5,274.9 630.4,275.5 631.3,276.4 632.2,277.0 633.1,277.6 634.0,278.0 634.9,279.0 635.8,279.4 636.7,279.9 637.6,280.3 638.5,280.5 639.4,281.0"/>
<rect x="501.5" y="211.1" width="138.8" height="71.2" fill="none" stroke="#3a3a3a" stroke-width="1"/>
<path d="M548.2,282.3v-2M548.2,211.1v2M593.6,282.3v-2M593.6,211.1v2M501.5,223.2h2M501.5,253.0h2M640.3,223.2h-2M640.3,253.0h-2" stroke="#3a3a3a" stroke-width="0.9" fill="none"/>
<text x="490.0" y="227.2" font-size="11.2" fill="#000" text-anchor="start"  textLength="5.6" lengthAdjust="spacingAndGlyphs" stroke="#000" stroke-width="0.38">1</text>
<text x="479.4" y="257.0" font-size="11.2" fill="#000" text-anchor="start"  textLength="16.9" lengthAdjust="spacingAndGlyphs" stroke="#000" stroke-width="0.38">0.5</text>
<text x="489.8" y="286.7" font-size="11.2" fill="#000" text-anchor="start"  textLength="6.4" lengthAdjust="spacingAndGlyphs" stroke="#000" stroke-width="0.38">0</text>
<text x="491.3" y="297.0" font-size="11.2" fill="#000" text-anchor="start"  textLength="19.4" lengthAdjust="spacingAndGlyphs" stroke="#000" stroke-width="0.38">120</text>
<text x="540.7" y="297.0" font-size="11.2" fill="#000" text-anchor="start"  textLength="12.7" lengthAdjust="spacingAndGlyphs" stroke="#000" stroke-width="0.38">60</text>
<text x="590.2" y="297.0" font-size="11.2" fill="#000" text-anchor="start"  textLength="6.3" lengthAdjust="spacingAndGlyphs" stroke="#000" stroke-width="0.38">0</text>
<text x="629.3" y="297.0" font-size="11.2" fill="#000" text-anchor="start"  textLength="19.5" lengthAdjust="spacingAndGlyphs" stroke="#000" stroke-width="0.38">−60</text>
<text x="568.0" y="237.0" font-size="11.2" fill="#dc5519" text-anchor="start"  textLength="7.5" lengthAdjust="spacingAndGlyphs" stroke="#dc5519" stroke-width="0.38">P</text>
<text x="578.8" y="256.5" font-size="11.2" fill="#0a78c8" text-anchor="start"  textLength="7.2" lengthAdjust="spacingAndGlyphs" stroke="#0a78c8" stroke-width="0.38">E</text>
<text x="603.4" y="224.0" font-size="11.2" fill="#edb120" text-anchor="start"  textLength="7.5" lengthAdjust="spacingAndGlyphs" stroke="#edb120" stroke-width="0.38">S</text>
<path d="M513.5,229.6H538.6M530,224.6L538.8,229.6L530,234.6" stroke="#f02020" stroke-width="1.3" fill="none"/>
<text x="519.6" y="224.0" font-size="11.6" fill="#f41414" text-anchor="start" font-style="italic" stroke="#f41414" stroke-width="0.38">k</text>
<text transform="translate(464.2,145.3) rotate(-90)" font-size="12.2" fill="#000" text-anchor="middle" textLength="198.9" lengthAdjust="spacingAndGlyphs" stroke="#000" stroke-width="0.38">Luminescence intensity (Abt.Unt.)</text>
<text x="510.9" y="313.6" font-size="12.2" textLength="124.4" lengthAdjust="spacingAndGlyphs" stroke="#000" stroke-width="0.25">Position along <tspan font-style="italic">k</tspan> (µm)</text>
</svg>
</body></html>
